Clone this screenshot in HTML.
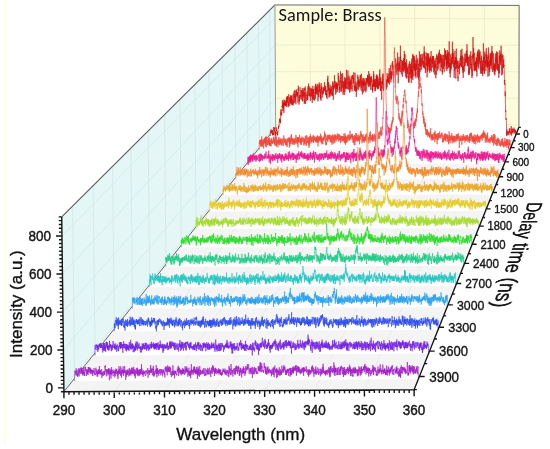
<!DOCTYPE html>
<html><head><meta charset="utf-8"><style>
html,body{margin:0;padding:0;background:#fff;}
body{width:550px;height:449px;overflow:hidden;position:relative;}
.edge{position:absolute;left:4px;top:0;width:1.5px;height:443px;background:#fffde2;}
svg{position:absolute;left:0;top:0;}
.dt{overflow:visible;transform-origin:0 0;}
</style></head><body>
<div class="edge"></div>
<svg width="550" height="449" viewBox="0 0 550 449">
<polygon points="63.93,391.69 61.72,216.83 274.96,4.94 275.67,127.48" fill="#e4f6f6"/>
<polygon points="275.67,127.48 274.96,4.94 519.15,5.40 518.91,127.34" fill="#fdfddb"/>
<polygon points="63.93,391.69 414.14,389.65 518.91,127.34 275.67,127.48" fill="#f4f4f4"/>
<path d="M270.35,134.12L269.61,10.26M259.35,147.84L258.55,21.25M247.84,162.20L246.98,32.75M235.79,177.23L234.86,44.79M223.17,192.99L222.16,57.41M209.92,209.52L208.82,70.66M196.00,226.89L194.81,84.58M181.36,245.16L180.07,99.22M165.94,264.40L164.55,114.65M149.67,284.70L148.16,130.93M132.50,306.13L130.85,148.13M114.32,328.81L112.54,166.33M95.07,352.84L93.12,185.62M74.63,378.34L72.51,206.10M63.88,387.91L275.65,124.82M63.40,350.06L275.50,98.26M62.92,312.11L275.35,71.65M62.44,274.06L275.19,45.00M61.96,235.93L275.04,18.31" stroke="#d2e9e9" stroke-width="0.8" fill="none"/>
<path d="M310.56,127.46L309.99,5.01M345.41,127.44L344.97,5.07M380.20,127.42L379.91,5.14M414.95,127.40L414.79,5.20M449.65,127.38L449.63,5.27M484.30,127.36L484.41,5.33M275.65,124.82L518.91,124.70M275.50,98.26L518.96,98.26M275.35,71.65L519.02,71.79M275.19,45.00L519.07,45.27M275.04,18.31L519.12,18.70" stroke="#ebeac4" stroke-width="0.8" fill="none"/>
<path d="M114.26,391.40L310.56,127.46M164.49,391.11L345.41,127.44M214.62,390.82L380.20,127.42M264.65,390.52L414.95,127.40M314.58,390.23L449.65,127.38M364.41,389.94L484.30,127.36" stroke="#e7e7e7" stroke-width="0.8" fill="none"/>
<rect x="276" y="5.6" width="114" height="18" fill="#fdfddb"/>
<path d="M61.72,216.83L274.96,4.94" stroke="#555" stroke-width="1.05" fill="none"/>
<path d="M274.96,4.94L519.15,5.40L518.91,127.34" stroke="#6a6a6a" stroke-width="1" fill="none"/>
<path d="M274.96,4.94L275.67,127.48" stroke="#9a9a9a" stroke-width="1" fill="none"/>
<path d="M63.93,391.69L275.67,127.48" stroke="#555" stroke-width="0.9" fill="none"/>
<defs>
<path id="t0" d="M2704 1360l-1-41 1-6 1 6 1 7 1-3 2 9 0-15 1-21 2 26 1 5 1-12 1 3 1 2 1 13 1-18 1-18 1 21 1-17 1 23 1 5 1 22 1-16 1 12 1-29 1-5 1 5 1 37 1-25 1-6 1 0 1 25 1-18 1-5 1-16 1-37 1 22 1-11 1-14 1 18 1-5 1 3 1 10 1 25 1-14 1-12 2 51 1-21 1 22 1 13 1-42 1 10 1 20 1-27 1-17 1-2 1-23 1 8 1-7 1-6 1 34 1-11 1 12 1-2 1 30 1 0 1 0 1-12 1-3 1 32 1-13 1-26 1 36 1-17 1-1 1-21 1 0 1 2 1-11 1-11 1-33 1 26 1-6 1-17 1-1 1-4 1 11 1-22 1 2 1-36 1 0 1 3 1-19 1 12 1-26 1 22 1-9 1 35 1-34 1 36 2 0 0-46 1-4 1-37 1-50 1 63 1-10 1-24 1-6 1 23 1 8 1-20 1-1 1 24 1-37 1-19 1 10 1-48 1 11 1-63 1 3 1-6 1 22 1-4 1 57 1-12 1-26 2 69 0-82 2 64 0-67 2 52 0-24 2 31 1 47 0-135 1 24 1 20 1-7 1-7 2 26 0-45 2 51 1-13 1 12 1-13 1 19 1-58 1 49 1-29 1 20 1 11 1-17 1 0 1-22 1 4 1-3 1 35 1-7 1-58 1 72 1 11 1-52 1-51 1 57 1-47 1 12 1 38 1-62 1 18 1-12 1 17 1-29 1 39 1 5 2 47 1 23 0-61 2 47 0-44 1-25 1-16 1-8 1-25 1 41 2 8 1 11 0-30 2 16 1 11 1 33 1 30 1-64 1 0 1 39 1-12 1-7 1-7 1-14 1 23 1-64 1 79 1-54 1 14 1-9 1-31 1 10 1 72 1 7 1-82 1 43 1-29 1-18 1 36 2 57 0-63 1 15 2 18 1-5 1 22 1 13 1-42 1 24 1 23 1-62 0-52 2 30 1 37 1 2 1 25 1-3 1-53 1 0 1-48 1 6 0-26 2 119 1-66 1 11 1-23 1 23 1-40 1-37 1 26 1 9 1 35 1-27 1 30 1 45 1-61 1 37 2 51 0-72 1-60 1 28 1 27 1-11 1-61 1 32 1 13 1 10 1-3 1-28 1 4 1 7 2 36 0-43 2 41 0-40 2 44 1 32 1-1 1 29 1-115 0-27 2 23 0-51 2 25 1 76 1 4 1 38 1 9 1 37 1-28 1-5 1-38 1 32 1 8 1-62 1 33 1-37 1 25 1-102 1 28 1 4 1-2 1 9 1 1 1 35 2 30 1 14 0-44 2 17 1 2 1 2 1-3 0-63 2 41 1 20 1 18 1 20 1-44 1-46 1 22 1-52 1 46 1 10 1 77 1-27 1 19 1-87 1 61 1-50 1-31 1 34 1 26 1-23 1 4 1 25 1-46 1-38 1 93 2 27 1 38 1-49 1 36 1-18 0-87 2 57 0-73 1-26 1 31 1-9 1-36 2 88 1 43 1 43 1-43 1-63 1-10 1 38 1-11 1-1 1 2 1 44 1 5 1-1 1 10 1-17 1-8 1 7 1-26 1-55 1 25 1 9 1 56 1-66 2 64 0-31 1-89 1-16 1 15 1 46 1-42 1 17 1-26 1-36 1 73 2 39 1 12 0-42 2 5 1 39 1-34 1 35 0-81 1-10 1-7 2 47 1-35 1 20 1 15 1 18 1 57 1 22 1-70 1 22 1-24 1-40 1 71 1-43 1-37 1-4 1 34 1-32 1 34 1 41 1-17 1-53 1 31 2 109 1-69 1 31 1-48 1 22 1-23 1 23 0-109 2 94 0-60 2 49 0-52 2 46 1-30 1-12 1 107 1-51 1 24 1 30 1-34 1-12 1-6 1 32 1 20 1-24 1 0 1-16 1-59 1-39 1 82 1-27 1 46 1 23 1-142 1 84 1-93 1 65 1-22 1 40 1 24 1-48 1 16 1-28 1 20 2 37 0-64 1 18 1-38 2 52 0-39 2 45 0-78 2 64 1 42 1-25 1-7 1 101 1-11 1-20 1 2 1-52 1 39 1-10 1-61 1 15 1-67 1 34 1 3 1 44 1-105 1 82 1-10 1 14 1-5 1 0 1-62 1 99 2 25 1-6 1 17 0-67 1 3 2 64 1 16 1-38 0-70 2 121 0-125 1-16 1-36 2 58 0-23 2 57 1 5 1-63 1 24 1 39 1 15 1 35 1-46 1-8 1-1 1-9 1 30 1-28 1 10 1-32 1-16 1 57 1 9 1-35 1 5 1-6 1-29 1 34 1-42 1 41 1-3 1 2 1-16 1-31 1-42 1 18 1-2 1 28 2 47 0-56 2 45 1-14 1-1 1 64 1-77 1-12 1 9 1 20 1 17 1 41 1-8 1 16 1-21 1 38 1-58 1-9 1 0 1 12 1-19 1 90 1-67 1-5 1-27 1-103 1 77 1-27 1-27 1-53 1 89 1 62 1-68 1-20 1 4 1 22 2 56 0-75 1 56 2 92 1-97 1 59 1-10 1-11 1-37 1 87 1 2 1-43 1-12 1 23 1-91 1 81 1-12 1-22 1 20 1 26 1-26 1 51 1-33 1-30 1-2 1-29 1 14 1 22 1-20 1 47 1 17 1-88 1 12 1-5 2 85 1-31 1 12 1 0 1 25 0-88 1-57 1 12 1 37 1-4 1-34 2 174 1-148 1 53 1-13 1-42 1 12 1 20 1-1 1-23 1 28 1-38 1-48 0-47 2 72 1 8 1 3 1-27 1 58 1-51 1 74 1-32 1 6 1-20 1 7 1 97 1-16 1-45 1 22 2 19 0-93 1 18 1 2 1 34 1-56 1 35 1-48 2 72 1-2 0-40 2 33 0-41 2 23 1 55 1-26 1 4 1-64 1 25 1-34 0-67 1-29 1 17 2 68 1-7 1-47 1 61 1 31 1-37 1-4 1 59 1 49 1 10 1-63 1-6 1 39 1-19 1-33 1 7 1-55 1 26 1-40 1 6 1-76 1 69 1 78 2 40 1 16 1-48 1 47 1-50 0-35 1-92 1 1 2 138 1-12 1-48 1 65 1-9 1-63 1 18 1-20 1 22 0-101 1 11 2 65 1 28 1 113 1-97 1 10 1-37 1-9 1 49 1 59 1-71 1 26 1-61 1 37 1 5 2 92 0-108 1 26 1-51 1-45 1 72 2 78 1-28 1-4 0-53 1-39 2 70 0-68 2 87 0-106 2 102 1-27 1 37 1-1 1-25 1 13 1-70 0-112 2 52 1 32 1 24 1 43 1-78 1 60 1 24 1 34 1-4 1 5 1-43 1 3 1-45 1-101 1 82 1 15 1-9 1 17 1 87 1-26 1-48 1 6 1-54 1-19 1 83 1-10 2 40 0-58 2 117 1-67 1-29 0-57 1 8 1-2 2 136 1-61 1 36 1-7 1-73 1 24 1 24 1-62 1 49 1-20 1-29 1 8 1-47 1 53 1 37 1-25 1 26 1 43 1-36 1 36 1 23 1-129 1-5 1-32 1 10 1-6 1 38 1-30 1 30 1-3 1-5 1 58 1-52 1 0 1-15 2 57 0-107 1 54 2 55 1 38 1-21 1 23 1 34 1-28 1 26 1-42 1 17 1-13 1-140 1 23 1 128 1-3 1 32 1-48 1 58 1-53 1-44 1 6 1 46 1 15 2 81 1-12 1-41 0-35 1-9 2 38 0-48 1-28 1 29 2 21 1 8 0-83 1 20 2 14 1-14 0-81 1 44 1-25 1 10 2 41 1 81 1-3 1-94 1 47 1 10 1-17 1-21 1-33 1 54 1 32 1-59 1-3 1 17 1-19 1 39 1-35 1 51 1-73 1-37 1 49 1 12 1-8 1-56 1 118 1 4 1 8 2 0 1 23 0-65 1-11 1-92 1 90 2 56 1-33 0-47 2 47 1-26 1-8 1 99 1-17 1 47 1-94 1-61 1-5 1 69 1-37 1 26 1 11 1-38 1 110 1-98 1 16 1-64 1 44 1 40 1-23 1-13 1 18 1-24 1 32 1 56 1-107 1 10 1 20 1-5 1-44 1 49 1 14 1-3 1-25 2 40 1-12 1 66 1 12 1-94 1 40 1 36 1-46 1-60 1-20 1 47 1-35 1-10 1 48 1-35 1 20 1 25 1 9 1-9 1-5 1-87 1 71 1-62 1 36 1-8 1 5 1 30 1-60 1 104 1-79 1 17 1-91 1 9 1 151 1-10 1-40 1 2 1 1 1 23 1-35 1-31 1 3 1-47 2 125 0-90 2 66 0-72 2 46 1 37 1-29 1 57 1 3 1 18 1-66 1-33 1-32 1 35 1-39 1 47 1 14 1-18 1-19 1 49 1 4 1 13 1 6 1 44 1-63 1 60 1-21 1 46 1-53 1-19 1 21 1-77 1 72 1-52 1 11 1 34 1-29 1-122 1 111 1-82 1 83 2 35 0-67 2 81 1-72 1 58 1 10 1-11 1-11 1 62 1 5 1-32 1 29 1-37 1-84 1 101 1-68 1 60 1-66 1 24 1-7 1-25 1-46 1 55 1 7 1 46 1-126 1 78 1-45 1 39 1-64 1 127 1-58 1-59 1 84 1 26 1-16 2 39 0-50 1-77 1 44 2 77 1-7 1-16 1-50 1 65 1-9 1-70 1-16 1 29 1 20 1 14 1-33 1 44 1-126 1 35 1-40 1-35 1 45 1 99 1-60 1 8 1 97 1 29 1-34 1 29 1-136 1 128 1-43 1-25 1-1 1-12 1 12 1 46 1-18 2 140 1-80 1 0 0-69 1-36 1 26 2-7 0-41 2 20 1 36 0-98 1-4 2 144 1-62 0-93 2 39 1 5 1 23 1 43 1 25 1 41 1-35 1 34 1-16 1 11 1-51 1 27 1-21 1-36 1 20 1-22 1-17 1-9 1 3 1 22 1-17 1 79 1-87 1 38 1 7 1-28 1 4 1-11 1 64 1-51 2 57 1 22 0-76 2 54 1-54 0-27 2 16 1 63 1-38 0-105 2 59 1 32 1-16 1-42 1 34 1 25 1-23 1-18 1 39 1 8 1-42 1 47 1-22 1 5 1-78 1 79 1-2 1-27 1-60 1-48 1 64 1 42 1 59 1-23 1-77 1-15 1 15 1-31 1-4 1-7 1 47 1-19 1 51 1-31 1-102 2 174 0-57 1-12 2 30 1 12 0-50 1-24 1-7 2 71 1-68 1 29 1-27 0-43 1-23 1-24 2 41 0-61 1 6 2 26 1 5 1 56 1-11 1-38 1 106 1-50 1 42 1 4 1 69 1-24 1-32 1-42 1-15 1 35 1 0 1 30 1-51 1 31 1-122 1 55 1 89 2 67 0-40 1-3 1-35 1-120 1 27 1 7 1-73 1-25 1 94 2 45 1 2 1-29 0-24 1-22 2 4 1-2 1-17 1 24 1 91 1-54 1-22 1 10 1-79 1 34 1 28 1-141 1 143 1 42 1-27 1-11 1 32 1 128 1-75 1-31 1 0 1-62 1-40 1 75 1 18 1-149 1 100 1 35 1-61 1-7 1 45 1-67 1 54 1 26 1-30 1-7 1 60 1-72 1-31 1-158 1 155 1-49 2 110 1 43 1-8 1 14 1-5 1 26 1-6 1-56 1-80 1 0 1 0 1 89 1 6 1-16 1 41 1 49 1-28 1 2 1-136 1 96 1-89 1 44 1-30 1 34 1 45 1 3 1-11 1-2 1 21 1-42 1-96 1 116 1-104 1 45 1-25 1-102 1 172 1-41 2 63 0-162 1 46 1-47 1 43 2 146 1-48 1-19 1-41 1 66 1 7 1 72 1-120 1-17 1 72 1 14 1 65 1-105 1-83 1 77 1-19 1 51 1 84 1-97 1-10 1 47 1-29 1-18 1 31 1-3 1 30 1 3 1-76 1 29 1 46 1 31 1-9 2 64 1-39 1-25 0-100 1 4 1-29 2 188 1-16 1-82 1 18 1-21 1-110 1 61 1 12 1 5 1-50 1 38 1 104 1-4 1-70 1-19 1 33 1-72 1-14 1 102 1-38 1 3 1 63 1 63 1-104 1-69 1-41 1 167 1-197 1 165 1-84 1-9 1 17 1 41 1 58 1-77 1 48 2 54 0-260 1 66 1-55 1 132 1-74 1 9 1-10 1-46 2 123 1-29 1 110 1-55 1-33 1 32 1-150 1 101 1-77 1 36 1 68 1-50 1 69 1-43 1-61 1 109 1-15 1 65 1-57 1-67 1 110 1-21 1 57 1-10 1-33 1-143 1-49 1 86 1 65 1-59 1 30 1-69 1 6 1 0 1 8 1 90 1 19 2 49 0-94 1-10 1-89 1 37 1-9 2 25 1 105 1-19 1 3 1-67 1-18 1 72 1 86 1-61 1 111 1-166 1 48 1 48 1-262 1 33 1 106 1-50 1 26 1 1 1 92 1-4 1-30 1 10 1-56 1 28 1-122 1 109 1-70 1 73 1-28 1-89 1 69 1 18 1 35 1 33 1-42 1 6 1-3 1-65 1-13 1 34 1 10 1-30 2 52 1-31 0-76 2 61 1 18 1 2 1 40 1 9 1-3 1-32 1 8 1-34 1 67 1-19 1 19 1-148 1 60 1-123 1 179 1-21 1 63 1-66 1-102 1 51 1 18 1-13 1 72 1 1 1-7 1 91 1-65 1 35 1-25 1-16 1-41 1-32 1-25 1 94 1-129 1 61 1 28 1 44 1-17 2-19 1 33 1 118 1-116 1-126 1 187 1-152 1 32 1 48 1-54 1 107 1-82 1-80 1 68 1 23 1-7 1-86 1 11 1 104 1-85 1 103 1-84 1 25 1 97 1-118 1 75 1 3 1-72 1 129 1 6 1-100 1 75 1-132 1 105 1 28 1-62 1-79 1 2 1 42 1-5 1-3 1 13 1-103 1 120 2 85 1-20 1-73 1-24 1 14 1 12 1-35 1 90 1-6 1-95 1 60 1-39 1-39 1 33 1 46 1-82 1 74 1 36 1-84 1-24 1 40 1-29 1 41 1 112 1-70 1-4 1-13 1 40 1-66 1-4 1 17 1 83 1-58 1 98 1-52 1-91 1 70 1-23 1-70 1 84 1 15 1-8 1-33 2 144 1-73 1 13 1 22 1 3 1-5 1-82 1 7 1-92 1-35 1 56 1-10 1-26 1 96 1 54 1-40 1 16 1-72 1-37 1 72 1-34 1-63 1 84 1-12 1 69 1-8 1-22 1-137 1 97 1-2 1 3 1-7 1-15 1 34 1-100 1 48 1-87 1 35 1-10 1 108 1-42 1 14 1 21 2 88 0-145 2 51 1 9 1-87 1 67 1-61 1 54 1-7 1-15 1 51 1 41 1 3 1-11 1-53 1-58 1 116 1-87 1 62 1 79 1-60 1 85 1-7 1-49 1-74 1-34 1-11 1-24 1 132 1-83 1 97 1-53 1-53 1-6 1-10 1-10 1-10 1 26 1 49 1 98 1-8 1-20 1-105 1 69 1-176 1 73 1 27 2-26 1-7 1 44 1-31 1 34 1-72 1-25 1 57 1-49 1 89 1 32 1 58 1-38 1-68 1 73 1-94 1 22 1 14 1 113 1-111 1-57 1 43 1-50 1 103 1-137 1 79 1-42 1 151 1-97 1 46 1-57 1 66 1-13 1-117 1 156 1 3 1-25 1 17 1-110 1-30 1 103 1 41 1-259 1 158 2 33 1-10 1 78 1-45 1 66 1 42 1-61 1 100 1-142 1 65 1-9 1-93 1-52 1 74 1 95 1-62 1-40 1 76 1-9 1-101 1 30 1 49 1-38 1 16 1-55 1 2 1-48 1 15 1 89 1-219 1 123 1 45 1-20 1 54 1-16 1-112 1 91 1 68 1-119 1 103 1-6 1 43 1-7 1 5 1-10 2-8 1 129 1-150 1 76 1-12 1-85 1 23 1 47 1-170 1 126 1-29 1 18 1-55 1 76 1-63 1 112 1-30 1 122 1-29 1-152 1 16 1-27 1-108 1 90 1 59 1-60 1 113 1-81 1 2 1 69 1-14 1-45 1 13 1 49 1-74 1 111 1-21 1 46 1 39 1-12 1 43 1-128 1-3 1-7 1 16 1-12 2-70 1 71 1-16 1-7 1 21 1-27 1 68 1 24 1-97 1 32 1-48 1 25 1-73 1 20 1 23 1 26 1 9 1-11 1-32 1-60 1 52 1-109 1 94 1-24 1 75 1 23 1-104 1 89 1 19 1-48 1-29 1-107 1 104 1-16 1 95 1-64 1-16 1-35 1 143 1-35 1 17 1 48 1-60 1 6 1 104 1-120 2 3 1 29 1 21 1-138 1 61 1-13 1 2 1 93 1-74 1 22 1-35 1-20 1-15 1-59 1 38 1 13 1 16 1-14 1 69 1-15 1-35 1 3 1-24 1 40 1-89 1 51 1 36 1 6 1-118 1 38 1 68 1-16 1-17 1-80 1 39 1-103 1 155 1-37 1 101 1-120 1 98 1-10 1-39 1-19 1 88 1-51 2-40 1 61 1 61 1 46 1 12 1-46 1-18 1-77 1-39 1 184 1-49 1 30 1-48 1 39 1-78 1 1 1-99 1 29 1 28 1-2 1 39 1 50 1-121 1-11 1 5 1-53 1 1 1 127 1 11 1-91 1 13 1 94 1 5 1-33 1-1 1 70 1-43 1 94 1 22 1-87 1 66 1-60 1-80 1-58 1 12 2-33 1 46 1-217 1 190 1 97 1-50 1-45 1-6 1-77 1 20 1 109 1 12 1 86 1-46 1 7 1-140 1 90 1 85 1-59 1-12 1 82 1-17 1-33 1-32 1 32 1 40 1-87 1 35 1-22 1 41 1-11 1-54 1 99 1-84 1-44 1 54 1-5 1 91 1-94 1 11 1-66 1 197 1-36 1-114 1-78 1 25 2-45 0 112 1 10 1-2 2-33 1 66 1-135 1-37 1 105 1 16 1-64 1 60 1 72 1-163 1 22 1 44 1-95 1 109 1 41 1-64 1 25 1-26 1-49 1 61 1 13 1-92 1 38 1 13 1 30 1 35 1-9 1 80 1-89 1 118 1-41 1 53 1-35 1-46 1-80 1 45 1-68 1 18 1 56 1 67 1-35 1 76 1-100 1-6 1 38 1 34 1 34 2-134 0 157 2-127 1 40 1 27 1 3 1-135 1-136 1 197 1-20 1-40 1 54 1-52 1 137 1-42 1 74 1-175 1 104 1 60 1-90 1-5 1-120 1 64 1-37 1-5 1 7 1 110 1-46 1 8 1 21 1-13 1 27 1 59 1-115 1 75 1-164 1-25 1 52 1 78 1-64 1 106 1-10 1-16 1-83 1 47 2-22 0 108 2-84 0 42 1 37 2-66 1 17 0 144 2-149 1 53 1-121 1-75 1 117 1-33 1 32 1 11 1 39 1 12 1 107 1-142 1 80 1-73 1-27 1 44 1 78 1-29 1-36 1-48 1-78 1 98 1-79 1 21 1 51 1 42 1-69 1 54 1-39 1-1 1-66 1 149 1-160 1 72 1 12 1 39 1-83 2-110 0 120 2-65 0 99 2-98 0 102 1 67 1 36 1-8 1-10 2-52 1-34 1 12 1 70 1-37 1 33 1-60 1-101 1 30 1 21 1 58 1 16 1 55 1-64 1 91 1-43 1 13 1-38 1-40 1 120 1-12 1 1 1-103 1 68 1-1 1 9 1-2 1-85 1-95 1 154 1-112 1 0 1 45 1-33 1 10 1 29 1-112 1 180 1-95 1 5 1 33 1-54 2-51 1 37 1 4 1-1 0 134 2-150 1-37 1 57 1 1 1 109 1-48 1 59 1 11 1-61 1 85 1-31 1 78 1-84 1-27 1 11 1-13 1-110 1 167 1 12 1-24 1-128 1-80 1 65 1 58 1 5 1-61 1 82 1-119 1-5 1 67 1-8 1 11 1-50 1 67 1-158 1 47 1 42 1 17 1 77 1 72 1 41 1-29 1-128 2-57 0 37 2-17 0 110 1 24 1 5 1 45 1-40 2-79 1-72 1 127 1-40 1 42 1-69 1 16 1-10 1-28 1 13 1 43 1 16 1-13 1 43 1 9 1 137 1-39 1 13 1-11 1 31 1 18 1-14 1 52 0 74 2-47 1 40 0 83 1 3 1 79 1-17 1 58 1 30 1-4 1 11 1-13 1 17 1 27 1 43 1 82 1-37 1 41 1-41 1-23 1 11 1 16 1 5 1 3 1 7 1 4 1 10 1-30 1 11 1-20 1 17 1-1 1 7 2-9 1-6 1 13 1 19 1 3 1-41 1 19 1-6 1-27 1 7 1 8 1 9 1-43 1 22 1-8 1 8 1 21 1 7 1-14 1 8 1 11 1 12 1-2 1-22 1 10 1-37 1-8 1-27 1 27 1 23 1 8 1 36 1-45 1-8 1-12 1 14 1 10 1 4 1-15 1-17 1 32 1-8 1 18 1-37 1 9 1 9 1 27 1-22 1 3 1-8 1-1 1-16 1 6 2-22 1 8 1 11 1 4 1 12 1-17 1 11 1-8 1 12 1 22 1-26 1 29 1-32 1-7 1 22 1-13 1-4 1 11 0 47"/>
<path id="t1" d="M2594 1498l-1-56 1-17 1 8 1-8 1-17 1 34 1-42 1 0 1-4 2 60 1-14 1-44 1 34 1 10 1 8 1 17 1-24 1 7 1-6 1-29 1 33 1-54 1 72 1-102 2 88 0-39 1-5 1 19 1-21 2 14 1 35 1-44 1-13 1 42 1 29 1-21 1-17 1 4 1-16 1 13 1 1 2 54 0-96 1 45 1-22 1 24 1-7 1-8 1-34 1 2 2 21 0-32 2 52 1-22 1 19 1-42 1 24 1-22 1-17 1 85 1-91 1 45 1 18 2 38 0-62 2 68 0-57 1 0 1-49 2 46 0-28 1 2 1-16 2 53 1-24 1 50 1-9 1-16 1-2 1 27 1-19 1-27 1 22 1-8 1 20 1-45 1-5 1 34 2 2 0-45 2 24 1 28 1 22 1-7 1-56 1 63 1-80 1 63 1 7 1-32 1 34 1-14 1 29 2 2 0-40 1 1 2 15 1 22 0-60 2 11 1 3 1 9 1 40 1-81 1 53 1-16 1-15 1 6 1 16 1-5 1-15 1-18 1 9 1 30 1-11 1 12 1 0 2 12 0-29 2 21 1-23 1 10 1 5 1 3 1-21 1-32 1-2 1 30 1 11 1 1 1-48 1 37 1 15 1-28 1 47 1-30 1 9 2 9 1 28 1-45 0-16 2 66 1-36 1-16 1-42 1 53 1 6 1-25 1-46 1 46 1 1 1-27 1 92 2 3 0-68 1 2 2 47 0-44 2 11 1-4 1 21 1-8 1 12 1-15 1 14 1-36 1 27 1 47 1-48 1-26 1 24 1-20 1 22 1-21 1 30 1-46 2 43 0-61 2 64 1 17 1-53 1 23 1 0 1-2 1 12 1 17 1-25 1-3 1-3 1-34 1 57 1-24 1-19 1 15 1 14 1-10 1-27 2 41 1-12 1 33 1-26 1 21 1-1 1-26 1-1 1-32 1 71 1-45 1-24 1 5 1 37 1 3 1-5 1-17 1-8 1 13 1-2 2 41 1 4 1 2 1-1 1-33 1-17 0-56 2 42 1 12 1-28 1 51 1-24 1-15 1 2 1 7 1 12 1 17 1-26 1 12 1-26 1 23 1-12 2 51 0-58 2 39 1 16 1-3 1-17 1-41 1 8 1 41 1-26 1 6 1 33 1-13 1 22 1-27 2 39 0-42 1 4 2-2 1 1 0-42 2 36 1-11 1-10 1-27 1 19 1 18 1 4 1-12 1-6 1-6 1 9 1-21 1 30 1-41 1 18 1 34 1-30 2 83 0-95 1 22 2 4 1 54 0-86 2 65 1-5 1-37 1 20 1 9 1-34 1 41 1-36 1 11 1-32 1 40 1-64 1 20 1-32 1 69 1-45 1 34 2 3 1 36 1-28 1-3 1 32 1 6 1-11 1-53 1 26 1-21 1 10 1 1 1 0 1 19 1-31 1 26 1-1 2 33 0-41 2 22 1-1 1-28 1 54 1-16 1-18 1-16 1 28 1-31 1-11 1 25 1 22 1-2 1-51 1 19 1 37 1-15 1-8 1-5 1-9 1-50 2 69 1-17 1 23 1-21 1 20 1-18 1 4 1-19 1 6 1 30 1-56 1 73 1-32 1-39 1 66 1-40 1 4 1 28 2 45 0-101 2 39 1 4 0-47 2 43 1-36 1 39 1-25 1 34 1-16 1 10 1-7 1-23 1 3 1-14 1-30 1 19 1 56 1-24 1 5 1-8 1 8 1-19 2 47 1-25 1 40 1-66 1 17 1-1 1 20 1-9 1 18 1-24 1 46 1-49 1 7 1-40 1 35 1-10 1-13 1 0 1 5 2 26 1 4 1-9 1-5 1 22 1 1 1-17 1-22 1 19 1-20 1-6 1 7 1 31 1 5 1 37 1-23 1-24 1 34 1-55 1-4 2 36 0-30 2 51 1-6 1-14 1-10 1 0 1 12 1-66 1 36 1 0 1-7 1 14 1 14 1 14 1 32 1-68 1 49 2 9 0-28 2 12 0-83 1 36 1-22 1 0 2 20 1 3 1 32 1-10 1 15 1-12 1 16 1-47 1 5 1 12 1 28 1-54 1 0 1 33 2 41 0-25 2-8 1 65 1-79 1 58 1-49 1-37 1 41 1-4 1 17 1-10 1-57 1 16 1 30 1-2 1-11 1-50 1 44 1-16 1 40 2 25 0-59 1 26 2 8 1-8 1-3 1-1 1 24 1-55 1 24 1-9 1 31 1-17 1-2 1-30 1 2 1 9 1 24 1 15 1-6 1-3 1-4 1 13 1-65 1 31 2 50 1-21 1 5 1-35 1-16 1 48 1-30 1 24 1-30 1-7 1 16 1-17 1 9 1 6 1 19 1-27 1 15 1 12 1-4 1 4 2 21 1-8 1-34 1 30 1-39 1 53 1 1 1-35 1-15 1 32 1-30 1-9 1-3 1 27 1-7 1 44 1-38 1-9 1-28 2 58 1-6 1 10 1-33 1 81 1-32 1-73 1 24 1 38 1-31 1-20 1 10 1 21 1 14 1-35 1 19 1-18 1 7 1-1 1-24 1 42 1-22 2 21 1-9 1 3 1 11 1-18 1-23 1-31 1 23 1 32 1-36 1 25 1-26 1 71 1-57 1 48 1-37 1 37 1-30 1 25 2 31 1-26 1-24 0-13 2 44 1-24 1-7 1-13 1 7 1 33 1 21 1-38 1 10 1-36 1 22 1-32 1 30 1-27 1 10 1-5 1 30 1-22 1 12 1-15 1-16 1-50 2 67 1-17 1 8 1-28 1 14 1-7 1 23 1-39 1 25 1 67 1-43 1 9 1 58 1-19 1 0 2 9 1-22 1 33 0-66 2-9 1 3 1 13 1-7 1 11 1-34 1 15 1-31 1 54 1-38 1 45 1-8 1 19 1-37 1 9 1-18 1-20 1 35 1-7 1-9 2 19 1 6 0-50 2 16 1-7 1 0 1 34 1-24 1-18 1 37 1-16 1 23 1-14 1-30 1 40 1 31 1-22 1 3 1-26 2 42 0-21 1-23 2 29 0-48 2 74 1-25 1 10 1-23 1-30 1 13 1 3 1 15 1 58 1-57 1 38 1-37 1-7 1 3 1-21 1 30 1-55 1 25 1-11 1 13 2 3 1 29 1-35 1 71 1-45 1 11 1-7 1-24 1 15 1-38 1 5 1 21 1-13 1 49 1 20 1-25 1-6 1-57 2 60 0-28 2 2 0-29 2 42 1-11 1 19 1 16 1 3 1-7 1-50 1 22 1 7 1-6 1 11 1-13 1-2 1-17 1-9 1 51 1-44 1-27 2 52 1-15 1-3 1-14 1 16 1 20 1-16 1-14 1 13 1-30 1 36 1 37 1-5 1-19 1-4 1-22 1 4 1-27 1 23 1-11 2 51 1-6 1-23 1 14 1-11 1 7 1 18 1-50 1 16 1 62 1-18 1-15 1-19 1 11 1 25 1-49 1 23 1-29 1 22 1-15 1 2 1-4 2 30 0-33 2 20 1 33 1-19 1-3 1-21 1-9 1 37 1-40 1 19 1 26 1-36 1 39 1-9 1-21 1-4 1 32 1-41 1-3 1 28 1-58 2 43 1-6 1 59 1-61 1 30 1-22 1 47 1-64 1-11 1-14 1 102 1-75 1 10 1 77 1-47 1-12 1-33 1 48 1-23 1 6 1-8 2 18 1-25 1 3 1 54 1-52 1 40 1-14 1-36 1 14 1-18 1-8 1 7 1 34 1 18 1-31 1-8 1 1 1 0 1-32 1 16 1 29 1-33 1-1 2 0 1 44 1 3 1-18 1 21 1-5 1-19 1 13 1-32 1 27 1-40 1 7 1-49 1 68 1-21 1-5 1 40 1-4 1-19 1-6 2 38 1-35 1 14 1-4 1-4 1 5 1-30 1 10 1 13 1-8 1-21 1 7 1-6 1 35 1 4 1-34 1 49 1-35 1 18 2 27 1 20 1-44 1 30 1 1 1 20 1-69 1 17 1-4 1-7 1 12 1 14 1-2 1 18 1 44 1-78 1 1 1 5 1-32 1 67 2 34 0-95 1 20 2 40 1-30 1-24 1 39 1-37 1-32 1 14 1 31 1-6 1 31 1-33 1 26 1 13 1 4 1-77 1 35 1 24 1-8 1-34 1 2 2 52 1-17 1-15 1 26 1 17 1-6 1-25 1 12 1 10 1-20 1-20 1 9 1 19 1-50 1 52 1-19 1 32 1-37 1 30 2 41 1-17 0-61 1 14 2 2 0-27 2 46 1-20 1 12 1-6 1-6 1-18 1-11 1-2 1-42 1 62 1-18 1-17 1 24 1-12 1-10 1 36 1-20 1-8 2 58 1 30 1-49 1 23 1-28 1 7 1-15 1-18 1 6 1 23 1 12 1 20 1-15 1-35 1-20 1 22 1 6 1 28 1 8 1 7 1-46 2 60 0-56 2 34 1-33 1 6 1-9 1-5 1 46 1-2 1-5 1 4 1-32 1 17 1-1 1-10 1 3 1-34 1 51 1-54 1-10 1 28 1-21 1 0 1 35 2 37 1-13 1-54 1 36 1-52 1-3 1 35 1-13 1 32 1-8 1 9 1-24 1 44 1-21 1-2 1-10 1 60 1-1 1-9 2-5 1-3 1-2 1-45 1 6 1 10 1 18 1-33 1-6 1-11 1 7 1-20 1-15 1 60 1 42 1-54 1 5 1 18 1-4 1-78 1 62 1 12 1-18 1-19 2 29 1 2 1-8 1 20 1-10 1 2 1 17 1-28 1 23 1-46 1 39 1-15 1 34 1-31 1 17 1-56 1 38 1-11 1 51 1-10 1-24 2 25 0-54 2 34 1-11 1-5 1 7 1-23 1 28 1-27 1-23 1 18 1 1 1 11 1-4 1-8 1 26 1 36 1-35 1 11 1-25 1 22 1-35 2 54 1-12 1-40 1 35 1-28 1 11 1 43 1-55 1-17 1 23 1 31 1-51 1 36 1-21 1-8 1 31 1 24 1-32 1-4 1 12 1-7 1-38 1 13 2 4 1 1 1-15 1-14 1 32 1 28 1-22 1 1 1-21 1-29 1 2 1 10 1 19 1 19 1-3 1 24 1-2 1-22 1 3 1-8 1-52 1 27 2 15 0-27 2 25 1-33 1 3 1-46 1 83 1-21 1 4 1-6 1-7 1 32 1-12 1-27 1-17 1 41 1 5 1-64 1-3 1-16 1 33 1-23 1-15 1-14 1-4 1-30 1-34 1 11 1-14 1-14 1-11 1-30 1-19 1-29 1-83 1-30 1-49 1-101 1-43 1-88 1-93 0-92 1-108 1-104 1-39 1-58 1-10 1 40 1 70 1 22 2 158 1 120 1 99 2 87 1 68 1 80 1 16 1 97 1 1 2 35 1 63 1-8 1 29 1 50 1-39 1 50 1 33 1 11 1 11 1-17 1 7 2 34 1-3 1 0 1 2 1 7 1 10 1-27 1-10 1 13 1 45 1-59 1 8 1 16 1-7 1 3 1 31 1 21 1-61 1 31 2-11 1 22 1-1 1-34 1 49 1-43 1 33 1-28 1-12 1-7 1 6 1 28 1-36 1-13 1 0 1-21 1 31 1 29 1-17 1-21 1-30 1 35 1-50 1-2 1 23 1-38 2 23 1-17 1 5 1-14 1 22 1-51 1 31 1-68 1-33 1-82 1-16 1-18 1-35 0-68 1-40 1-118 1 43 1-119 1-4 1-120 1 8 1-57 1 61 1 2 1 67 2 32 1 75 1 108 1-3 1 57 1-16 1 39 1 37 2 13 1 9 1 47 1-46 1 48 1 10 1 22 1-24 1-20 1-1 1 2 1-11 1 22 1-25 1 31 1-16 1-3 1-28 1 21 1 8 2 54 1-3 1-14 1-19 1 90 1-6 1 6 1 12 1 20 1-2 1 54 1-52 1 65 1-16 2-1 1-15 1 23 1 4 1-6 1 28 1-20 1-16 1 48 1 17 1-3 1-45 1 5 1 33 1-13 1-6 1-12 1 60 1-30 1-9 1-18 1-18 2 15 1-45 1 77 1-124 1 40 1-6 1 28 1-25 1-38 1 0 1 29 1 16 1-44 1-9 1-58 1 36 1-42 1-25 1 6 1-38 1 40 1-6 1-28 1-36 1 11 1-7 1-40 1 3 1 6 1-19 1 6 1-13 2 16 1 26 1 1 1 10 1-4 1 14 1 42 1 4 1 6 1-6 1 28 1-24 1 51 1-2 1 36 2 28 1-8 1 5 1 14 1 12 1 18 1 20 1 1 1-2 1 3 1 98 1-76 1-7 1 0 1 24 1 0 1 29 2-5 1-11 1 36 1-1 1-13 1 43 1-17 1 42 1-29 1 5 1 8 1 1 1-17 1 31 1-40 1-10 1-21 1 39 1-1 1-27 1-2 2 50 1-29 1 0 1 13 1 27 1-9 1-41 1-43 1 51 1-31 1 2 1 72 1-11 1-46 1 9 1 7 1 9 1-16 1 23 1-67 1 76 2 13 1-42 1-31 1 35 1-14 1 16 1-23 1 16 1-3 1 9 1-17 1-45 1 46 1-1 1-43 1 55 1 0 1-39 1 29 1-38 1-20 1 46 1-12 1-47 2 56 1-9 1-22 1 9 1 7 1-58 1 37 1-27 1 7 1-12 1 18 1-53 1 22 1-42 1 45 1-20 1-29 1-3 1 3 1-24 1 12 1-37 1 51 1-90 1-11 1-8 1-24 1 0 1-45 1-3 1-23 1-14 2 56 1-98 1 4 1-14 1 29 1-46 1-11 1 41 1-24 1-49 1 8 1-17 1 13 1-40 1 77 1-3 1-1 1 13 1-13 1-5 1 39 1-19 1 2 2 24 1-6 1 25 1 29 1-33 1 33 1-5 1 67 1 61 1-2 1-16 1 3 1 26 1-11 1 63 1 12 2-16 1 34 1 8 1-24 1 7 1 41 1-17 1 48 1-25 1 2 1 53 1-64 1-7 1 35 1-4 1-7 1 40 1-22 1 17 2 45 1-7 1 0 1-25 1 27 1-41 1 59 1 21 1-64 1-5 1 58 1 21 1-23 1 50 1-18 1 27 1-37 1 6 1 15 1 4 1 16 2-18 1-45 1 34 1-30 1 49 1-13 1 9 1-6 1-24 1 59 1-54 1 7 1 21 1-2 1 7 1-21 1 12 1 19 1-17 1-12 1 16 1 7 1-7 2 11 1-4 1 28 1-34 1-21 1 33 1 12 1-39 1 14 1-1 1-10 1-10 1 12 1 16 1-71 1 63 1 27 1-10 1-14 1 58 1-52 1 35 1-41 2 28 1 14 1-33 1-7 1 26 1-15 1 15 1-31 1 45 1-29 1 37 1-56 1 63 1-17 1-20 1 18 1 1 1 7 1-17 1 20 1-49 1-13 1-1 2 15 1-26 1 18 1-5 1 18 1 13 1 19 1 37 1-84 1 25 1-57 1 90 1-56 1 40 1-15 1 26 1-17 1 15 1-39 1 35 1-10 1-22 2 9 1 8 1-31 1 31 1-5 1 21 1 10 1 47 1-81 1 33 1-41 1-20 1 68 1-42 1 20 1-13 1 33 1-27 1-10 1-20 1-13 1 39 1 15 1-53 2 48 1-3 1-8 1-11 1-7 1 24 1-14 1-45 1 4 1 26 1 7 1 17 1-19 1 35 1-15 1 6 1-4 1-21 1-5 1 10 1-8 1 1 2 14 1 5 1-11 1-19 1-9 1 22 1 14 1-1 1-37 1 22 1 40 1-17 1 14 1 3 1 35 1-30 1 29 1-20 1-50 1 4 1 34 1 4 1 1 2 24 1-16 1-15 1 15 1-38 1 17 1 10 1-48 1 21 1 12 1-36 1 12 1 41 1-22 1 12 1 17 1-71 1 11 1 62 1-34 1 43 1-58 1 20 1 2 2-32 1 26 1 4 1-27 1 22 1-23 1 25 1-7 1 15 1 3 1 37 1-65 1 35 1-45 1 47 1-6 1 0 1-29 1 33 1-18 1 42 1-19 1-8 2 13 1 43 1-47 1 28 1-72 1 29 1-67 1 21 1 0 1 22 1-2 1-4 1 57 1-56 1 48 1-18 1 52 1-66 1-5 1 11 1 3 1 19 1-7 2-20 1 34 1-22 1-10 1 15 1-15 1-2 1 17 1-55 1 66 1-41 1 15 1 63 1-51 1-18 1 3 1 37 1-29 1 39 1-3 1-17 1-10 1-30 1 25 2-15 1 49 1 3 1-10 1-44 1 66 1-2 1-33 1-35 1 54 1-29 1 28 1-52 1 22 1 12 1 4 1-1 1-12 1 15 1 5 1 3 1-26 1 15 2-37 1 60 1-58 1-2 1-17 1 30 1 25 1-10 1-41 1 32 1 3 1 4 1-9 1 5 1 28 1-21 1-36 1-11 1 34 1 9 1-38 1 32 1 19 1-27 2-20 1-18 1 48 1-16 1 23 1-28 1 20 1 1 1 29 1-10 1 6 1 74 1-94 1 13 1-4 1-4 1-31 1 13 1 35 1-28 1 1 1 0 1 30 2-30 1 23 1-33 1-18 1 13 1 29 1 7 1 1 1-21 1 22 1-1 1 45 1-32 1-3 1-10 1-43 1 49 1-3 1-38 1 36 1-16 1-8 1 0 1 13 2-39 1-14 1 57 1-8 1-20 1 24 1 12 1-18 1-32 1 38 1-24 1 2 1 25 1-23 1 0 1-3 1 5 1 52 1-51 1 6 1-11 1 36 1-41 2 8 1 30 1-50 1 46 1 8 1-26 1 23 1-21 1 11 1-13 1-13 1 14 1-24 1-5 1 32 1-37 1 7 1 16 1-13 1-6 1 21 1 46 1-44 1 10 2 3 1-10 1 21 1-33 1 35 1 10 1-15 1-1 1-11 1 5 1 7 1-11 1 42 1-19 1-54 1 29 1-43 1 3 1 70 1-28 1-51 1 74 1-33 1 3 2-10 1-6 1-11 1-21 1 28 1-31 1 24 1-23 1 11 1 32 1-10 1 25 1 6 1-41 1 64 1-48 1-1 1 29 1-32 1 7 1 48 1-36 1 4 1 25 2-31 1-9 1 28 1 26 1-63 1 31 1 17 1-33 1 40 1-40 1-34 1 96 1-65 1 34 1-7 1 14 1-31 1 11 1 7 1 2 1-23 1-31 1 57 1-25 2 9 1 52 1-65 1 21 1-50 1 9 1 40 1-5 1 15 1 2 1-46 1 21 1 4 1-2 1-15 1-5 1 19 1 2 1-8 1-42 1 89 1-17 1-30 1 10 2-37 1 20 1-13 1 58 1-32 1 14 1-30 1 15 1-13 1 12 1 7 1 16 1-1 1 7 1 12 1-48 1 12 1-24 1 36 1 15 1-53 1 13 1-17 2-3 1-1 1-5 1 18 1 11 1 15 1-34 1 23 1 3 1-35 1 5 1-14 1 38 1-33 1 26 1 19 1 15 1-1 1-6 1-72 1 49 1-50 1 17 1 12 2 4 1-5 1-22 1 5 1 9 1 26 1 7 1-78 1 61 1 11 1-56 1 59 1-41 1 0 1 13 1-21 1 40 1-14 1-28 1-2 1 11 1 4 1 42 1 45 1-45 2 15 1-25 1-32 1 38 1-13 1 32 1-34 1 17 1 5 1-13 1 44 1-37 1 1 1-25 1 73 1-35 1-48 1 53 1-3 1-50 1-19 1 50 1 18 1 1 1 3 2 16 1 3 1-18 1 2 1-12 1 6 1 26 1-37 1 17 1 25 1-3 1-15 1 1 1-2 1-19 1-4 1 32 1-5 1 22 1-25 1-21 1-15 1 9 2 2 1 13 1-17 1 32 1-23 1 4 1 18 1-27 1-14 1 10 1 22 1-23 1-28 1 25 1-16 1 31 1-2 1 36 1-34 1 21 1-27 1 43 1-26 1-19 1-5 1 47 2-23 1-60 1 41 1 14 1 61 1-42 1-45 1 18 1-2 1-10 1 24 1-17 1 53 1-96 1 53 1 4 1-46 1 22 1-3 1 41 1-11 1-1 1 46 1-15 1 4 2-1 1 3 1 7 1-37 1 5 1-15 1 30 1 14 1 17 1-32 1 11 1-43 1-1 1 16 1 48 1 2 1-33 1 6 1-54 1 26 1 12 1-8 1-26 1 47 2-32 1 37 1-26 1 9 1-19 1 10 1-13 1 19 1 30 1 16 1-12 1-10 1-5 1 12 1-38 1 4 1 25 1 4 1-5 1-4 1-1 1 33 1-25 1 29 1-43 2-13 1 40 1-20 1 19 1 1 1-60 1 17 1 2 1 17 1-19 1 12 1-13 1 32 1-12 1 11 1 23 1-78 1 24 1 29 1 13 1-14 1 6 1-4 1 19 1-16 2-18 1-3 1 57 1-36 1 25 1 4 1-16 1 5 1-34 1-6 1 14 1 2 1-53 1 3 1 39 1 22 1-16 1-6 1 42 1-53 1 37 1-33 1 26 1-20 2 6 1-13 1-19 1 47 1-3 1-9 1 27 1-51 1 74 1-89 1 61 1-41 1-18 1 19 1 39 1-23 1-5 1-5 1-11 1 5 1-4 1 57 1-35 1 66 1-35 1 25 1 5 2-73 1 6 1-31 1 53 1-2 1-15 1 19 1-11 1 16 1-9 1 12 1-56 1 33 0 62"/>
<path id="t2" d="M2479 1642l-1-43 1-28 1 17 2 62 1-30 1-18 1-12 1-7 1-12 1 45 1 10 1-60 1 33 1 26 1-27 1-31 1 37 2-1 0-43 2 43 1-26 1 5 1 16 1-49 1 75 1-76 1 71 1-12 1-10 1-15 1 6 2 17 1-7 0-36 1-11 2 38 1-37 1 12 1 4 1 24 1 1 1-36 2 61 0-48 1-17 2 46 0-56 1 7 2 58 1-20 1-5 1-1 1-7 1-21 1-22 1 33 1 2 1 2 2 20 0-24 1-5 2 33 1-36 1 46 1-28 1-2 1-4 1 28 1-12 1-16 1-16 1 12 1 0 2 9 1-16 1 59 1-59 1 2 1 24 1 20 1-47 1 38 1-40 1 34 1-15 2 18 1 9 1-12 1-15 1 14 1 4 1-8 1-6 1 9 1-11 1-3 1 1 1-13 1 10 1-24 1 17 2-3 1 23 1 26 1-19 1-13 1-11 1 5 1-29 1 59 2 17 1-23 1 15 1-14 1-16 0-46 2 73 1-9 1-23 1 26 1-17 1-42 1 25 1 1 1-22 2 54 0-38 1-24 2 15 1 24 1-9 1-3 1-15 1 29 1-26 1 54 1-49 1-4 2 37 1-6 1-2 1-4 1-20 1 18 1 7 1 0 1-10 1-11 1 9 1-11 1 17 1 9 2 3 1-6 1 0 1-28 1 34 1-29 1 19 1-40 1 10 1-16 1 15 1 30 1-23 1 7 1-8 1 7 1-12 2-2 1 3 0-36 2 59 1 1 1 6 1 3 1 1 1-7 1 3 1-22 1 1 2 20 1-19 1-4 1 16 1 7 1 4 1-13 1 4 1 8 1-15 1-29 1 39 1-28 2 23 0-66 2 67 1 18 1 7 1 26 1-24 1-54 1 24 1 8 1-9 1-3 2 19 0-16 2-2 1 43 1-19 1 48 1-21 1-52 1-11 1-15 1 59 1-21 1 6 1-22 2 18 1 6 1-9 1 17 1-30 1 22 1-29 1 17 1 1 1 28 1 7 2-2 0-68 2 69 0-70 2 28 1 17 1-33 1 30 1-21 1 11 1-21 1 11 1 2 1 29 1-32 1 24 2-5 1-8 1 1 1 28 1-48 1 50 1-40 1 7 1-7 1 18 1-40 1 23 1-17 1 28 1-4 1-19 1-22 2 43 1-8 1 7 1 5 1 11 1-25 1 9 1 11 1-21 1-7 2 29 1 3 1-24 1-21 1 87 1-34 1-31 1 26 1-36 1-13 1 44 1-18 1-16 1 25 1-22 2 12 1 16 1-13 1 10 1-19 1 17 1-47 1 35 1-20 1-11 1 15 1 31 1-7 2-2 1-13 1 19 1 17 1-37 1 11 1-22 1-2 1 63 1-6 1-30 1-4 2 23 1 2 1 33 0-85 2 47 1-31 1 1 1 24 1-31 1-8 1 33 1 0 1-7 1-8 1-2 2 25 1-7 1-11 1 40 1-23 1-17 1 14 1 8 1-25 1 17 1-3 1 22 2 4 1 4 1-38 1 40 1-26 1-34 1-7 1-1 1 42 1-29 1 26 1-11 1 16 1-54 1 4 2 42 1 4 1-20 1-9 1-6 1 29 1 24 1-33 1-4 1 31 1-25 1 4 1 18 1-18 1-14 2 0 1 33 1-8 1-28 1 14 1-3 1-48 1 93 1-30 1 9 1-12 1-35 1 30 2-2 1-10 1 8 1-13 1-42 1 57 1-14 1-6 1 36 1-51 1 13 1 38 1-27 1-1 2 27 1-31 1 34 1 15 1-50 1 10 1-11 1 29 1-6 1-8 1-14 1 3 1-24 1 1 2 30 1 4 1-41 1 33 1-16 1 33 1 0 1 10 1 12 1-40 1 38 1-18 1-14 1-36 2 70 1-59 1 3 1 16 1-22 1 12 1 7 1 19 1-4 1-3 1 12 1-24 2 24 1-1 1 12 1-44 1 32 1 7 1-29 1 26 1-9 1 14 1-6 1 6 2 42 0-74 1 2 2 40 1-47 1 19 1-5 1-21 1 7 1 1 1-20 1 17 1 30 1 11 1-39 2 50 1-23 1 1 1 7 1-42 1 14 1 4 1-25 1 22 1-31 1-15 1 42 1 2 1-22 2 60 1-14 1-4 1 11 1-30 1-5 1 9 1 3 1-17 1-4 1-6 1 23 1-6 1-30 1 18 1-19 2 32 1-10 1 11 1-10 1-8 1 17 1-44 1 65 1-44 1 37 1-24 1 22 1-15 1-2 2 16 1 7 1-9 1-13 1-13 1-11 1 65 1-38 1 21 1-6 1-5 1-10 1 7 2 9 1-29 1 24 1 5 1-36 1 52 1-8 1-48 1 28 1 28 1-50 1-5 1 41 2 13 1-22 1-7 1 18 1 6 1-27 1-3 1 37 1-12 1-14 1 11 1-6 1 4 1-20 2 27 1-15 1 42 1-21 1-37 1 44 1-54 1 15 1 12 1 12 1 28 2 3 1-13 1-8 0-40 2 37 1-7 1 25 1-35 1 10 1-23 1-21 1 20 1 22 1-21 1 0 1 9 2 21 1-27 1 26 1-24 1 3 1 42 1-58 1-27 1 46 1 0 1-36 1 35 1-28 1-3 1 20 2 0 1 24 1 1 1-20 1 29 1-5 1 1 1-25 1 15 1 8 1-24 2 44 1-2 0-41 1-29 2 45 1-15 1 30 1-33 1-7 1-12 1 21 1-49 1 59 1-41 1 54 1-26 1 1 2-6 1 48 1 29 1-50 1 21 1-6 1-23 1-5 1-39 1 9 1-7 1 2 1 28 1-18 1-7 1-9 2 36 1 10 1 11 1-15 1-13 1-7 1 32 1-9 1 7 2 16 1 5 1-19 1 22 1-31 1 25 1-26 1 23 1-43 1 10 1-9 1 43 1 10 1-1 1-22 1-26 2 4 1 0 1 35 1-45 1 9 1 24 1 37 1-34 1-13 1-32 1 26 1 6 1-30 1 1 2 21 1-4 1-8 1 41 1-16 1 19 1 10 1-31 1-18 1-21 1 16 1-8 1 26 2 28 1-12 1-18 1 19 1-46 1 7 1 36 1-36 1 18 1-23 1 29 1-22 1 19 1 0 1-16 1-10 2 37 1-2 1 23 1-24 1-5 1 29 1-22 1 5 1-32 1-18 1 8 1 12 2 15 1 16 1-27 1-26 1 34 1-6 1 4 1 12 1-42 1 9 1 44 1-2 1-48 1 39 1-19 2 16 1-28 1 20 1-5 1 11 1-53 1-9 1 50 1-4 1 5 1 13 1 1 1 5 1-19 2 41 1-5 1-30 1 36 1-62 1 33 1-9 1-19 1 30 1-1 1 14 1-23 1-6 2 30 1-28 1-5 1 9 1 21 1-35 1-11 1 32 1 23 1-23 1-17 1-29 1 0 1 11 2 28 1-22 1 20 1 21 1 13 1-56 1 46 1-54 1-16 1 48 1 21 1-2 1-2 1-28 1-20 2 29 1-9 1 7 1-35 1 3 1 36 1-8 1-8 1 37 1-23 1-19 1 38 1-27 2 9 1 18 1-26 1 39 1-29 1 7 1-32 1 30 1-31 1-2 1-7 1-5 1 63 1-26 2 19 1-38 1-6 1 32 1-7 1-17 1 25 1 11 1 33 1-14 1-30 2 46 0-34 2 2 1 4 1-17 1 28 1-42 1 31 1-32 1 27 1-20 1 9 1-39 1 53 1-5 1-38 1 14 2 17 1 5 1 21 1-17 1-7 1-11 1 6 1-13 1-17 1 36 1-19 1-45 1 24 1-23 2 61 1-14 1 14 1-11 1 27 1 12 1-28 1 36 1-38 1-22 1 31 1-17 1 10 1-18 1 3 2-4 1 3 1 25 1-39 1 27 1 23 1-38 1 32 1-50 1 17 1 14 1 6 2 9 1 1 1-18 1-23 1 19 1 0 1-14 1 11 1 16 1 4 1-55 1 35 1-33 1-1 1 34 1-10 2 20 1-9 1-8 1-1 1-28 1 36 1-11 1 26 1 0 1-16 1 67 1-58 2 25 1-25 1 5 1 0 1-4 1 53 1-92 1 24 1 19 1 28 1-53 1-23 1 18 1 40 1-22 1-26 2 22 1-23 1 39 1-8 1 36 1-70 1 12 1 25 1 31 1-50 1 45 1-3 2 10 1-14 1-15 1-1 1-42 1 11 1 16 1 16 1-10 1 24 1-35 1 27 1-6 1-15 1 23 2 10 0-46 2 58 1-2 1 3 1-7 1-15 1 54 1-59 1-40 1 4 1 7 1 18 1-8 1 9 2 16 1-43 1-13 1 18 1 8 1-17 1 8 1-18 1 30 1 31 1-39 1-2 1 35 1-20 1-10 2 68 0-102 2 36 1 21 1 18 1 5 1-104 1 70 1-27 1 36 1-3 1-16 1 32 2-19 1-1 1-16 1-8 1 22 1-29 1 39 1-3 1-12 1 2 1-22 1 74 1-16 2 18 0-64 2 16 1 30 1-26 1 37 1-34 1-38 1 17 1-27 1 55 1-32 1 20 1-9 1-5 1-23 1-7 2 28 1-1 1 15 1-6 1 21 1-38 1 4 1 10 1 12 1 22 1 13 2 7 1-6 0-54 2 21 1 29 1-18 1-56 1-14 1 12 1-45 1 75 1-19 1 26 1-55 1 38 1 1 1 1 2 21 1-11 1 47 1-36 1 11 1-37 1-12 1 21 1 28 1 5 1-32 1 23 1 1 2 18 1-23 1 5 1-8 1 38 1-19 1 21 1-41 1-3 1 5 1-24 1 48 1-52 1 23 1-6 2 0 1 14 1-7 1-44 1 35 1-3 1 16 1-23 1 4 1 39 1-64 1 23 1 10 1 15 2 11 1-20 1-55 1 63 1 13 1-25 1-2 1-16 1 45 1-16 1-4 1-28 1-3 1 21 1-14 2 23 1 3 1 46 1-31 1 0 1-37 1 2 1 19 1-22 1 5 1-9 1 21 1 4 1-50 2 36 1-30 1 35 1-13 1 5 1 18 1-29 1 42 1-34 1 45 1-60 1 12 1-22 1-18 2 52 1-17 1 26 1-12 1-5 1 6 1-11 1 5 1-14 1 27 1-20 1 24 1-13 2 56 1-46 1-1 1 10 1-4 1 22 1-26 1-5 1-19 1-7 1 18 1-4 1-6 1 29 1-34 1-20 2 31 1 14 1-19 1-23 1-8 1 48 1-36 1 17 1-7 1-16 1-8 1 13 1 9 1-16 1 13 1-57 2 64 1-43 1 7 1-3 1 10 1-31 1-30 1-29 1-40 1-47 1-36 1-74 0-74 1-49 1-91 1-28 1 14 1 22 2 55 1 100 1 93 1 0 2 38 1 78 1 16 1 25 1 88 1-36 1 17 2 7 1-9 1 54 1-57 1-1 1 92 1-34 1-20 1 30 1 2 1-15 1 7 2 22 1-15 1-12 1-7 1 1 1 24 1-22 1 39 1-19 1-19 1-3 1 15 1 3 1 43 2-8 1-1 1-14 1-7 1-63 1 15 1 34 1-11 1-5 1 1 1-2 1 30 1-63 1 10 1 1 1 13 1-3 2 23 1 37 1-40 1 1 1 22 1 13 1-71 1 43 1-15 1 17 1-46 1 60 1-58 2 62 0-76 2 25 1 36 1-45 1 1 1 25 1-49 1-5 1-24 1 23 1-28 1-13 1-43 1-12 1-19 1-81 1-3 1-76 1-40 1-7 1-1 1-41 1 13 1 29 2 62 1 44 1 61 1 34 1-53 1 58 1 61 1-24 2 4 1 51 1-23 1-12 1-17 1 2 1 37 1-7 1-25 1-3 1-22 1 29 1-26 1 0 1-5 1-15 1-53 1-1 2 8 1 68 1-28 1-25 1 56 1 37 1-15 1 26 1 10 1-6 2 3 1 19 1 1 1 22 1-17 1-9 1 22 1 17 1 33 1-48 1 42 1-43 1 16 2-24 1-2 1 34 1 61 1-14 1-18 1 0 1-26 1-35 1 25 1 14 1-31 1 30 1-20 2 11 1 46 1-58 1-18 1 39 1-27 1-1 1 9 1-5 1-35 1 26 1-6 1-31 1-8 1-23 1 30 2 3 0-58 2 45 1-29 1-10 1-46 1 24 1 14 1-36 1-44 1 44 1-28 1-62 1 9 1 19 1-14 1 1 1 33 2-1 1-27 1 36 1-2 1 35 1 22 1-8 1 34 1-14 1 27 1 15 2 14 1 25 1-40 1 60 1-32 1 33 1-40 1 26 1-5 1-2 1 9 1 12 1 6 2 7 1 20 1 0 1 3 1 17 1 5 1-30 1 55 1-65 1 39 1-28 1 6 1-1 1-17 1-24 2 35 1-3 1 11 1-48 1 24 1 11 1 35 1 48 1-44 1 42 1-32 1-40 1 24 2-2 1 29 1-59 1 15 1 21 1-16 1 38 1-16 1-26 1-20 1 10 1 16 1-21 1-33 1 36 1-10 2 5 1 25 1-11 1 33 1-25 1-9 1-6 1-6 1 40 1-16 1 8 1 7 1-3 1-16 2-3 1 14 1-71 1 52 1-17 1 13 1-65 1 96 1-38 1-9 1-16 1 29 1 21 1-53 1 11 2 11 1-4 1 0 1-5 1 41 1-31 1 17 1-22 1-1 1 20 1-56 1 2 1 22 1-5 1-12 1-24 2-22 1 38 1-9 1-34 1 0 1-10 1-5 1 1 1-43 1 11 1 19 1-40 1-24 1 15 1-11 1 0 1-29 1-21 1-40 2 25 1-6 1-43 1-38 1 26 1-53 1-5 1-8 1-37 1-30 1 43 1-33 1 11 1-6 1 26 1 31 2-9 1 30 1 49 1 40 1-6 1 0 1 8 1 48 1 18 1 47 2-8 1 4 1 24 1-1 1 22 1 2 1-21 1 39 1-23 1-13 1 46 1 7 1 14 2 15 1-6 1 24 1-9 1 17 1 16 1-23 1-25 1-1 1 19 1-4 1 26 1-8 1-10 2 6 1-5 1 63 1-54 1 28 1-20 1 31 1-24 1 24 1 18 1-31 1 12 1-11 1-11 2-4 1 4 1-6 1 48 1-56 1 37 1-18 1 12 1 18 1-36 1 41 1-6 1-37 1 72 2-11 1-51 1 29 1-20 1 20 1 4 1-11 1 29 1-2 1-13 1 27 1 7 1 1 1-58 1-29 1 3 2 26 1-7 1 9 1-16 1-13 1 29 1 4 1 66 1-67 1 31 1-17 1-11 1 4 1-16 1-24 2 66 1-21 1-66 1 24 1 28 1-5 1-3 1-21 1 25 1-6 1 31 1-46 1 28 1 22 2 16 1-31 1-23 1-32 1 7 1 46 1 3 1 12 1-29 1 25 1-21 1 11 1 4 1 28 1-43 2 22 1 15 1-28 1-7 1 3 1-18 1-5 1-22 1 47 1-27 1 73 1-89 1 39 1-21 2 35 1-10 1 2 1 24 1-2 1 44 1-69 1 13 1 0 1-33 1 11 1-3 1 41 1-38 1 14 1-17 2 38 1 21 1-14 1-38 1 56 1-41 1 27 1 32 1-59 1-40 1 33 1 30 1-13 1 20 1-67 2 48 1 58 1-67 1 1 1 22 1-17 1-15 1-35 1 49 1 9 1-31 1 30 1 2 1-27 2-25 1 14 1 16 1-28 1 8 1 65 1-6 1-5 1-18 1-14 1-2 1-10 1-12 1 32 1 21 2-45 1-15 1 22 1 11 1-19 1 20 1 22 1-14 1-19 1 12 1-4 1 24 1-21 1-43 1 58 2 2 1-36 1 22 1 26 1-16 1-36 1 16 1-32 1 21 1 5 1-16 1 35 1-29 1 28 1 10 2-9 1 17 1 9 1-11 1-34 1 0 1 4 1-8 1 36 1-5 1-54 1 66 1-44 1 33 1-12 2 7 1 9 1-11 1-24 1 25 1-1 1-38 1 26 1 1 1 9 1 12 1 16 1-20 1 2 2 13 1-18 1-16 1-26 1 42 1-27 1 38 1-15 1 16 1-20 1 11 1 8 1 21 1-51 1 48 2-18 1-47 1 31 1 6 1 4 1 2 1 14 1-16 1 5 1-3 1-23 1-8 1 3 1-11 1-15 1 7 2 34 1 25 1-45 1 17 1-17 1 20 1-27 1 36 1-27 1 28 1-65 1 46 1 38 1-64 1 8 2-17 1 61 1-28 1-17 1 28 1-8 1 12 1 2 1-33 1 42 1-15 1-11 1 13 1-14 2 56 1-62 1 43 1-23 1-1 1-18 1 11 1-15 1 1 1-22 1 58 1-3 1 8 1 10 1-4 1-21 2-28 1 21 1 6 1-14 1 14 1-68 1 23 1 29 1 35 1-20 1 9 1 2 1 26 1-30 1 2 2 1 1 13 1-32 1 25 1 27 1-25 1-38 1-10 1 43 1-18 1-13 1-7 1 25 1-18 1 11 2 25 1-52 1 21 1-7 1 14 1 14 1-8 1-16 1 30 1-70 1 0 1 86 1-64 1 24 1-21 2 9 1 9 1-17 1 20 1-20 1 31 1 40 1-23 1-7 1 4 1 5 1-67 1 37 1 0 1 32 2-41 1 14 1-20 1-5 1 51 1 5 1-38 1-4 1 7 1-14 1 14 1-8 1 0 1 42 1-55 2-1 1 18 1 14 1-8 1-1 1 19 1 10 1-19 1 3 1 21 1-12 1 2 1-22 1 31 1-24 2-6 1-9 1-43 1 54 1-20 1 7 1-12 1-11 1 21 1 31 1-11 1-33 1-13 1 14 1-27 2 19 1 35 1-16 1 1 1-6 1 7 1 40 1-34 1 37 1-16 1-9 1-2 1 0 1 17 1-11 2-23 1 25 1 10 1 23 1-52 1 16 1-16 1 24 1-7 1 3 1-24 1 34 1 2 1-31 1-20 1 29 2-29 1 12 1-5 1 53 1-30 1 14 1-4 1 22 1-7 1 41 1-41 1-30 1 16 1-8 1-16 2-28 1 37 1 13 1-10 1-10 1-17 1-15 1 33 1 12 1-27 1 5 1 41 1-29 1 21 1 4 2-9 1 10 1 11 1-8 1-14 1-20 1 0 1-6 1 35 1-14 1 27 1-9 1-38 1 24 1-40 2 21 1 18 1-10 1 26 1-96 1 29 1-50 1 33 1 37 1 30 1 16 1-25 1-3 1 33 1-41 2-6 1 38 1-15 1 21 1-47 1 38 1 4 1 11 1-46 1 33 1-53 1 6 1 46 1-5 1-17 1-9 2 19 1-47 1 19 1-21 1 101 1-19 1-44 1 9 1 9 1 15 1-36 1 15 1-42 1 1 1-1 2 51 1-43 1-26 1 1 1 14 1 2 1 37 1-43 1-4 1 35 1 8 1 21 1-2 1-16 1 5 2 6 1 23 1-20 1-19 1 5 1-24 1 8 1-9 1 26 1-20 1 38 1 2 1-30 1 9 1 15 2-41 1-13 1 15 1-4 1 18 1 12 1 42 1 21 1-34 1 53 1-54 1 13 1-22 1 16 1-18 1 11 2-18 1-36 1 51 1 16 1-63 1 8 1 10 1 3 1-16 1 13 1-26 1 25 1 6 1-24 1 29 2-22 1 39 1-7 1-13 1 14 1-39 1 16 1-7 1 46 1-44 1 15 1 44 1-44 1-4 1 18 1 5 2 3 1-32 1-15 1 19 1-41 1 44 1-1 1 34 1-39 1-14 1 34 1-62 1 49 1-18 1 9 2 0 1 53 1-69 1 66 1-62 1 50 1-9 1-60 1 66 1-19 1 14 1-25 1-14 1-24 1 83 2-49 1-11 1-4 1 35 1-16 1-35 1 30 1-37 1 62 1-12 1-11 1 29 1-24 1 41 1-28 1 30 2-22 1-28 1-31 1 51 1-13 1-22 1 28 1-27 1-14 1 17 1 45 1-56 1-1 1 33 1-2 2-34 1 25 1-1 1-13 1 13 1-40 1 36 1 6 1 28 1 6 1-36 1 42 1-45 1 28 1 26 2-54 1 11 1 1 1 8 1-9 1 11 1-39 1-1 1 28 1-2 1-6 1-13 1 15 1 16 1-2 1-7 2 11 1 9 1-29 1 1 1 7 1 8 1-11 1 14 1 5 1 9 1 0 1-4 1-11 1 5 1-40 1 28 2 2 1-16 1 28 1-3 1-24 1 38 1-59 1 6 1 65 1-48 1 6 1 2 1 9 1-22 1 45 2-10 1-39 1 19 1 25 1-46 1-4 1 27 1-8 1-7 1 63 1-29 1 9 1-11 1 26 1 1 1-30 2-35 1 57 1-58 1 10 1-2 1-9 1 33 1-29 1 55 1-10 1-21 1-10 1 39 1 6 1-47 2 3 1-6 1 18 1 28 1-44 1 11 1 12 1-42 1 33 1-32 1 29 1 54 1-29 1 39 1-41 1-21 1 62 2-48 1 17 1-31 1 1 1 18 1-38 1 10 1-17 1-14 1 50 1-30 1 35 1-18 1 0 2 7 1-22 1 11 1-17 1 37 1 3 1-33 1 7 1 1 1 2 1-6 1 17 1-6 1 33 1-30 1 19 2 6 1-20 1-16 1 16 1-30 1 26 1 6 1 8 1 29 1-42 1 9 1-36 1 50 1-11 1 13 1-15 1 40 2-37 1 6 1-3 1-50 1 49 0 52"/>
<path id="t3" d="M2358 1792l0-56 1 12 1-9 1 8 1 18 1-32 1 16 1-3 1-36 2 15 1-11 0-44 2 37 1 32 1 6 1-23 1 12 2 20 0-35 2 35 0-58 1-2 2-3 1 56 1-48 1-18 1 25 1 10 1-40 2 67 1-23 1-8 1 18 1-10 1-14 1 5 1 20 2 24 1 7 1-12 1-9 1 1 0-70 2 53 1-2 1-13 1 37 1-10 1-19 2 28 1-31 1 29 1-20 1-28 1 2 1 13 1-3 1-12 1 22 2 12 0-37 2 2 1 20 1 15 1 22 1-6 1-4 1-11 1-10 2 14 1-10 1 25 1-32 1-25 1 30 1 21 1-45 1-12 1 16 2 22 0-20 2 50 1-39 1 16 1-32 1 43 1-52 1-5 1 11 1 21 2 33 1-9 1-27 1 5 1 12 1-14 1 6 1-24 1 10 1-21 2 17 1 26 1-27 1 71 1-14 1-14 1-19 1-24 1 21 2 6 1 1 1 26 1-28 1-35 1 12 1 18 1-6 1 17 2 26 1-31 1 5 1 5 1-24 1 0 1-5 1 12 1 8 1 16 2 15 1-12 1-6 1-27 1 6 1 6 1-31 1 16 1-11 1-19 1 30 2 41 1-5 1-26 1 40 1-24 1-18 1-1 1 8 1-19 1 5 2 3 0-17 2 24 1-4 1-23 1 11 1 16 1 0 1-15 1-6 2 23 1-8 1-29 1 46 1-39 1 25 1 18 1 11 1-10 1-13 2 5 1-18 1 13 1 17 1-28 1-9 1 12 1 15 1-1 1-24 2 27 0-51 2 16 1 21 1 6 1-19 1 28 1-17 1-16 1 9 2 35 1-32 1-4 1 32 1-24 1 24 1 14 1-44 1 2 2 36 1 29 1-69 1 29 1-20 1 29 1-36 1-15 1 12 1-14 1 9 1-10 2 29 1 0 1 26 1-28 1-3 1 17 1-37 1 25 1-59 1 44 2 24 1-16 1-13 1-5 1-5 1 39 1-26 1 18 1-21 2 18 1 0 1-2 1 24 1-7 1-5 1 38 1-30 1-10 1-35 1-9 2 24 1 15 1-19 1 18 1-20 1 24 1-4 1-31 1 22 2 37 1-33 1 3 1 29 1-15 1-43 1 11 1 18 1-22 2 51 0-56 2 35 0-40 2 35 1 5 1-11 1 11 1-27 1-3 1 11 1-12 1-6 1-28 2 40 1-11 1 26 1 18 1 16 1-34 1-6 1 4 1-20 2 8 0-36 2 36 1 27 1-40 1 35 1-21 1 19 1-41 1-5 2 56 1-2 1-1 1 20 1-38 1-3 1 17 2 18 1-10 0-26 2 37 1-27 1-4 1-9 1 16 1-3 1-20 1 39 1-11 1-24 2 43 1-35 1 59 1-20 1-3 1-29 1-7 2 39 0-77 1-2 1 19 2 29 1-10 1 24 1-1 1 4 1-20 1 14 1-2 1-41 2 38 1-18 1 4 1 17 1 3 1-24 1 36 1-19 2 18 1-7 0-40 2 55 1-22 1-3 1-31 1 33 1-15 1-11 1-22 1 22 2 46 1-55 1 32 1 16 1-24 1 18 1-13 1 9 1-7 2 36 0-69 2 20 1-17 1 6 1 7 1-27 1 2 1 32 1-20 1 22 2 3 1-16 1 8 1 5 1 37 1-22 1-20 1-17 1-7 1 15 1-23 2 31 1-29 1-21 1 47 1 24 1-30 1 27 1 0 1-12 2 12 1-24 1 25 1 2 1-18 1-2 1 2 1-11 1 10 1 11 1-18 2 44 1-23 1-13 1 10 1-11 1 22 1-3 1 1 1-2 2-14 0-42 2 47 1-28 1 23 1 49 1-46 1 22 1-11 2 14 1-4 0-50 2 15 1 21 1 3 1-11 1 1 1-25 1-10 1 54 1-32 2 15 1 9 1-15 1 29 1 2 1-15 1 12 1-4 1-25 2 38 1-47 1-3 1 27 1-24 1 24 1-19 1 4 1 10 1-29 1 14 1-7 2 35 1-13 1 5 1 19 1-49 1 15 1-7 1-19 1 40 1-35 2 63 1-60 1 9 1 33 1-3 1-74 1 56 1-32 1 15 1 7 2 8 1 24 1 2 1-3 1-28 1 55 1-14 1-29 1 5 2 0 1 2 1 7 1-22 1 8 1-6 1 16 1 17 1-51 2 61 0-59 2 16 1 0 1 12 1-1 1-6 1 33 1-57 1 12 1-1 1-4 1-25 2 18 1-5 1 34 1-36 1 48 1 7 1-10 1-35 1-10 2 24 0-28 2 60 1-5 1-7 1-36 1 39 1-18 1 22 1-25 2 15 0-73 2 37 1 22 1-22 1 23 1 17 1-16 2 38 0-57 1 1 2 39 1-22 1 29 1-49 1 1 1-2 1 14 1-7 1 17 2 0 1 16 1 5 1 3 1 34 1-36 1-35 1-17 1 33 1-13 1-22 2 55 1-35 1 39 1-38 1 11 1-1 1 3 1-38 2 86 0-45 2-9 1-2 1 14 1-23 1 4 1-3 1-19 1 36 1-22 1-15 2 28 0-31 2 41 1 16 1-13 1-26 1-24 1 22 1-7 1 2 1-10 2 31 1-16 1 15 1-26 1-8 1 58 1-44 1 10 1-14 1 30 2-12 1 25 1-36 1-27 1 39 1-23 1-1 1 33 1-7 1 0 1-15 2 32 1-27 1 28 1-27 1 14 1 33 1-26 1-21 1 7 1-11 1-38 2 67 1-9 1 0 1-19 1 5 1-6 1 13 1 3 1-42 1-5 2 55 1-3 1 31 1-27 1-27 1 2 1 11 1-35 1-16 2 64 1 18 1-28 1-7 1 26 1-23 1-27 1 10 1 23 1-30 2 36 0-39 2 32 1 38 1-15 1-29 1-20 1 22 1 4 1-58 2 59 0-49 2 48 1 7 1-11 1-35 1 12 1 10 1-8 1 29 1-36 2 31 1-8 1 33 1-25 1 19 1-37 1 43 1-44 1-4 1 11 1-13 2-6 1 32 1 2 1-1 1-8 1 6 1 2 1-37 1 27 2 6 0-36 2 53 1-15 1-6 1 2 1 38 1 2 1-5 1-11 1-41 2 18 1-11 1 22 1-2 1-18 1 8 1 12 1-25 1 28 2-1 1 0 1-19 1 0 1 44 1-36 1 42 1-3 1-34 1-11 1 3 2 30 0-59 2 6 1 42 1-34 1 38 1-14 1 10 1 0 2 10 1-20 1-15 1 20 1-47 1 21 1-15 1 7 1 18 1-3 1 9 2 15 1 11 1-51 1 47 1-28 1-20 1 19 1 9 1-22 1-24 1 46 2 0 1-4 1-18 1 5 1 30 1-8 1-15 1 36 1-25 1-15 1-30 2 23 1 39 1-25 1 7 1-17 1-5 1 11 1-3 1-30 1 13 2 21 1 19 1-36 1 47 1 16 1-35 1 10 1 25 1-22 1-13 2 1 1-15 1-15 1 11 1 36 1-29 1-13 1 34 1-3 1-16 1-5 2 10 1-7 1 25 1 15 1-24 1-5 1-5 1 11 1 9 1-19 2-4 1 14 1 0 1-12 1 6 1-24 1 13 1 23 1-71 1 24 1-10 2 22 1 4 1 3 1 4 1 9 1 15 1-28 1 6 1-39 2 47 1-9 1-6 1 35 1-18 1 23 1-23 1-16 1 0 1-17 1 16 1-14 2 10 1 53 1-39 1 35 1-59 1 18 1 0 1 15 1-1 2 18 1-44 1 8 1 9 1 21 1 2 1-16 1-24 1-2 1 34 1-29 2-4 1 17 1 10 1-7 1 11 1-9 1 36 1-38 1 25 1-40 2 80 1-23 1 9 1-32 1-9 1 18 1-11 1 4 1 22 2-13 1 18 1-18 1-4 1-2 1 6 1-26 1 8 1-34 1 70 1-38 2-5 1-11 1 3 1-40 1 55 1 12 1-43 1 23 1-21 1 5 1-45 2 55 0-46 2 27 1 12 1 10 1 28 1-16 1 0 1 7 2 11 1-20 1-14 1-10 1 17 1-30 1-14 1 32 1-21 1 26 1 15 2 8 1 1 1-12 1-10 1 19 1-11 1-33 1 68 1-41 1 0 1-8 1-3 2 1 1 0 1-7 1 9 1-4 1-13 1 3 1 1 1 20 2 13 0-79 2 59 1 1 1 17 1-7 1-8 1-13 1 19 1-16 1-7 2 49 1-22 1 0 1 28 1-3 1-33 1 8 1 2 1 2 1-18 1-61 2 59 1 23 1 16 1-46 1 14 1 23 1-35 1 2 1 34 2-8 1-29 1 1 1-16 1-13 1 33 1-11 1 35 1-30 1-5 2 70 1-30 1-28 1 37 1-26 1-7 1 9 1-14 1 8 1-27 1 23 1 5 2 13 1 20 1-25 1 1 1 5 1 14 1-13 1-30 1-10 1-4 1 10 2 14 1-49 1 59 1 16 1-17 1-16 1-10 1 9 1 16 1-33 2 24 1 9 1 16 1-40 1 6 1 37 1-40 1 15 1 10 1-24 2 17 1 8 1-18 1 21 1 29 1-16 1-23 1 9 1-36 1-5 1 22 2 17 1-24 1-32 1 44 1-11 1-2 1 8 1 37 1-22 1 4 2 25 1-26 1 17 1 1 1-6 1-36 1 4 1 14 1-26 1 45 1-28 2 24 1 27 1-58 1 4 1 24 1-25 1-18 1 20 1-11 2 56 0-55 2 52 1 15 1-6 1-2 1 12 1-15 1-31 1-18 1 32 1-29 2 15 1-48 1 28 1-6 1 1 1-3 1 13 1 14 1-45 1 8 1 8 2 39 1-19 1-12 1 13 1 39 1-27 1 28 1-2 1-32 2 63 1-84 1 37 1-11 1-6 1 2 1-6 1 4 1-21 1 19 1-18 2 1 1 8 1-55 1 51 1 4 1-54 1 10 1 15 1 16 1-30 1 20 2 18 1 4 1-15 1 14 1 16 1 27 1-56 1 10 1-15 1 11 1-12 2 13 1 15 1 9 1 38 1-3 1-65 1 54 1-4 1-50 2 32 1 41 1 8 1-18 1-28 1-29 1 2 1 14 1-27 1 42 1-15 1-22 2-26 1 65 1 6 1-25 1-3 1-11 1 2 1-20 1-9 1 17 2 27 1-14 1-5 1 13 1-23 1 9 1 2 1-3 1-22 1 33 2 14 1-7 1 16 1-9 1 34 1-47 1 11 1-23 1-1 1 9 2 39 1-37 1-8 1 19 1-37 1 17 1 6 1-41 1 13 1-51 1 33 1 10 1-17 2-4 1-6 1-20 1-8 1-80 1-10 0-112 1-38 1-122 1-75 1-84 1 29 1 67 2 104 1 76 1 66 2 51 1 61 1 28 1 27 1 55 1-28 2 37 1-13 1 20 1 9 1-23 1 52 1-18 1-27 1-1 2-3 1 14 1 17 1-24 1 36 1-18 1 1 1 1 1 15 1-22 1-26 2 31 1 16 1-8 1 12 1-3 1 18 1-22 1 26 1-1 2-2 1 25 1-58 1-25 1 59 1-61 1 42 1 7 1-14 1 0 2 21 1-13 1 35 1-35 1 26 1 14 1-28 1 18 1-45 1-14 1 49 2-8 1-11 1 26 1-10 1-31 1 30 1-43 1-26 1 63 1-17 1 11 2 33 1-15 1-73 1 28 1-38 1 18 1-27 1-19 1 15 1-46 1-8 1 18 1-25 1-10 1-97 1-14 1-87 1-55 1-46 1-30 1 50 2 46 1 91 1 44 1 94 2 29 1 69 1-78 1 4 1 46 1-1 1-7 1 28 1-34 2-4 1 29 1-3 1 6 1 15 1-3 1-23 1-20 1-34 1 23 1-30 1-37 1-4 2 16 1 4 1 67 1-29 1-7 1 12 1-7 1 5 2 20 1 43 1 2 1 20 1-30 1 17 1-14 1 23 1 24 2-16 1 15 1 7 1 2 1-61 1 39 1 17 1-17 1 3 1 1 1-2 2 2 1-24 1 27 1-31 1 60 1 43 1-31 1-26 1 4 1-8 2-5 1-23 1 36 1-36 1 14 1 8 1-28 1 3 1 66 1-47 1-1 2 35 1-15 1-18 1-10 1-33 1-16 1 35 1 17 1-39 1-27 1-6 1-28 1-8 2-8 1 31 1-58 1 29 1-64 1-3 1-5 1-10 1 5 1 19 1 30 1-34 2 13 1 10 1 29 1-8 1 46 1 29 1-31 1 36 2 15 1 3 1-34 1 24 1 17 1 15 1 6 1-2 1 34 2-14 1 1 1 16 1-16 1 10 1-17 1-26 1-3 1 52 1-16 1-10 2 15 1 31 1-13 1 0 1-2 1-30 1-1 1-13 1-14 1 39 1-30 2 41 1-9 1 12 1-1 1 17 1 11 1-1 1-28 1-1 1-2 2 37 1-54 1 14 1 21 1-17 1-4 1-4 1 46 1-6 1-40 1-2 2 23 1-17 1-18 1 19 1 11 1 29 1-9 1-28 1 6 1-8 2 24 1 21 1-34 1-2 1 0 1-29 1 2 1 18 1 3 1-7 1 5 2-28 1 46 1-47 1 5 1 9 1 22 1-33 1 29 1 7 1-12 2 10 1-1 1 10 1-21 1-42 1 22 1 12 1-3 1-2 1-37 1 15 1-21 2 16 1-49 1 89 1-1 1-30 1-6 1 28 1-18 1-3 1-23 1 26 2 3 1-12 1 0 1-21 1 1 1-18 1 22 1-10 1-2 1-69 1 38 1-41 1-14 2 11 1-53 1-42 1 30 1-5 1-40 1-20 1-15 1-29 1-54 1-5 1-23 1-38 1-36 1 41 2 10 1-26 1 91 1-1 1 3 1 56 1 38 2 17 1 17 1 54 1 13 1 17 1 0 1 9 1 22 1-3 2 4 1-9 1 32 1 23 1-10 1-31 1 16 1 2 1 57 1-53 2 34 1 10 1 8 1-8 1 43 1-56 1 45 1-52 1 30 2 24 1 12 1-7 1-28 1 32 1-1 1 18 1-42 1 37 1 12 1-17 2 15 1-11 1 21 1-5 1-41 1 25 1-25 1-2 1-9 1-3 1-7 2 28 1 13 1-16 1 48 1 0 1 2 1-9 1-42 1-5 1 33 2 21 1-9 1-14 1-24 1 32 1-22 1 2 1 41 1-49 1-5 1 10 2 9 1-25 1 13 1-17 1 23 1-19 1 42 1-18 1 2 1-15 1 3 2 13 1-8 1 9 1-24 1 2 1 20 1-3 1 12 1 17 1-16 1-5 2 55 1-18 1-41 1-8 1 42 1 4 1 6 1-46 1 12 1-1 2 5 1-35 1 19 1-32 1 31 1-17 1 7 1 8 1 8 1-37 1 8 2 27 1-30 1 57 1-32 1-3 1 11 1 16 1-3 1-30 1 35 1-10 2-3 1 14 1 5 1 3 1-15 1-24 1 23 1 2 1-40 1 3 1 10 2 9 1-1 1-6 1 12 1-15 1 8 1-18 1 43 1-1 1-42 1 8 2 41 1 4 1-42 1 20 1-7 1-22 1 17 1 11 1-21 1 55 2-19 1-66 1 43 1-14 1 46 1-50 1 60 1-33 1 6 1 23 1-30 2 62 1-76 1 9 1 7 1 14 1 0 1 0 1 1 1-21 1 24 1-18 2 18 1-69 1 32 1 60 1-59 1-37 1 44 1-1 1 4 1-23 1-4 2 32 1 40 1-35 1 32 1 1 1-40 1 22 1 1 1-21 1-9 1 28 2-45 1 41 1-33 1 14 1-4 1 4 1-20 1 7 1 18 1-23 2 42 1-38 1 29 1 26 1-17 1-40 1 20 1-4 1 14 1-6 1 8 1-17 2-2 1 4 1-2 1-1 1-10 1-12 1 30 1-19 1-7 1 48 2-10 1-6 1 13 1-10 1 2 1-43 1 20 1-28 1 27 1-3 1 4 2 3 1-53 1 26 1 19 1 40 1-31 1-26 1 8 1 17 1-22 1 7 2 17 1-20 1-12 1 0 1 16 1 6 1-14 1-15 1 6 1-10 1 36 2 4 1 10 1-7 1 29 1-42 1 30 1-29 1 0 1 50 1-33 1-10 2 6 1-17 1 21 1-40 1 6 1 5 1 41 1-57 1 49 1-43 1-12 2 79 1 4 1-38 1-23 1 12 1-6 1 1 1-25 1 27 1 37 1-46 2 7 1 19 1 4 1-28 1 19 1 16 1-28 1 26 1-5 1 27 1-42 2-41 1 81 1-5 1-41 1 34 1-29 1-15 1 33 1 1 1-32 1 8 2-15 1 34 1-13 1 16 1 4 1-7 1-3 1-46 1 17 1 21 2 7 1 1 1-26 1 25 1 33 1-24 1 38 1-18 1 10 1 17 1-5 2-38 1-15 1-5 1-4 1 27 1-18 1-15 1-15 1 32 1 19 1-30 2 9 1 19 1 15 1-3 1-25 1-1 1 28 1-15 1-33 1 48 1-20 2-5 1-7 1 40 1-34 1 38 1-44 1 12 1-1 1-36 1 5 1 10 2-34 1 5 1 22 1-11 1 55 1-40 1-9 1-30 1 73 1-46 1-23 2 38 1 9 1 11 1 26 1-56 1 45 1 7 1-54 1-9 1 0 1 0 2 33 1-16 1 7 1 11 1-21 1 25 1-19 1-33 1 25 1 1 1-17 2 41 1-25 1-13 1 13 1 27 1-27 1 25 1-23 1 28 1 9 1-46 2 35 1 2 1 22 1-14 1-36 1 20 1 12 1 35 1-51 1 3 1-18 2 25 1-22 1 17 1 12 1 6 1-49 1 24 1 3 1 39 1-49 1 50 2 26 1-9 1-17 1-36 1 3 1-7 1 18 1-33 1 12 1-21 1 34 2-1 1 7 1-3 1 3 1-28 1 12 1 17 1-22 1 7 1 25 1-28 2 6 1 4 1-32 1 51 1-42 1 7 1 26 1-38 1 47 1-27 1-12 2 15 1 5 1-31 1-6 1 30 1-34 1 16 1 27 1-36 1 19 1 10 2-9 1 5 1 24 1-5 1-23 1-3 1-19 1 35 1-3 1 17 1-53 2 31 1-4 1-13 1 13 1 29 1-9 1-30 1 12 1 14 1-7 1-26 2 40 1-20 1-23 1 3 1 41 1-13 1-6 1 2 1 7 1 4 1-8 2-8 1 3 1-29 1 25 1-6 1 3 1 19 1-18 1 29 1-30 1 5 2 16 1-30 1 18 1-29 1 29 1-26 1-21 1 40 1 34 1-13 1-18 2 10 1 21 1-27 1-27 1 43 1-30 1-2 1 12 1 6 1-29 1 49 2-19 1-36 1 14 1 27 1-29 1 57 1-33 1-19 1 35 1-39 1 8 2 0 1-50 1 29 1 8 1 32 1 1 1-15 1 0 1-3 1 33 1-9 2-21 1 33 1-27 1-19 1 24 1-10 1 1 1-7 1 0 1 13 1 9 2 2 1-13 1 28 1-42 1 68 1-59 1-22 1 29 1-8 1 8 1-41 2 33 1-12 1 35 1-15 1 7 1-3 1 5 1-13 1 19 1-31 1 13 2-9 1 27 1-18 1-36 1 26 1 1 1-9 1-7 1 1 1 39 1-1 2-16 1-29 1 4 1 21 1-20 1 4 1 21 1 8 1 26 1-3 1-7 2-48 1 27 1-40 1 38 1 7 1-31 1 35 1-10 1 18 1 7 1 17 1-20 2 13 1-60 1 46 1-24 1 6 1-2 1-32 1 35 1 7 1-1 1-18 2-3 1-24 1 9 1-13 1-3 1 20 1-20 1 33 1 26 1 24 1-48 2-19 1 36 1 79 1-104 1-1 1 37 1-26 1-20 1 36 1-1 1-21 2-10 1 18 1-4 1 8 1 5 1 2 1 22 1 16 1-28 1 6 1 24 2-62 1 35 1-35 1 24 1-23 1 0 1 4 1 15 1 5 1-3 1-54 2 21 1 34 1-15 1 17 1-51 1 18 1 21 1 19 1-1 1-10 1 2 2 0 1-1 1 18 1-27 1 4 1-16 1 33 1-41 1-8 1 10 1 20 1 1 2-34 1 17 1 0 1 12 1 38 1-20 1-2 1 8 1-23 1-18 1 39 2-28 1 27 1 3 1-15 1-46 1 17 1 12 1-23 1 24 1-2 1 32 2 3 1 11 1-43 1 43 1-50 1 51 1-24 1-4 1 25 1 15 1-28 2-40 1 2 1 50 1-25 1 5 1-24 1 15 1 23 1-58 1 25 1 27 2-37 1 8 1-4 1 49 1-21 1 15 1-10 1 0 1-11 1 29 1-34 1 28 2-17 1 5 1-10 1-9 1 23 1-22 1 24 1-17 1 7 1 5 1 32 2-26 1-4 1-5 1-35 1 38 1-33 1-40 1 63 1-25 1-3 1 16 2 1 1-8 1-33 1 57 1-22 1 7 1-34 1 11 1-9 1 26 1 6 2 10 1 15 1 15 1-14 1-6 1 3 1 23 1-50 1-51 1 48 1 21 2-36 1 49 1-15 1-2 1 1 1 4 1-10 1 22 1-32 1-4 1 31 2-29 1 44 1-20 1 23 1-8 1 1 1-17 1-16 1-3 1 23 1-15 1 46 2-61 1 19 1 9 1 10 1 36 1-38 1 0 1-3 1-29 1 13 1 2 2-32 1 26 1 14 1 26 1-31 1 0 0 58"/>
<path id="t4" d="M2232 1950l-1-63 2 5 1 29 1-30 1-7 1 30 1-49 1 9 1-18 1 3 1 10 2 30 1-23 1 21 1-1 1 4 2 3 1-13 1-1 1 8 1 19 1-9 1-18 1-22 2 42 1 0 1-3 1-13 1-19 1 19 1-7 1-2 1-35 2 31 1-16 1 3 1 21 1-6 1 9 1-1 2 15 1-14 1-8 1-25 1 17 1 8 1-23 1 20 1 1 2 16 1-24 1 23 1-17 1 16 1-17 2 42 0-64 1-21 2 62 1-37 1 15 1 12 1 23 2-1 0-37 2 24 1 9 1-14 1-17 1 5 1 0 1-5 1-33 2 31 1 3 1 29 1-7 1-26 1 9 1-3 2 12 1 20 1-22 1-1 1-40 1 48 1-7 1-42 2 40 1-13 1 0 1 27 1-13 1 3 1-19 1 13 1-12 2 21 1-11 1-9 1 13 1-23 1 12 2 37 0-80 2 52 1-21 1 4 1 10 1-4 1 5 2 28 1-26 1 33 1-42 1 26 1-23 1 4 1-16 1 17 2 2 1 2 1-5 1-10 1 44 2 35 0-42 2 6 1-10 1 2 1-4 1 0 1-9 1 8 1 0 2-1 1 2 1-18 1-17 1-7 1 33 1-16 1 29 2-12 1 6 1-34 1 34 1-2 1 2 1-2 1-33 1-11 2 41 1 14 1-7 1 16 1-22 1-30 2 39 1-17 1-8 1 31 1-25 1 17 1-32 1 5 1 6 2 41 1-27 1-12 1 16 1-18 1 9 1-3 1 6 1-17 2 16 1-3 1-17 1 35 1 10 1-42 1-12 1 0 1-30 2 37 1 36 1-16 1 32 1-29 1-5 1-23 1-6 2 27 1-22 1 7 1 22 1 4 2 24 1-18 1 5 1 14 1-13 1 8 1-45 2 58 0-42 2 29 1-4 1-15 1 39 1-32 1-26 1 31 2-2 1 18 1-35 1 19 1-16 1 11 1-13 1-15 2 49 1-19 1-5 1-48 1 30 1 12 1 17 1-30 2 34 1-4 1-26 1 8 1-4 1-7 1 20 2 6 1-13 1 8 1-35 1 2 1 5 1-7 1 13 1 1 1-17 2 42 1-36 1-21 1 30 1-15 1-1 1 12 1-10 2 16 1 11 1 9 1 15 1-34 1 11 1 3 2-10 0-41 2 41 1-28 1 38 1 5 1-40 2 51 1-19 1-29 1 54 1-33 1-10 1 11 1-22 1 9 2 13 1-9 1 13 1 23 1-41 1-25 1 17 1 12 2 31 1-11 1-29 1 3 1-21 1 28 1 27 2 4 1-24 1-1 1 16 1-12 1-4 1-17 1 22 1-3 2-3 1-15 1 2 1 32 1-20 1 0 1 27 1-15 2 22 1-25 1 18 1-29 1 23 1 1 1-41 1 18 2 15 1-31 1 23 1-27 1 4 1 13 1-8 1-11 2 16 1 14 1-7 1-15 1 32 1-28 1 35 1-49 2 18 1 21 1-23 1 14 1-13 1 25 1-26 1 11 2 5 1-6 1 14 1-13 1-5 1 21 1-5 1-45 2 35 1-16 1 18 1 9 1-40 1 4 1 39 2 18 1-25 0-54 2 31 1 10 1 8 1-4 1 2 1-22 2 12 1-16 1 29 1-30 1 27 1 12 1 8 2-10 1-26 1-13 1 23 1 0 1-52 1 47 1-6 1 18 2 20 1-35 1 46 1-17 1 3 1-6 1 4 2 11 1-35 1 8 1 7 1-20 1 1 1 20 1-12 1-2 1-13 2 21 1-46 1 26 1-22 1 38 1-5 2 18 1-19 1 7 1 3 1-24 1 23 1-11 1 25 2 6 0-64 2 24 1 2 1 25 1-22 1 9 1 1 1-19 1-6 2 16 1 29 1-2 1-19 1 18 1-16 2 4 0-23 2-7 1 17 1-13 1 20 1-6 1-2 2 19 1-13 1 26 1 12 1-26 1-9 1-14 2 52 0-42 1-19 2 12 1 15 1 23 1-49 1 38 1-47 2 36 1-16 1 29 1-26 1-22 1 21 1 2 1 0 1 6 1-30 2 33 1 4 1-8 1 27 1-18 1-2 2 27 0-57 2 14 1-12 1-3 1-4 1 36 1-28 1 0 2 5 1 12 1 26 1-58 1 13 1-14 1 46 2-2 1 12 1-16 1-6 1 18 1-24 1 9 1 9 1-11 2 12 1-4 1-24 1 34 1-28 1-13 1 15 1-27 2 37 1-2 1 8 1-40 1 15 1 6 1-19 2 44 0-31 2 9 1 53 1-40 1-7 1 36 1-55 1 18 2 15 1-10 1 6 1-23 1-11 1 16 1 14 1 1 2-6 1 3 1 12 1-40 1 56 1-51 1-22 1 39 1-41 2 44 1-17 1 5 1 24 1-22 1 8 1-11 2 15 1 13 1-23 1-30 1 19 1 11 1-8 1-1 2 8 1 18 1-11 1-36 1 13 1 17 1 3 1-23 1 5 2 26 1-5 1-12 1 21 1-18 1 2 1 5 2 2 1-3 1-1 1-3 1-20 1 22 1-6 1 17 2-1 1 7 1-3 1 5 1 18 1-36 1 43 1-27 2-17 1-6 1-26 1 4 1-15 1 60 1-26 1-1 2 12 1 35 1-45 1 6 1 37 1-31 1 39 1-44 2 5 1-2 1-3 1 10 1 3 1-17 1 46 1-39 2 8 1-22 1 11 1-31 1 3 1 35 1-19 1 25 1-20 2 8 1 20 1-18 1 31 1-17 1-16 1 13 2 2 1-11 1 13 1-37 1-4 1 9 1 18 1 10 1-26 2 21 1-14 1 20 1 5 1-31 1 19 1 5 1-22 2 57 1-56 1 16 1 19 1-5 1-16 1-18 2 33 1-35 1 20 1-1 1 18 1 1 1-11 1 3 2 28 1-1 1-9 1-43 1 32 1-34 1 23 1-31 1 16 2 9 1 6 1-19 1-12 1 27 1-19 1 29 2-4 1-11 1-34 1 19 1 13 1-37 1 51 1-2 1-1 2-1 1-7 1 5 1-17 1 14 1 4 1 15 2 3 1-22 1 10 1-9 1 4 1 17 1-22 2 38 0-48 1-16 2 32 1 5 1-7 1-19 1 8 1 3 2 31 1-31 1 11 1-2 1-4 1-26 1 32 1 15 1-65 1 29 2 4 1-18 1 37 1-26 1-22 1 18 1-15 1 7 2-2 1 28 1-41 1 58 1-26 1 11 1-31 1 12 2 25 1-23 1 25 1 1 1-1 1-12 1-2 2 42 1-35 1-28 1 1 1 10 1 31 1-37 1 34 1-12 2-3 1 11 1-19 1 9 1 5 1 5 1-3 2 12 1 11 1-33 1-7 1 20 1 18 1-16 1-11 2 18 1-14 1-6 1 29 1 5 1-44 1 5 1-10 1 19 2-4 1-39 1 23 1 2 1 10 1 33 1-15 2 34 0-70 2 48 1-51 1 12 1-24 1 9 1 12 1 7 1-1 2 1 1-7 1 1 1-8 1 37 1-36 2 48 1-31 1 29 1-77 1 51 1-12 1-23 1 15 1-7 2 34 1 9 1-11 1 12 1 2 1-1 1 7 1-47 1 5 2 19 1-18 1 44 1-69 1 66 1-27 1 32 2-18 1-11 1-3 1 36 1-6 1 1 1-38 1 29 1-15 2 37 1 11 1-13 1-41 1 27 1-14 1 6 2 12 1 3 1-16 1 21 1-19 1 8 1 23 1-25 1-29 1-18 2 47 1-36 1-16 1-23 1 46 1-17 1 38 1-35 2 7 1 36 1-20 1-8 1-8 1 8 1 1 2-1 1 26 1 1 1-30 1 1 1 19 1-5 1-33 1 19 1-30 2 6 1 29 1-44 1 41 1-24 1 18 2 16 1 21 1-38 1 14 1-40 1 53 1-7 1 12 2 5 1-34 1 2 1 40 1-14 1-7 1 6 1-28 2 22 1 15 1-5 1-2 1 7 1-7 1-18 1-4 2 21 1-25 1 40 1-30 1-24 1-20 1 18 1 10 1-36 1 17 2 25 1 8 1 39 1-49 1 27 1-20 2 29 1-9 1-28 1 8 1-38 1 36 1-18 1 19 1 5 2-3 1-7 1-11 1-27 1 40 1 21 1-16 2 36 1-32 1 57 1-4 1-49 1-8 1 18 1-12 1-6 1 2 2 32 1-16 1 28 1-19 1-14 1-16 1-14 1 18 2 5 1-5 1 7 1 3 1-30 1 13 1-12 2 38 1-12 1-8 1 5 1-11 1 5 1-11 1-15 1 42 2-11 1-6 1-17 1 39 1-28 1 1 1-18 1-11 2 42 1 1 1-5 1 3 1 44 1-83 1 54 1-1 2-10 1-10 1 7 1-23 1 17 1 0 1 7 1-14 1-21 2 25 1-18 1 18 1-26 1 32 1 36 1-24 2-5 1 0 1-9 1 17 1 14 1-28 1 13 1-33 1 18 2-8 1 10 1 9 1-22 1 26 1 23 1-23 1-8 2 28 1-20 1 29 1-43 1-4 1-35 1 28 1 17 2 7 1-9 1 8 1-13 1 31 1-28 1-16 2 53 0-52 2 13 1 8 1-3 1-18 1 44 1-48 1 9 1-11 2 53 1 8 1-53 1 33 1-34 1 7 1 14 2 4 0-46 2 20 1 31 1-21 1 40 1-25 1 31 2-24 1-20 1 23 1-30 1 21 1-37 1 27 1-12 1 21 1-30 1-37 2 64 1-6 1-4 1 7 1 6 1-36 2 47 1-50 1 44 1 2 1 1 1 9 1-15 1 3 2 14 1-31 1 4 1-32 1 1 1 48 1-25 1-2 2 19 1 2 1-13 1 0 1 19 1-23 1 3 1-9 1 19 2 21 1-24 1-13 1 26 1-23 1-32 1 41 1 9 1-37 1-29 2 5 1 27 1 30 1 16 1-19 1 11 2-20 1-2 1 20 1-35 1 38 1 1 1 8 1-43 1 15 2-23 1 28 1-13 1-9 1 46 1-32 1-2 2 30 1-31 1 21 1-9 1-4 1-28 1 26 1-7 1-9 2 20 1-22 1 27 1-8 1-9 1-8 1-5 1-27 2 44 1-26 1-18 1 43 1 12 1 7 1-10 1-16 1-5 2 20 1-27 1 20 1 30 1 11 1-41 1 14 1-13 2 30 1-49 1 22 1 17 1-13 1-35 1-10 1 26 2 14 1-32 1-18 1 93 1-43 1-12 1 7 1-39 2 46 1-20 1 24 1-7 1-11 1-15 1 22 1-38 1-9 1 0 2 49 1-38 1-14 1-1 1 20 1-24 1-7 1-56 1-39 1 24 1-126 1-54 1-30 1-34 1-22 2 108 1 18 1 50 1 59 2 19 1 11 1 49 1 0 1 20 1 11 2-7 1-13 1 50 1-26 1 49 1-27 1 1 2 39 1 24 1-37 1 14 1-39 1-14 1 10 1-1 2 24 1-10 1-14 1 30 1-27 1 44 1-21 1 10 2-10 1 43 1-42 1 17 1 10 1-15 1 11 1-33 2 50 1-50 1-17 1 30 1-5 1 1 1-11 1 9 2 27 1-17 1 11 1 11 1-30 1-15 1 5 1-36 1 40 2 10 1-54 1 78 1 10 1-43 1 18 1 0 2 30 1-6 1 0 1-21 1-6 1-32 1 9 1-20 1 11 2 30 1-37 1 43 1-45 1-12 1 22 1-50 1 3 1 6 1-11 1-12 1-55 2-19 0-69 1-45 2-5 1-15 1 41 1 14 1 83 2 29 1 21 1 41 1-7 1 4 1 46 1-37 2 47 1-41 1 18 1 10 1-8 1 29 1 0 1-53 2 17 1 15 1-9 1-36 1-3 1 12 1-6 1-40 1-2 2-13 1 8 1 17 1-17 1 35 1 37 1-10 2 13 1 50 1-22 1-4 1-4 1 18 1-13 2 34 1-39 1-9 1 41 1-11 1-45 1 48 1-1 1-20 2 61 1 9 1-19 1-68 1 44 1 6 1-16 2 37 1-13 1-13 1-31 1 35 1-34 1 31 1-10 1-1 2 36 1-25 1-8 1-18 1 6 1-7 1 7 1 26 2-17 1 12 1-35 1 40 1-55 1 19 1-18 1 2 1 43 2-13 1-2 1-44 1 37 1-33 1-20 1 3 1 24 1-54 1-11 2-14 1-7 1-38 1-16 1 7 1-13 1 47 1 3 2 45 1-1 1 4 1-19 1 59 1 5 1 27 2-1 1-5 1-2 1 8 1-21 1 24 1 15 1-43 2 61 1-40 1 8 1 10 1 6 1 5 1 11 1-41 1-19 2 52 1-11 1-16 1-5 1-13 1 29 1 22 1-27 2 15 1-4 1 24 1-17 1-17 1 22 1-18 2 39 1-45 1 25 1-14 1 31 1-41 1 19 1-21 1 8 2 14 1-36 1-4 1 22 1 12 1-14 1 6 1 19 2 5 1-38 1 26 1 4 1-17 1 1 1 16 1-6 1-12 2 55 1-38 1 15 1-34 1 18 1-16 1-2 1 25 1-37 2 19 1-4 1 35 1-20 1-9 1 23 1-23 2 35 1-7 1-2 1-6 1 17 1-29 1-49 1 21 1 17 2-32 1 35 1-3 1 9 1-27 1 14 1 22 1 6 2 5 1-18 1-6 1-6 1-6 1-3 1 16 1 7 2-3 1-1 1-47 1 5 1 8 1 24 1-28 1 11 1-21 2 41 1-53 1 16 1 17 1-20 1 23 1-32 1-5 1 23 2-4 1-15 1-2 1-26 1 27 1-12 1-14 1-41 1-22 1-24 2 25 1-90 1 54 1-83 1-28 1-23 1-52 1 20 1 13 1 54 1-26 2 77 1 6 1 14 1 40 1 29 2 13 1 45 1-18 1 23 1-8 1 31 1-11 2 41 1-29 1-1 1 43 1 0 1 14 1-15 1 34 2-35 1 4 1-23 1 5 1-37 1 31 1 13 1 2 1-4 2 13 1 12 1-32 1 3 1 48 1-22 1-18 1-23 2 3 1 8 1-7 1-11 1 17 1-10 1 42 1-22 2 33 1-8 1-12 1-22 1 62 1-58 1 38 1-15 1-30 2 40 1 29 1-70 1 31 1 1 1-15 1 28 1 0 2 9 1-23 1 13 1-11 1-10 1 22 1-5 1-11 2 34 1-61 1-7 1 30 1-17 1 0 1 34 1-13 1-11 2 16 1-31 1 27 1 3 1 27 1-4 1-19 1-35 2 45 1-17 1-8 1 22 1 3 1-7 1 9 1 21 2-21 1-53 1 41 1-46 1 53 1-28 1 20 1-3 1-27 2 23 1-11 1 51 1-15 1-45 1 10 1 19 1-36 2 21 1 3 1 1 1 0 1 1 1-17 1 37 1 33 1-53 2-27 1-9 1 26 1-6 1-36 1 75 1-33 1 5 2 25 1-20 1 10 1 17 1-16 1-46 1 34 1 1 1-34 2 14 1-10 1 1 1 16 1-13 1 32 1-18 1 24 2-38 1 17 1-8 1 14 1-13 1 29 1 16 1-71 2 29 1 0 1 46 1-86 1 45 1 2 1 16 1-19 1 14 2 61 1-38 1-25 1 3 1 36 1-31 1 15 2 47 1-61 1 28 1-2 1-24 1 38 1-50 1-8 1 29 1-29 2-1 1 51 1-15 1-15 1-5 1 25 1-7 1-16 2-13 1 8 1-15 1 10 1 5 1 12 1 13 1-61 2 50 1-10 1-15 1 25 1-21 1 19 1-11 1-30 1 29 2-1 1-22 1 10 1-7 1 32 1-13 1-30 1 29 2 4 1-35 1 45 1-20 1 19 1 5 1-5 1 8 2 16 1-36 1 18 1-26 1 20 1 8 1 30 1-41 1-17 2 19 1-7 1 42 1-66 1 39 1 22 1-49 1 14 2 10 1 5 1 3 1-6 1-15 1 11 1-9 1-19 1 24 2-5 1-10 1 14 1-16 1-1 1 10 1 1 1-62 1 54 2-14 1 22 1 10 1 24 1-30 1-31 1 30 1 20 2-31 1 4 1 5 1 26 1-22 1-24 1 21 1-34 2 22 1 10 1-7 1-24 1 54 1-18 1 11 1-22 1-6 2 11 1 17 1-21 1 37 1-50 1 27 1-35 1 40 2-37 1 6 1 12 1 43 1-38 1-13 1 6 1-8 1 35 2-3 1-54 1 43 1 13 1-11 1-27 1 31 1-26 2-14 1 7 1-9 1 34 1-39 1 15 1-11 1 7 1-1 2 24 1-20 1 24 1-21 1 31 1-30 1 2 1 37 2-7 1 0 1 19 1-29 1 28 1-11 1 0 1-24 1-11 2 1 1 22 1-20 1-9 1 58 1-56 1 17 1 9 2-9 1 2 1-19 1-45 1 82 1-28 1 8 1 27 1-26 2-1 1-42 1 24 1-24 1 24 1 10 1-15 1 32 2-12 1-3 1 11 1-9 1-36 1 53 1 6 1-42 2 44 1 6 1-13 1-26 1-10 1 21 1-15 1 31 1-38 2 10 1 13 1 1 1-22 1 24 1 10 1-30 1 36 1-10 2-37 1 27 1 13 1 4 1-20 1 11 1 21 1-20 2 30 1 10 1-34 1 37 1-35 1-21 1 20 1 26 1-43 2-3 1-27 1 38 1-7 1 15 1-37 1-4 1 34 2-7 1-15 1 26 1-27 1 4 1 23 1 3 1-1 1 3 2-55 1 37 1 5 1 6 1-10 1-20 1 11 1 53 2-44 1-5 1-5 1-17 1 8 1-38 1 32 1-12 1 39 2 3 1-32 1 21 1 33 1-20 1 35 1-24 1-7 2 12 1-40 1 34 1-18 1-23 1 16 1 26 1-4 1-14 2 29 1-37 1-2 1-14 1 27 1 4 1 37 1-35 2-16 1 11 1 0 1 0 1-2 1-17 1 26 1-36 1 20 2-8 1 20 1 0 1 22 1-57 1 17 1 17 1 23 2-52 1 25 1 10 1 6 1-10 1-23 1 41 1-10 1 1 2-12 1-10 1 17 1-6 1-3 1 14 1-19 1 14 2-30 1 0 1-2 1 19 1-47 1 27 1 26 1 11 1-16 2 3 1-6 1-6 1 28 1-4 1-11 1 37 1-73 2 26 1 10 1-14 1 9 1 0 1-12 1 3 1-19 1 18 2-19 1-8 1 19 1 9 1 22 1-14 1 7 1-17 1-17 2 25 1-10 1 38 1-23 1-20 1 23 1-31 1 21 2 5 1-7 1-1 1-7 1 29 1-17 1 12 1-15 1 13 2-20 1-33 1-1 1 43 1-7 1-12 1 20 1-12 2 10 1-23 1 32 1-49 1 57 1-14 1-23 1 19 1 48 2-57 1 9 1-11 1 39 1-71 1 71 1-49 1 46 2 2 1-38 1 24 1-51 1 11 1 20 1 10 1 12 1-15 2 0 1 13 1-10 1-4 1-15 1 29 1-11 1-14 2 7 1 57 1-62 1 19 1-30 1 26 1 12 1-72 1 70 2 8 1-25 1-12 1 8 1 5 1 19 1-59 1 66 1-33 2 33 1-29 1 6 1-7 1 29 1-2 1 24 1-23 2 2 1-18 1 6 1-27 1 2 1-15 1 0 1 29 1-19 2 12 1 44 1-48 1 41 1-22 1-29 1 27 1-32 2 26 1 0 1-28 1 28 1-22 1-5 1 18 1 6 1 24 2 2 1-15 1-9 1 31 1-18 1-10 1-45 1 47 1 16 2-20 1 17 1-3 1-17 1-32 1 7 1 64 1-66 2 69 1-23 1 0 1-35 1 34 1-23 1 28 1-4 1 8 2-9 1 6 1-51 1 11 1 10 1-25 1 44 1 3 2-9 1 7 1-24 1-9 1 26 1-19 1 4 1 15 1 10 2-47 1 31 1 14 1 14 1-57 1 5 1 30 1 4 2-27 1 24 1-12 1 49 1-40 1-8 1-3 1 10 1-10 2 4 1 0 1 5 1 28 1-15 1-25 1 37 1-59 1 5 2 39 1-31 1 28 1-28 1 42 1-34 1 41 1-9 1 13 2-45 1 25 1-43 1 58 1-35 1 4 1 23 1-14 2-43 1 48 1-24 1 7 1 11 1 37 1-31 1-22 2-17 1 32 1 24 1 2 1-25 1 19 1-24 1 5 1 15 2 20 1-29 1-9 1 5 1-13 1 26 1-22 1 0 1 13 2-2 1 8 1-5 1 5 1-38 1 15 1 21 1-21 2-27 1-3 1 10 1 52 1-27 1 46 1-49 1 3 1 59 2-30 1 26 1-31 1 12 1 2 1-43 1 9 1-18 1 8 2 31 1-6 1-34 1-6 1 24 1-44 1 35 1-9 1 29 2-11 1 32 1-16 1 6 1-19 1 27 1-29 1 12 2 3 1-19 1-4 1 10 1-45 1 55 1-30 1 3 1 10 2 22 1-1 1 3 1-5 1 0 1-9 1-8 1-7 1 44 2-33 1 35 1-61 1 18 1-17 1 24 1 18 1 9 2-30 1 33 1-38 1 2 1 29 1-35 1 18 1-5 1-8 2 25 1-14 1 19 1-25 1 29 1-35 1 7 1 31 1-10 2 1 1-24 1 16 1 4 1-39 1 35 1-36 1 30 2-11 1 24 1-50 1 36 1 9 1-44 1-4 1 24 1 17 2 30 1-53 1 33 1-22 1 17 1-24 1 28 0 56"/>
<path id="t5" d="M2099 2116l0-85 1 24 1 5 1-12 1-3 1-18 1-11 2 17 1 19 1-44 1 3 1 27 2 44 1-1 1-35 1 26 1-40 1 6 1-7 2 10 1 7 1 18 1 16 1-56 2 17 1 49 1-39 1 8 1-22 1 0 1-24 2 54 1-12 1-34 1 32 1-26 1-5 2 25 1-2 1-21 1 34 1 13 1-43 2 26 1-17 1-25 1-3 1-16 1 23 1 7 2 24 1 2 1 42 1-79 1 36 1 1 2 10 1-14 1-2 1 1 1-4 1 17 2 5 1 32 1-17 1-35 1 24 2 19 1-14 0-52 2 4 1 17 1-15 1 28 1-21 1 3 2 10 1 0 1-14 1 29 1-41 1 15 2 39 1-4 1 11 1-16 1-22 2 30 0-43 2 11 1 0 1 2 1 13 1-32 2 47 1-20 1 38 1-29 1-26 1 18 2 45 0-55 2 5 1 22 1-28 1-3 1 20 1-46 2 30 1-6 1 12 1 40 1-33 2 29 1 1 1-45 1 23 1 0 2 36 0-46 1-22 2 13 1 6 1-11 1 21 1 11 2 8 1-9 1-25 1-26 1 26 1 10 1-14 2 24 1-12 1-1 1-16 1 3 1 0 1 20 1-34 2 27 1 14 1-13 1 14 1-24 2 18 1-18 0-35 2 8 1 7 1 22 1 11 2-2 1-20 1-5 1 10 1-13 1 36 1-35 2 56 1-23 1-12 1-6 1-13 1-53 1 61 1-35 2 48 1-35 1 35 1-27 1 12 1-8 2 13 1 24 1-12 1-18 1-15 2 21 1-3 1-18 1 28 1-19 1 3 1-9 2 49 1-19 1-28 1 62 1-24 2-2 1-14 1 18 1 2 1-49 1 30 1-11 2 16 1 9 1-52 1-4 1 28 1 5 1-42 1 24 2 22 1-5 1-33 1 44 1-2 2 6 1 16 1 9 1-50 1 72 1-33 1-19 2 15 1-11 1-3 1-4 1-7 1-12 1-9 2 26 1 7 1-2 1 11 1-6 1-13 1-14 2-7 1 30 1-18 1 3 1-30 1 16 1 1 2 41 1-1 1-19 1-14 2 31 0-34 2 0 1 2 1-13 1 56 1-6 1-49 2 34 1-20 1-9 1 42 1-67 1 4 2 61 1-11 1-21 1 25 1-15 1 24 1-39 2 49 1-16 1-4 1 30 1-31 1-4 2-11 1 37 1-48 1 44 1 2 1-3 1-24 2 12 1-4 1-13 1-5 1 32 2 5 1-4 1-10 1-21 1 17 1-20 1 4 1-13 2 22 1 11 1 31 1-35 1-15 1-6 2 38 1-14 1 2 1-6 1-21 1 6 1-20 2 64 1 7 1-26 1 11 1-18 1-8 1-21 2-9 1 29 1-14 1 1 1-11 1 23 2 37 1-35 1 12 1 16 1-48 1 25 2-11 1 14 1-23 1 11 1-4 1-33 1-4 2 38 1-29 1-7 1 7 1 5 1 9 2 12 1 13 1 5 1-16 1 23 1-28 2 28 0-40 2 29 1 3 1-7 1-33 1 15 2 47 1-52 1 29 1 23 1-67 1 36 2 7 0-33 2-2 1 51 1-38 1 34 2 10 1-17 1-5 1 9 1 6 1-21 1-30 1 22 1-35 2 27 1-16 1 3 1 26 1-38 1 29 2 9 1 5 1-3 1-11 1-14 1 16 2-4 1 9 1 15 1-24 1 39 1-39 2 16 1 19 1-24 1 29 1-9 2 24 0-63 2 29 1 11 1-35 1 21 1-1 1-14 1-14 2 2 1 13 1 14 1-7 1 0 1-15 2 11 1 10 1-29 1-6 1 41 1-45 1 9 2 52 1-19 1 14 1-35 1 23 1-14 2 31 1-32 1-41 1 21 1 10 1 1 2 36 1-13 1 3 1 8 1-14 1-34 1 3 2 15 1-23 1-22 1 55 1-2 1 9 1-41 2 41 1-6 1 19 1-16 1-9 2 23 1 1 1-2 1-42 1-7 1-34 1 79 1-41 2 43 1-14 1 11 1 2 2 29 0-63 2 20 1 5 1 1 1 8 1-32 1 27 2 16 0-51 2 15 1-8 1 20 1-15 1 3 1-36 1 6 2-2 1 31 1 9 1-1 2 43 1-44 1 19 1-17 1 10 1-22 1-26 1 19 2 37 1-13 1-8 1-7 1 13 1 3 2-23 1 15 1 4 1-11 1 9 1 10 2 8 1-37 1 30 1-28 1 21 1-4 2 13 1 21 1 18 1-39 1 22 1-26 1-10 1-12 2 3 1 8 1 26 1-34 1-4 1-7 2 21 1-27 1 39 1-31 1 7 1-8 2 40 1-34 1 57 1-45 1 2 1 9 1-28 2 14 1 43 1-57 1 2 1 12 1 6 2 11 1-25 1 5 1 14 1-24 1 2 1 28 2-16 1 7 1-1 1-13 1 46 1-59 1 25 2 2 1 33 1-24 1 7 1-31 1 2 2 11 1 8 1-19 1 21 1 14 1-35 2 21 1-23 1 14 1-1 1 2 1 8 1 8 1-32 2 39 1-14 1-24 1-20 1-7 1 37 1-21 2 7 1 24 1-22 1 29 1-9 1-14 1-44 2 51 1-47 1 84 1-50 1 18 2-4 1 12 1 17 1-8 1-3 1-4 2-3 0-53 2 27 1-30 1 41 1 2 1 7 2 3 1 1 1-14 1 2 1 5 1 33 1-69 2 45 1 0 1-9 1 6 2 56 1-38 1-15 1 10 1-39 1 7 1 33 1-29 1-18 2 26 1 29 1-39 1 16 1 21 1-21 1-10 2-1 1-12 1 10 1 32 1-21 1-15 2 22 1-4 1-4 1 5 1 13 1-28 1 3 2-2 1 16 1 9 1-23 1-2 1 5 1-28 2 6 1 46 1-20 1 5 1-29 2 43 1-15 1-11 1-39 1 62 1-2 1 1 2 13 1-3 1-12 1 1 1-12 1-19 2 46 1-40 1-4 1 29 1-43 1 45 1-18 2 28 1-11 1-25 1-1 1-19 1 16 1 20 1-34 2 42 1 2 1-23 1 16 1 12 2-6 1 26 1-39 1 18 1-3 1-20 2 37 0-44 2 9 1-4 1-12 1 23 1-12 1-27 2 17 1 17 1 16 1-16 1-21 1 12 1-32 2 21 1 21 1 31 1-14 1-49 1 35 1-35 2 0 1 21 1 14 1-45 1 29 1-20 2 30 1 17 1-17 1-5 1 0 1-24 1 12 2 12 1 4 1 5 1-35 1 28 1-16 2 16 1-3 1 1 1 29 1 4 1-10 2-1 1-14 1 8 1-7 1-40 1 38 1-23 2 29 1-1 1-61 1 25 1 19 1 17 2 9 1-11 1-51 1 48 1 2 1-8 1 0 2 7 1 13 1 14 1-5 1-57 1 26 2 35 0-61 2-2 1 8 1 5 1-29 1 65 1-22 2 14 1-41 1 38 1-36 1 13 1-25 2 36 1 17 1 6 1-4 1-4 1-7 2 24 0-66 2 38 1 20 1-48 1 7 1 12 2 31 1-28 1 5 1 20 1-26 1 21 1-1 2-17 1 43 1-48 1 28 1-44 1 33 2 16 0-69 2-4 1 82 1-57 1 54 1-53 2 16 1-5 1 8 1 13 1 19 1-22 1-9 2 16 1-36 1 36 1-30 1-7 1 46 1-31 2 22 1-2 1-54 1 38 1 12 2 22 1-31 1-11 1 7 1-7 1-52 1 27 1 10 1 0 2 33 1-29 1 12 1 19 1-30 2 64 1-30 1 15 1 17 1-9 1-9 1-22 2-11 1 0 1-18 1 63 1-10 1-29 2 27 1-38 1 5 1-21 1 14 1 0 1 0 2 18 1-9 1 14 1-22 1-2 1 25 1-29 2 27 1-51 1 36 1 16 1-24 1-9 2 25 1 5 1 19 1 2 1 9 1-19 1-34 2 38 1 21 1-67 1 7 1-3 1 5 2 41 1-32 1 5 1 23 1-36 1 23 1 7 2-14 1-25 1-16 1 11 1 12 1-1 2 35 1-11 1 4 1-5 1-50 1 22 1 16 2 41 1-43 1 21 1 16 1-1 1-19 2 35 1-21 1-35 1 17 1 0 1 3 1-45 1 40 2-13 1-6 1 28 1 11 1-48 1 29 1-8 2 19 1-66 1 33 1 27 1 10 1-47 2 43 1-42 1 54 1-25 1-40 1 32 1-19 2 17 1-16 1 22 1 3 1-17 1 24 1-12 1-38 2 47 1-24 1 30 1 1 1-17 1-25 2-2 1 15 1 27 1-6 1 21 1-28 2 19 1 3 1-4 1 0 1-13 1-35 2 60 1-30 1 3 1 38 1-33 1 6 2 43 1-45 1 21 1 0 1 1 1-22 1-25 2 29 0-39 2-15 1 18 1 40 1-20 1 19 2 15 1-38 1 33 1-44 1 19 1 12 1-15 2 13 1-27 1 4 1-16 1 34 1 8 1-9 2-20 1 24 1-21 1 30 1 3 1-35 1 7 2 0 1 11 1 5 1-8 1 19 1-15 2 11 1-23 1 27 1 16 1-17 1 9 2-7 1 10 1-77 1 45 1-36 1 20 1 7 2 18 1-37 1 11 1 10 1 9 1 25 2 7 1-20 1-8 1-21 1 65 1-44 1 9 2 12 1-12 1-21 1 17 1-4 1 6 1 0 1-46 2 10 1 22 1 51 1-65 1 43 1-7 2 17 1-21 1 23 1-47 1 2 1 14 1-9 2 15 1-12 1 9 1 10 1 8 1-17 2 2 1-7 1 9 1-40 1 36 1-32 1 21 2-10 1 58 1-67 1 66 1-27 1-1 1-35 2 1 1 33 1-30 1-4 1 23 1-7 2 0 1 0 1-8 1-2 1 22 1-13 1-5 2 4 1 27 1-9 1-12 1-9 1-20 1 33 1-52 2 70 1-19 1 1 1 16 1-43 1 4 2 12 1-5 1 16 1-39 1-2 1 31 1-25 2 51 1-39 1 1 1 14 1-8 1-10 2 0 1 31 1-30 1 22 1-2 1-19 1 14 2-24 1 2 1-1 1 30 1-39 1 12 1 0 2-14 1 12 1 41 1-23 1-5 1 29 2-9 1 17 1-12 1-34 1 26 1 19 2 10 1-16 1-49 1 49 1-3 1-59 1 37 2 11 1-14 1 12 1-42 1 15 1 23 1 3 2-5 1 10 1-25 1 41 1-65 1 2 2 56 1-17 1-22 1-10 1-25 1 35 1 0 2 26 1-23 1 28 1-8 1 5 1-20 1-32 1 10 2 22 1-47 1-6 1 33 1-22 1-41 1 11 1-29 1-82 1-9 1-45 2 16 1-43 1 103 1-8 1 37 2 47 1 34 1-8 1-1 2 35 1-20 1 0 1 15 1 11 1-27 2 55 1-23 1 41 1-7 1-5 1-25 1 15 2-8 1 26 1-33 1 45 1-33 1 0 2 40 1-45 1 32 1-6 1 4 1-3 1-9 2-17 1-22 1 32 1 23 1-40 1 43 1-33 2 27 1-1 1 9 1-46 1 8 1 5 2 33 1-16 1 3 1-37 1-11 1 6 1-17 1 12 2 33 1-4 1 38 1-41 1-4 1 28 1-47 2 12 1 24 1-36 1-17 1 24 1-9 1-2 2 22 1 6 1 21 1-32 1 4 1-29 2 21 1 12 1 21 1 8 1-34 1-9 1-28 2-3 1-11 1-30 1 7 1-11 1-11 1-26 1-15 1-52 1 21 2 4 1 12 1 57 1 33 2 0 1 3 1 0 1 35 1-28 1 38 2 2 1-10 1 15 1 12 1-13 1-63 1 40 2 0 1 34 1-12 1-6 1-11 1-17 1 26 2-39 1-24 1-9 1 67 1-69 1 35 1 17 2-26 1 8 1 45 1-3 1 13 1-1 2 5 1 35 1-19 1-22 1 44 1-9 2-12 1-6 1-7 1-14 1-3 1 7 1-2 2-3 1-10 1 27 1 15 1-42 1 40 2 1 1-20 1 24 1 0 1-20 1 7 1-19 1 12 2 29 1-48 1 7 1 44 1-21 1-11 1-38 2 32 1-14 1 2 1 17 1 14 1-11 2 0 1-7 1 19 1-9 1-10 1 29 2-2 1-60 1 71 1-66 1 30 1-33 1-6 1 20 1-50 2 16 1-16 1-22 1-15 1-7 1 4 1-7 1-9 2 44 1-39 1 29 1 23 1 2 2 19 1 60 1-15 1 18 1-29 1 1 2-21 1 8 1 6 1 0 1 24 1-4 1-14 2-11 1 30 1 14 1-10 1 1 1 31 2 16 1-24 1-24 1-4 1 6 1-25 2 64 1-19 1-26 1-17 1 56 1-67 1 46 2 9 1 1 1-32 1-35 1 50 1-44 1 46 1-21 2-3 1 15 1 20 1-14 1 27 1-20 1-36 2 27 1 18 1 7 1-5 1 27 1-37 2 10 1-10 1-6 1 19 1-48 1 27 2 29 1-53 1 23 1 25 1-37 1 12 1-11 2 31 1-17 1-7 1 8 1-46 1 19 1-1 1-4 2 19 1 12 1 4 1 4 1-6 1-25 2 34 1-40 1 37 1 3 1-25 1 30 2 9 1-4 1-38 1-2 1 56 1-55 1 15 1-4 2-17 1-1 1-1 1 12 1 25 1-41 2 49 1-42 1 21 1 20 1-36 1 8 1 11 2-31 1 15 1-21 1 26 1-29 1-3 1 29 1-66 2 69 1-33 1 27 1-1 1 10 1-19 2-1 1 6 1-27 1-7 1 8 1-20 1 21 1-42 2-13 1-62 1 44 1-45 1-7 1-49 1-6 1-13 1 9 2 50 1-1 1 13 1 28 1 18 2-37 1 76 1-14 1 27 1 11 1-24 2 28 1 24 1-23 1 19 1-36 1 26 2 19 1-2 1-5 1 34 1-44 1 33 1-14 2 7 1-28 1 38 1-33 1 28 1 15 2-10 1-1 1 17 1 8 1-18 1-41 1 7 2 62 1-34 1-8 1 11 1-13 1 11 1 17 2-7 1 13 1-36 1 21 1 16 1 5 2-13 1-12 1-2 1 8 1-31 1 32 1-37 1-14 2 26 1 30 1-29 1 33 1-17 1 7 2-13 1-27 1 27 1-42 1 23 1 32 1-21 2 26 1-27 1-22 1-1 1 59 1-4 2 3 1-17 1 5 1-10 1 31 1-23 1 14 2 8 1-32 1 32 1-41 1 53 1-33 1-4 1-42 2-2 1 1 1 24 1 3 1-1 1 2 2 34 1 17 1-15 1 3 1-33 1-5 1 19 2 10 1-22 1-2 1 15 1-10 1 29 1-8 2-41 1 33 1-39 1-20 1 28 1 0 1 12 2 1 1 8 1-23 1 11 1-1 1 37 2-26 1 1 1 5 1 15 1-13 1-32 1 25 2 24 1-3 1-30 1-6 1 10 1 1 1 20 2-20 1 1 1 31 1-61 1 12 1 38 1-19 2 1 1 17 1-14 1-33 1 24 1-22 1 20 2 9 1-5 1-14 1 4 1 15 1-33 1 18 2 16 1-31 1-9 1 29 1-14 1 9 2 21 1-16 1 22 1-18 1 23 1-25 1-7 2-15 1 24 1 5 1-42 1 32 1 13 1 8 2 37 1-21 1-19 1-10 1 24 1-17 2 37 1-17 1-17 1 12 1-8 1 4 1-40 1 24 2 1 1-9 1 32 1-28 1 42 1-20 1-29 2 47 1-10 1-24 1-16 1 8 1 2 2 26 1-10 1-3 1-14 1 8 1 7 1-2 2-32 1-2 1 12 1-17 1 14 1-31 1 51 2-5 1-9 1 24 1-6 1 4 1-8 1-2 2-37 1 20 1 54 1-9 1-42 1 22 1-20 2 4 1-25 1-3 1 9 1 17 1 1 1 5 2-14 1 57 1-21 1 9 1-35 1-14 1-4 2 27 1-35 1 39 1-31 1 8 1 5 2-10 1 5 1 38 1-5 1 2 1-12 1 38 2-9 1-68 1 26 1-17 1 30 1-1 1 18 2-13 1-3 1 12 1 7 1 4 1-57 1 41 2 35 1-15 1-18 1 9 1-27 1-30 2 75 1-58 1 19 1 24 1-13 1 29 1-24 1-55 2 47 1 17 1-43 1-17 1-2 1 54 2-12 1-9 1-14 1 28 1-27 1-6 1 23 2-13 1-22 1 26 1-30 1 25 1-8 1 6 2 9 1-8 1 5 1 6 1-4 1-8 1 31 2 0 1-14 1-35 1 53 1-27 1 18 1-4 2-12 1 13 1 8 1-19 1 3 1 12 2 26 1-72 1 30 1-14 1-5 1 33 1-38 1 2 2 32 1-8 1-37 1 58 1 1 1-14 2 7 1 20 1-14 1 8 1-40 1-9 1-13 1-9 2 49 1 8 1-32 1 8 1-1 1 32 2-43 1 7 1 26 1-25 1 15 1-5 1 1 2 18 1-11 1 12 1-18 1 10 1-42 1 48 2-8 1 17 1-7 1-18 1-16 1 40 1-13 2-42 1-8 1 29 1-20 1 33 1-52 1 36 2-11 1 29 1 14 1 30 1-23 1-62 1 34 2-10 1 7 1-7 1-18 1 34 1 4 1-18 2 3 1 13 1-13 1-4 1 11 1-6 2-5 1 5 1-4 1-31 1 60 1-16 1-1 2 2 1-3 1 19 1-27 1-2 1 16 1 17 2-11 1-4 1-25 1 22 1-16 1 21 1-39 2 35 1-4 1-20 1 8 1 35 1-28 1-23 2 66 1-43 1 36 1-14 1 19 1-49 1 0 2 3 1-44 1 58 1-8 1-18 1 43 1-23 2 27 1-41 1-2 1 11 1 22 1 24 1-14 2-23 1 38 1-37 1 22 1-38 1 38 1-43 2 38 1-10 1-17 1 21 1 22 1-19 2-15 1-5 1-12 1 7 1 10 1-10 1 26 2-21 1 35 1-14 1-3 1 20 1-34 1-47 2 5 1 27 1-12 1 32 1-25 1 18 1-14 2 21 1-27 1 2 1-2 1 34 1 8 1-32 2 11 1-11 1-38 1 70 1-21 1 11 1-3 2-16 1-10 1-19 1 4 1-18 1 25 1 40 2-36 1 28 1-18 1-1 1 5 1-36 1 43 2-2 1-21 1 5 1-1 1 22 1 1 1-6 2 8 1-2 1 18 1 32 1-33 1-17 1 23 2-16 1-45 1 5 1 7 1 19 1 1 1 9 2 36 1-23 1-43 1 18 1 35 1-24 2-4 1 22 1-21 1 28 1-20 1-2 1-38 2 24 1-28 1 27 1-14 1-33 1 14 1 17 2 0 1-20 1 58 1 22 1-44 1 12 1-9 2-10 1 36 1-46 1 19 1 25 1-25 1 13 2-18 1 45 1-7 1-64 1 53 1-22 1-21 2-14 1 8 1 34 1-18 1 2 1-12 1 5 2 26 1 1 1-48 1 46 1-35 1-6 1 32 2-15 1 20 1-33 1 55 1-21 1 14 1-32 2 3 1-12 1 5 1-26 1 39 1-24 1 12 2 3 1-2 1 21 1-36 1 12 1-15 1 26 2 18 1-35 1 29 1-7 1-20 1 30 1-48 2 14 1 10 1 10 1-42 1 27 1-34 1 58 2-5 1 10 1 10 1-19 1 2 1-42 1 47 2-13 1 11 1 12 1 5 1-40 1 20 1-1 2 36 1-41 1 31 1 19 1-5 1-14 1-11 2-9 1-28 1 0 1 28 1-42 1 56 2-50 1 11 1 21 1-30 1 26 1 3 1 21 2-25 1 21 1 8 1-16 1-22 1 22 1-44 2 34 1-17 1 9 1-12 1 28 1-29 1-13 2 39 1-2 1 26 1-18 1 15 1-36 1 49 2-20 1 24 1-5 1-39 1 24 1-15 1-38 2 7 1 9 1 3 1 10 1-38 1 23 1 6 2-7 1-3 1 16 1-9 1 29 1-24 1 20 2-43 1 31 1-7 1 1 1 30 1 2 1-38 2 13 1-2 1 39 1-33 1-4 1-7 1 19 2 3 1-2 1-14 1-3 1 45 1-19 1 7 2 0 1-29 1 16 1 43 1-60 1 8 1-40 2 45 1-10 1-57 1 33 1 19 1-20 1 23 2 6 1 16 1-57 1 24 1 15 1 19 1-10 2 51 1-86 1 53 1-20 1-6 1-6 1 15 2 8 1-35 1-12 1 43 1-32 1-6 1 16 2-19 1 3 1 23 1-14 1 4 1 0 1-11 2-21 1 11 1 74 1-13 1-6 1-9 1-14 2 50 1-41 1 34 1-64 1 20 1 11 1 9 2-5 1-9 1 0 1 16 1-8 1-24 1 5 2 31 1 9 1-6 1-46 1-1 1 41 1-17 2-19 1 18 1 0 1 27 1-33 1-16 1 23 2 13 1-32 1-8 1 23 1 17 1-30 1 28 2-31 1 8 1 16 1-6 1 25 1-14 1 21 2-52 1 37 1-4 1 11 1-18 1-18 1 21 2 11 1-7 1-30 1 42 1-8 1-4 1-17 2 16 1-7 1-6 1-11 1-6 1 35 1-4 2-4 1-20 1 8 1-11 1-5 1 38 1-33 2 16 1-17 1 6 1 3 1-16 1-10 1 27 2-15 1-12 1 31 1-23 1 4 1 38 1-1 2-10 1-2 1-37 1 41 1-44 1 42 1 12 0 47"/>
<path id="t6" d="M1960 2290l0-75 1-10 1-3 1-8 2 76 1-24 1-19 1 6 1-62 1 36 1-9 2 21 1 50 1-32 1 10 2 3 0-72 2 75 1-26 1-6 1 5 1-4 2-2 1 12 1 6 1 9 2-6 1-17 1 33 1-27 1 1 1 3 2-14 1-2 1-2 1 2 1-3 1 6 1-31 2 41 1-19 1 12 1-16 1-54 2 90 1-54 1 16 1-8 2 44 0-47 2 6 1 22 1-20 2 53 1-38 1-9 1 51 1-44 1 2 2 22 1 8 1 20 1-11 1-8 1-33 2 26 1-29 1 16 1-2 1-14 1-12 2 19 1-9 1 15 1 9 1-23 2-3 1 38 1-32 1-22 1 21 2 15 1-20 1 50 1-59 1-27 1 17 2 10 1-2 1-7 1 20 1-3 2 27 1-42 1 37 1-18 1 26 1-29 2 4 1-22 1 3 1 29 2 35 1-37 1 27 1-56 1 46 1-34 2 16 1 15 1 17 1-23 2 35 0-61 2 24 1 47 1-10 1-57 1 22 2 11 1-23 1-7 1 38 1-47 1 3 2 5 1 7 1 13 2 34 0-53 2 11 1-11 1-20 1 47 1-50 2 40 1 0 1 1 1 20 1 0 1-25 2-13 1 46 1-31 1-32 1-7 2 66 1-53 1 15 1 7 1-20 2 27 0-42 2 4 1 60 1-42 1-18 2 28 1 45 1-16 1 1 1-25 1-25 2 14 1-16 1 7 1 0 1-35 2 43 1 18 1-35 1 14 1 34 2-15 1 2 1-22 1 10 1 20 2 3 1-2 1-47 1 49 1-10 1-24 2 23 1-13 1 8 1-27 1 17 2 14 1 35 1-53 1 23 1-24 1 13 2 6 1-15 1 3 1 39 1-23 2-3 1 13 1 7 1-13 1-7 1-4 2-3 1 5 1-12 1 6 2 26 1-16 1-26 1 36 1-26 1 7 1-2 2 21 1-12 1 9 1-46 1 42 2-15 1 4 1 41 1 12 1-59 2 28 1-29 1 30 1-35 1 15 1-25 2 29 0-44 2 26 1-10 1 31 1-19 2-1 1-28 1 27 1-1 1 18 2 3 1-1 1 0 1 4 1-10 1-10 1-39 2 19 1 23 1-24 1 16 1-25 2 41 1-14 1 21 1-47 2 44 1-17 1-15 1-9 1 4 1 23 2 34 1-36 1-5 2 59 0-59 1 2 2 48 1 6 1-21 1 9 2-14 1-28 1 29 1-41 1 0 2 43 1-5 1-33 1 23 1 2 1-31 1 20 2 0 1 0 1 12 1 8 1-28 2 28 1-7 1-25 1 41 1-57 2 37 1-23 1 36 1-25 1 17 1-11 2 51 1-48 1-12 1 2 1 25 2-13 1-10 1-12 1 29 1-10 1-9 1-22 2-2 1 21 1 20 1-2 2 35 1-26 1-1 1-5 1 1 2-1 1 7 1 4 1-14 1 28 1-30 2 12 1-16 1 3 1 18 1-19 1-23 2 13 1-2 1 7 1-1 2 30 1-6 1-15 1 3 1-26 1 35 1-19 2-7 1-1 1 21 1-23 1 20 2-9 1 6 1-21 1 15 1 5 1-12 2 24 1-16 1-7 1-9 1 27 2-20 1-8 1 10 1 0 1-25 1 16 1-12 2 25 1-43 1 51 1 4 1-50 2 29 1 8 1 22 1-1 2 7 1-40 1 11 1-6 1 2 1 3 2 12 1 17 1-14 1-16 1-21 1 12 2 37 1-21 1 16 1-27 1-33 2 57 1-35 1 28 1-18 1 19 2-6 1 27 1-35 1 4 1-35 1 23 2 5 1-16 1 17 1-18 1 17 1-20 2 10 1 18 1-3 1 11 2 1 1-19 1 2 1 31 1-13 1 11 1-38 2-5 1 4 1-24 1-3 1 2 2 45 1 1 1 0 1 18 1-4 2-16 1 12 1-15 1 2 1-25 1 11 1-9 2 25 1 5 1-48 1 21 2 15 1 25 1-66 1 43 1-16 1 2 2 1 1-8 1 30 1-17 1 29 1-30 2 12 1-7 1 12 1-36 1 20 2 6 1-18 1 71 1-53 1-16 1-8 2 1 1 17 1-2 1-17 1 14 1-31 2 44 1 21 1-23 2 29 1-14 1-27 1-9 1 49 1-42 2 23 1 11 1-12 1-2 1-25 1 4 2 19 1 13 1-14 1-30 1 40 2 1 1-12 1-8 1 14 1 24 1-30 2-2 1-34 1 23 1 23 1-40 1 13 2-2 1-1 1 14 1-8 1 7 1-13 2-5 1 8 1 32 1-2 1-30 2 16 1-15 1 10 1-21 1-11 1 19 2-18 1 36 1-6 1 18 1-9 2 0 1 25 1-38 1 1 1-17 2 65 1-29 1-12 1-13 1 30 1-25 1-26 2 31 1-3 1 0 1-3 2 17 1 26 1-29 1-22 1 16 1-5 1-25 2 21 1 29 1-31 1 28 2-15 1 15 1 0 1-16 1 4 1-7 2 8 1 16 1-71 1 83 1-40 2 31 1 21 1-37 1-4 1-1 2 39 1-45 1 43 1-9 1-23 1-22 2 22 1 3 1-36 1 28 1 20 1-55 2 31 1-17 1 3 1-4 1 4 1-4 2-4 1 50 1-11 1-32 1 2 2 20 1-1 1-27 1 33 1-24 1-1 2-4 1 24 1-3 1 1 2 4 1-6 1-11 1-21 1 51 1-39 2 21 1 5 1-10 1-14 1 30 1-18 1-26 2 43 1 5 1-8 1-16 1-20 2 11 1 2 1 8 1-25 1-5 2 59 1-8 1 13 1-27 1 9 2-11 1-11 1 20 1-22 1 10 1-2 2-3 1-31 1 29 1-11 1 42 2-13 1-27 1 14 1-5 1 3 1-3 2-6 1-19 1 45 1 9 1-13 2 1 1 34 1-59 1 36 1-16 1-15 2-4 1 7 1 6 1 1 1 25 1-65 2 31 1-16 1 31 1 3 2 11 1-34 1 47 1-58 1 16 1-7 2 54 1 7 1-25 1 2 1-21 2 19 1-25 1 10 1 32 1-28 1-9 1-24 1-30 2 92 1-53 1-25 1 52 2-24 1 31 1-17 1 16 1 3 2 19 1-36 1-17 1 57 1-16 1-24 2 34 1 0 1-36 1-49 1 52 1-7 2-2 1 2 1 21 1-23 1-28 2 25 1 17 1-13 1 21 1-23 2 39 1-49 1 49 1-29 1 29 1-60 2 15 1 14 1-11 1 20 1-25 1 18 2 1 1 5 1-62 1 37 1 6 2 6 1 11 1-37 1 23 1-23 1 8 2 5 1 9 1-15 1-19 1 3 1 26 2-10 1 52 1-7 1-28 2 33 0-54 2 47 1-7 1-9 2 23 1-22 1-32 1 44 1-38 1 30 1-24 2 13 1 1 1-42 1 23 1 20 2 23 1-38 1 13 1 26 1-4 1-32 2 36 1-26 1 6 1 7 1-1 2 9 1-23 1 42 1-28 1-10 2 22 1 23 1-58 1 0 1 44 2 12 0-65 2 45 1-18 1-1 1 11 2 29 1-24 1-19 1-5 1 24 1-40 2 22 1 5 1 3 1-13 1 23 1-19 2 14 1-40 1 30 1 4 1-3 1-32 2 16 1-12 1 30 1-22 2 48 0-78 2 71 1-13 1-7 1-22 2 28 1 28 1-39 1-9 1 41 1-13 2-25 1 30 1 15 1-38 1 33 2 20 1-41 1 21 1 7 1-52 1 22 1-27 2 32 1 17 1-14 1-17 1 5 1-53 2 23 1 21 1-2 1-35 1 29 2-4 1 33 1-22 1-25 1 0 2 48 1-18 1 0 1 14 2 37 1-37 1-18 1-11 1-7 1 10 1 21 2-7 1 5 1-3 1 4 1-19 1 12 2 17 1-57 1 18 1-5 1 13 1-24 2 1 1-3 1 9 1 2 1-27 2 53 1-8 1-17 1 23 2 45 1-39 1-17 1-2 1 1 1-46 1 42 2 15 1 4 1-6 1-35 1-24 1 41 2 7 1-7 1-3 1 11 1 12 2 0 1-9 1 14 1-11 1-22 1-1 2 21 1-11 1-9 1 40 1-9 2-4 1 22 1-55 1 33 1-6 2 14 0-48 2 59 1-28 1 10 1-28 2 47 1-17 1 30 1-8 1-8 2-2 1-19 1 31 1-43 1 45 1-56 1 22 2-11 1-6 1 6 1-5 2 41 1-25 1-8 1 40 1-13 1-19 1-12 2-18 1 52 1-58 1 61 1-38 2 16 1-13 1-23 1 54 1-32 1 17 2 13 1-21 1 6 1-31 1 26 2 7 1-33 1 1 1 40 1-7 2 29 1-28 1 10 1-31 1 26 1 1 1-41 2 10 1 24 1-15 1-44 1 31 2 4 1 10 1 29 1-12 1 7 2-9 1 4 1 3 1-10 1 20 2 8 0-48 2 30 1-65 1 37 1 55 1-42 2 12 1-8 1-2 1-8 2 44 1-43 1 28 1 2 1-9 1-22 1 7 2-13 1-2 1 43 1-57 1 60 2 18 1 11 1-27 1-11 1 14 1-30 2 11 1 0 1-29 1 8 1 20 1-22 2 13 1-3 1-17 1 49 2 1 1 5 1-22 1-22 1 9 1-39 2 65 1-11 1 1 1 4 1-13 1-37 2 42 1-19 1-3 1-15 1 9 1-6 1-23 2 67 1 3 1-20 1-4 1-9 2-13 1 27 1-17 1-13 1-3 2 55 1-37 1 22 1 13 1 2 1-53 2 33 1 20 1-17 1-23 1-7 2 14 1-29 1-2 1 67 1-49 1-27 2 29 1 0 1 0 1 18 1-4 2 14 1-39 1-2 1-23 1 75 2-3 1-27 1-13 1 21 1 27 1-26 2 3 1-1 1-48 1 31 1 31 1-16 2-12 1 20 1 0 1-12 1 5 1-12 2 12 1-9 1-12 1-28 1 29 1-19 2 25 1 3 1-1 1 6 1 5 2 0 1-20 1 19 1 20 1-28 2 19 1-39 1 28 1-21 1 14 1-21 2 33 1-18 1-6 1 12 1 2 1-7 2-8 1 17 1 24 1-39 1 25 1-26 2 18 1 21 1-68 1 36 1 7 2 2 1 27 1 5 1-8 1 0 1-40 2 47 1-43 1 4 1 13 1-34 2 31 1 0 1 26 1-27 2 60 0-84 2 39 1-20 1 2 1-19 1 20 2 27 1 14 1-53 1 23 1 3 1-32 2-5 1-2 1-4 1 49 1-31 1-5 2 4 1-21 1-3 1 31 1-25 1 1 2-11 1 5 1 34 1-40 1-6 1-48 1-32 2-2 1-38 1-18 1-10 1 5 2 94 1-26 1 58 1-1 1 11 2-13 1 46 1-19 1 8 1 1 2 40 1 5 1-8 1-19 1 4 2-8 1-34 1 39 1 2 1 10 2 25 1-23 1-28 1 54 1-15 1-13 2 19 1 13 1-35 1-11 1 0 1-13 2 33 1-56 1 47 1-22 1 5 2 30 1-33 1 46 1 18 1-54 1-7 1-28 2 53 1-21 1 0 1 5 1-5 2 35 1-20 1 13 1-27 1 8 2 10 1 31 1-45 1 13 1-43 1 24 2-3 0-53 2 40 1 44 1-57 2 87 1-61 1 16 1 9 1-11 1-5 1 0 2 33 1-12 1-4 1-28 1-20 1 5 1-52 2 34 1 37 1 3 1-33 1-2 2-7 1-68 1 6 1 10 1-32 1 10 2 21 1 17 1-38 1 52 1 16 2 0 1 28 1-31 1 5 1-4 2 71 1-65 1 49 1-20 1-18 1 9 2-2 1 3 1 6 1-15 1-21 1 24 2 16 1-50 1-15 1 35 1-28 1 10 2-25 1 42 1 41 1-13 2 28 1-16 1 23 1-15 1 12 1-34 2 29 1 6 1 9 1-25 1-4 1-9 2 23 1 24 1-35 1 28 1-20 2 32 1-56 1 0 1 31 1-19 1-37 2 38 1 3 1-3 1-30 1 36 2 13 1 19 1 7 1-41 1 15 1 5 2-23 1 29 1-14 1-12 1-23 2 46 1-13 1-9 1 23 1-34 1 30 2-14 1 11 1-55 1 77 1-45 1 12 2-28 1-2 1 63 1-32 1-25 1 1 2 4 1-45 1 6 1 4 1-12 1-11 1-11 2-34 1 17 1-5 1 29 1-2 2 37 1 6 1-6 1 27 1-33 2 1 1 45 1-19 1 1 1-14 1 3 2 27 1-12 1-63 1 54 1 20 2 30 1-60 1 57 1-11 1-6 2 12 1-11 1 44 1-49 1 33 1-46 2 48 1-25 1-25 1 56 1-30 2 22 1-7 1 0 1-12 1-24 1-8 2 38 1-19 1 4 1 10 1-2 1-15 2-2 1 1 1-6 1 10 1-11 1-8 2-23 1 32 1 8 1 12 1-5 2-16 1 43 1-20 1 23 1-39 1 14 2-9 1 0 1-9 1 12 1-30 2 55 1-17 1 13 1-34 1-30 1 41 2 18 1-32 1-22 1 3 1 15 1 3 2 2 1 27 1-13 1-12 1-5 1-5 2 45 1-5 1-4 1-13 2 53 1-30 1-17 1-2 1 11 1-23 1 1 2-29 1 29 1-7 1 17 1 5 2-10 1 23 1-23 1 0 1-23 1 13 2 5 1-16 1 19 1-21 1 33 1-24 2 6 1-5 1 3 1 21 1-24 1-25 2 22 1 14 1-10 1 19 1-25 2 5 1-22 1 32 1-54 1 30 1 1 2-28 1 24 1-37 1 70 1-58 1-28 1-13 2-23 1 7 1-50 1 31 1-14 1-29 2 60 1 12 1-13 1 38 1-6 2 10 1 10 1 31 1-17 1-23 2 20 1-3 1-1 1 33 1-8 1-20 2 10 1 2 1 12 1 54 1-51 2 7 1 44 1-12 1-42 1 20 2 3 1 7 1 15 1-11 1-11 1 9 2 29 1-13 1-24 1-36 1 27 1 19 2-37 1 29 1 11 1 8 1-39 1 4 2 40 1 4 1-6 1-37 1-10 2 28 1 25 1-31 1-23 1 33 1-8 2-18 1 16 1 10 1 21 1-27 2-1 1-4 1 1 1 39 1-82 1 65 2-10 1-23 1 23 1 5 1-10 1-15 2 14 1-17 1 33 1-60 1 38 2 15 1-10 1-33 1 62 1-45 1 19 2-10 1-30 1 19 1 30 1-23 1 2 2 8 1-52 1 52 1 11 1-23 2 26 1-34 1 37 1 1 1-23 1-56 2 37 1 20 1-37 1 18 1-17 1 35 2-4 1 1 1 28 1 2 1 5 2-15 1 22 1-45 1-1 1 33 1 14 2-14 1 24 1-19 1-4 1 9 1-3 2-25 1 28 1-32 1 27 1 22 2-26 1-47 1 39 1-14 1-20 1 33 2-20 1 15 1-4 1-3 1 20 1-7 2-15 1 6 1 27 1-26 1-31 1 12 2 13 1 6 1 12 1 25 1-19 2 19 1-12 1 0 1-27 1 27 1-31 2 16 1 13 1 12 1-46 1 29 2 5 1-18 1 3 1 2 1 35 1-35 2-3 1-16 1 31 1-43 1-2 1 12 2-2 1 34 1-13 1 13 1-23 1-5 2 13 1-5 1-16 1 2 1-20 1 0 2 15 1 39 1 5 1-33 1 8 2 9 1-27 1 20 1-2 1-63 1 75 2-21 1 31 1-31 1 4 1 3 1-31 2 50 1-7 1-43 1 39 1-20 2 12 1-26 1 23 1 1 1-39 1 73 2-35 1-16 1 0 1-24 1 58 1-25 2 6 1 5 1-26 1-3 1 9 2 20 1-29 1 9 1-11 1 3 1-7 2 33 1 20 1-25 1-7 1-3 1 22 2 19 1 4 1-36 1-10 1 11 1 2 2-27 1 37 1-41 1-15 1 29 2 34 1-37 1 30 1-3 1-11 1 11 2 1 1 52 1-66 1-10 1 26 1 6 2 17 1-28 1 10 1 2 1 3 2 4 1 14 1-5 1-5 1 29 1-50 2 42 1-26 1-2 1 7 1-20 1-24 2-3 1 27 1 2 1 32 1-35 2 33 1-54 1 24 1 0 1-27 1 9 2 23 1-30 1-21 1 10 1 2 1-14 2 62 1-43 1 18 1 25 1-7 2 28 1-39 1 5 1 29 1-47 1 23 1-23 2 10 1-35 1 10 1 10 1 7 2 53 1-36 1-20 1 31 1-32 1 9 2 36 1 7 1 6 1-6 1 6 2-8 1 8 1-28 1-15 1-12 1 11 2-11 1 10 1-8 1-6 1-15 1-26 2 57 1-22 1 29 1-12 1 10 1-23 2 3 1-19 1 30 1 24 1-27 1 3 2 5 1 15 1-23 1 45 1-48 2-18 1 75 1-47 1-38 1 32 1 33 2 20 1-30 1-13 1 36 1-59 2 53 1-68 1 19 1-40 1 42 1-15 2 47 1-2 1 2 1 5 1-57 1 79 2-9 1-51 1-15 1 20 1 21 1-29 2-32 1 33 1 16 1-21 1 5 1 33 2-2 1 0 1-40 1 29 1-22 1-23 2 50 1-1 1 41 1-75 1 50 2-4 1-6 1 2 1 23 1-53 1 26 2 6 1-23 1 2 1 16 1-23 1 24 2-45 1 37 1 27 1-28 1 5 2-16 1-51 1 84 1-31 1 7 1-32 2 67 1-55 1 27 1 39 1-35 1 17 2-19 1-17 1-30 1 37 1 34 1-27 2 29 1 4 1-18 1-24 1-10 2 38 1-46 1 12 1-26 1 51 1-23 2-8 1 19 1-9 1 42 1-42 1-6 2 21 1-5 1-4 1 19 1-6 2 15 1-15 1-29 1 15 1 9 1-18 2 20 1-11 1 21 1-13 1-28 1-12 2 38 1-6 1-4 1 2 1 23 1-33 2 1 1 20 1-8 1 17 1-35 1 25 2-22 1 32 1-36 1 23 1-36 2 37 1-16 1-16 1 19 1 32 1-11 2-42 1 55 1-86 1 78 1-40 1 73 2-78 1 12 1 29 1-41 1 47 1-21 2-16 1 54 1-43 1 13 1-8 2-1 1 14 1 21 1-45 1 0 1-18 2 69 1-52 1 12 1-10 1 8 1 13 2 9 1-3 1 2 1 12 1-42 1 4 2-32 1 4 1 45 1-16 1 20 2-22 1 15 1-4 1-24 1 54 1-65 2 18 1 17 1 2 1 24 1-41 1-26 2 24 1 15 1 3 1 3 1-6 1-29 2 37 1-37 1 65 1-46 1 45 2-39 1 4 1 7 1 5 1 1 1 11 2-65 1 52 1-31 1 35 1-27 1 34 2-48 1 37 1-29 1 27 1-5 1-9 2-25 1 26 1-23 1-21 1-18 1 34 2 31 1-27 1 0 1 26 1-1 2-3 1 15 1-16 1 29 1-24 1-6 2 20 1-10 1-34 1 51 1-16 1-11 2 2 1-14 1 2 1-9 1-3 1 60 2-67 1 14 1-7 1 18 1-40 2 22 1-15 1 36 1-30 1 27 1 16 2-5 1-20 1 34 1-24 1 39 1-16 2-29 1-2 1 28 1-3 1 4 1-44 2 5 1 9 1 4 1 17 1 1 2 30 1-68 1 31 1 11 1 7 1 17 2 16 1-44 1 22 1-36 1 7 1 45 2 1 1-24 1-4 1-20 1 0 1 26 2 3 1-4 1-21 1 36 1-25 1 22 2-21 1 26 1-50 1 25 1-30 2 12 1-13 1 61 1-39 1 4 1 20 2-39 1 21 1 9 1-26 1-20 1 19 2-4 1-12 1-21 1 23 1 1 1-19 2 28 1 22 1 15 1 19 1-72 1 22 2 39 1-13 1-11 1-17 1 19 2-19 1 4 1-16 1 21 1 30 1-34 2-10 1 21 1-19 1-6 1 51 1-45 2-10 1-15 1 0 1 72 1-7 1-25 2 2 1 25 1-23 1 22 1-50 1 35 2-5 1-6 1 3 1 14 1-39 2 18 1 6 1-7 1-2 1 29 1-11 2-51 1 44 1-13 1-19 1 10 1-9 2-27 1 26 1 27 1-15 1-29 1-1 2 17 1 4 1 9 1 8 1 29 1-34 2 2 1-9 1 6 1-4 1-1 2-29 1 56 1-12 1-29 1 54 1-32 2 8 1-4 1 3 1-4 1-6 1 43 2-36 1-1 1-29 1 14 1 3 1 38 2 34 1-88 1 23 1 11 1 59 1-69 2 13 1 27 1-57 1 20 1-9 2-1 1-4 1-10 1 46 1-27 1 6 2-11 1 3 1-6 1 11 1-34 1 38 2 20 1-20 1-11 1 12 1 29 1-3 2-29 1-28 1 27 1 1 1-8 1 27 2 22 1-60 1 41 1-27 1-6 2 20 1 7 1-10 1 14 1-22 1-4 2 23 1-28 1 4 1 29 1-41 1 8 2-10 1 34 1 25 1-38 1 39 1-50 2 17 1 1 1-11 1 11 1 14 1-19 2-19 1-3 1 20 1 19 1-17 1 1 2-8 1-4 1 45 1-35 1 1 2 1 1 26 1-11 1-23 1 21 1-26 2 28 1-11 1 6 1-37 1-4 1 42 2-9 1 10 1-33 1 43 1-33 1-3 2 22 1 17 1-4 1-12 1-4 1 13 2-22 1 22 1-4 1-3 1 1 0 61"/>
<path id="t7" d="M1814 2474l-1-75 2 26 1-25 1 37 1-15 1 1 1-34 2 35 1 13 1-7 1-54 1 17 2 4 1-13 1 21 2 21 1 2 1-18 1 20 1-36 1 3 2 47 1-44 1 3 2 25 1 1 1-7 1-24 1-23 1 16 1-7 2-7 1 11 1-1 2 18 1-6 1-3 2 48 1-7 1-28 1-29 1-25 1 38 1-14 2 8 1 4 1 1 1 24 1-18 2-4 1 7 1-14 2 31 1-20 0-36 2-3 1 39 1-17 1-12 2 23 1 40 1-48 2 33 1-3 1 25 1-3 1-27 2 43 1-5 1-16 1-13 1-22 2-7 1-2 1 25 1-3 2-3 1-10 1-9 1 21 1-17 2 24 1-36 1-2 1 41 2 7 1-34 1-1 1 10 1-14 2 13 1-9 1 21 1-28 1 17 2-16 0-29 2 43 1-22 1 22 2-18 1-1 1 22 1-36 2 26 1-18 1 29 1-19 1 23 2 0 1-9 1-21 1 29 1-47 2 35 1-23 1 43 1-4 2-14 1 9 1 24 2 14 1 12 1-4 1 3 1-77 1-4 2 36 1 35 1-64 1 4 1 11 1-27 2 18 1-20 1 43 1-17 2 1 1 15 1-16 1 8 2 20 1-16 1 3 1-14 1-3 2 33 1-3 1 6 1-6 2 0 1-13 1-9 1 24 2 1 1 2 1-11 1 41 1-74 2 60 1-33 1-2 1-25 1 27 2 12 1-19 1 22 1-44 1 33 1-21 2 26 1 4 1-40 1 9 2-7 1 10 1-41 1 8 1 10 2 11 1 36 1-12 1 11 2 10 1-40 1 28 1-4 2 13 1 9 1-30 1 18 1-40 1 8 2 18 1 13 1-29 1 24 2 12 1-28 1 14 1-4 1-9 2 13 1-10 1 23 1-34 1-7 2 42 1-23 1-17 1-9 1 5 2 13 1 19 1-17 2 27 1-27 1-2 1-24 1 41 2-3 1 11 1 1 1-8 1-35 2 15 1-17 1 9 1 16 1-10 1-25 2 22 1-22 1 20 1-14 1-14 2 19 1-15 1 5 2 22 1 34 1 3 1-18 1-33 2 31 1-33 1 49 1-6 2 19 1-32 1-18 1-12 1-23 2 77 1-35 1 13 1 9 1-13 2-13 1 15 1-23 1-27 1 31 1-19 2 6 1-37 1 48 2 30 0-62 2 18 1 16 2 32 1-13 1-12 1 17 1 2 2 9 1-10 1 2 1 11 2 13 1-48 1-10 1 4 1 20 1-1 2-22 1 6 1 38 1-18 1-23 2 12 1 2 1 19 1-10 2 34 1-25 1 27 1-27 1-21 1-42 2 23 1 19 1 2 2 21 1-33 1 20 1 24 1-30 2 7 1-11 1-14 1 27 1-21 2 26 1 28 1-30 1-13 1-29 2 20 1-14 1 28 1 2 2-10 1-4 1 29 1 1 1-38 2 2 1-33 1 45 1-5 2 7 1 1 1-6 1 10 1-19 1-18 2-7 1 50 1 5 1-12 2 20 1 21 1-29 1-26 2 28 1-1 1 22 1-2 2-10 1-5 1 23 1-33 1 3 1-27 2 54 1-60 1 15 1 2 2 6 1 9 1 5 1 14 2-4 1-14 1-18 1-1 1-14 1 0 2 15 1 25 1-18 2 43 1-32 1 4 1-20 1 3 1-9 2 21 1 21 1-58 1 5 2 29 1-31 1 45 1-8 1-4 2 30 1-32 1-26 1 48 2 13 1-1 1-20 1-28 1 9 1-20 2 6 1-38 1 81 1-52 1 4 2 3 1 11 1 3 1-4 2 24 1-46 1 16 1 3 2 24 1-23 1-44 1 27 1 18 2 23 1-31 1 16 1-28 1 24 1-18 2 42 1-28 1 4 1-5 2-10 1 40 1-55 1-8 1 10 2-1 1-5 1 38 1-3 2 1 1-37 1 59 1-16 2 8 1 14 1-33 1 11 2 29 0-62 2 25 1 8 1 2 2 32 1-38 1-15 1-13 1 37 2 17 1-8 1-40 1 2 1 12 1-22 2 53 1-9 1 0 1-2 2-23 1 9 1 11 1 3 1-12 2 29 1-4 1-39 1-4 2 47 1-42 1 38 1 13 1-57 2 13 1-26 1 30 1 12 1-54 2 58 1-6 1 7 1-29 1-8 2 11 1 13 1-29 1 24 2 1 1-2 1 14 1-25 2 53 1-35 1 14 1-17 1 32 2-9 1-18 1-6 1 14 2 19 1 5 1-55 1 10 1 3 1-30 1 7 2 1 1 6 1 18 1-9 2 16 1-19 1 24 1-30 1 6 2-2 1 5 1-13 1-1 1-1 2 0 1 3 1 3 1-8 2 13 1 13 1-7 1 23 1-29 1-20 2 3 1 11 1-10 2 46 1-31 1 61 1-49 2 21 0-45 2 9 1 32 1-15 1-32 2 21 1 13 1-7 1-10 1-3 2 34 1-8 1-18 1-9 2 18 1-13 1 32 1-39 1-16 2 57 1-24 1 14 1 8 1-23 2 19 1 4 1-4 1-31 2 31 1-8 1-11 1-13 2 33 1 38 1-99 1-13 1 41 1 2 2 17 1 45 1-39 1 6 2-18 1-26 1 15 1-9 1 37 2 49 1-84 1 34 1-1 1-14 2-8 1 19 1 9 1-31 1 1 2 24 1-36 1 19 1-9 2 13 1-10 1 41 1-40 1-30 2 28 1 29 1-4 1-38 1 18 2 1 1-11 1 23 1 7 2 11 1-24 1 12 1 0 2 7 1-29 1 8 1 24 1-80 1 46 2 46 1-43 1 9 1-15 2 25 1 32 1-34 1 13 1-15 2-4 1 28 1-21 1 4 1-22 2 39 1-78 1 62 1-27 1-9 1-17 2 23 1-36 1 23 1 15 2-7 1 56 1-29 1 7 2 7 1-7 1-28 1 16 1-5 2-19 1 2 1-17 1 37 1-14 2 16 1-6 1 17 1-9 2 13 1 7 1-19 1 16 2 6 1 20 1-62 1-3 1 5 1 0 2 23 1-24 1 11 1 4 2 23 1-26 1-64 1 60 1 12 2-24 1 27 1-28 1 27 2 34 1-54 1 2 1 33 1-24 1-12 2 21 1-19 1 22 1-7 2-3 1 20 1 7 1-15 1-55 1-3 2 34 1 52 1-47 2 14 1 3 1-55 1 14 2 75 1 4 1-40 1-2 1-33 1 37 2 9 1-2 1-27 1 17 2 11 1-8 1 17 1-14 1-37 1 14 2 11 1 25 1-19 2 37 1-7 1 6 1-28 1-4 2 4 1 6 1-76 1 29 1 11 2 19 1 2 1 5 1-36 1 5 2 20 1-7 1-21 1 44 1-8 2 18 1-28 1 12 1 12 2 5 1-40 1-19 1 35 1-1 2 11 1-15 1 15 1-36 1-1 1 6 2 8 1-12 1 13 1-16 2 20 1-5 1 9 1-67 2 76 1-8 1 3 1-11 1-3 2 30 1 7 1-16 2 54 0-52 2-16 1-12 1 9 1 4 2 44 1-13 1-8 1 9 1-35 1-1 2 33 1-16 1-12 1-35 2 63 1-4 1-33 1 19 1-17 1-21 2 33 1 30 1-40 2 20 1-22 1-19 1 37 1-31 1 9 2 15 1-26 1 19 1-3 2 4 1-2 1 39 1-42 2 27 0-64 2 42 1-20 1 40 2-5 1-30 1 31 1-31 1-24 2 71 1-18 1-6 1 38 1-23 1-33 2 48 1-20 1 12 1-46 2 35 1 12 1-11 1 7 1-46 2 86 1-90 1 40 1-3 1-20 2-8 1 23 1 11 1-4 2 10 1-3 1 9 1 0 2-11 1 17 1-10 1-8 1 6 2 12 1 0 1-41 1 7 1-8 1-28 2 63 1-48 1-2 1 2 2 35 1 16 1-39 1 9 1 4 2 13 1-22 1 9 1-31 2 46 1-37 1 35 1-22 1 5 1-23 2 14 1-15 1 41 1-80 2 66 1-12 1-2 1 5 1 14 2 16 1 8 1 25 1-60 2 15 1-13 1 0 1 4 1 7 1-21 2-22 1 27 1 13 1 8 2-9 1-15 1 22 1-5 1-10 2-24 1 15 1 23 1-17 2 8 1 6 1 7 1 17 1-25 2-10 1-17 1 27 1 5 1-26 2 34 1-6 1-18 1 54 2-9 1-38 1-16 1 36 1-38 2 18 1-26 1 2 1 7 1-7 1-18 2 27 1 9 1 53 1-71 2 70 1-1 1-7 1-33 1-10 2-17 1 13 1 38 1-45 1-5 2 25 1-39 1 39 1-23 2 32 1-17 1-22 1 11 1 16 2-24 1 31 1-62 1 20 1 26 2 20 1-16 1 9 1 26 2-22 1-24 1 15 1-15 1 25 1-26 2-32 1-3 1 31 1 15 2-1 1 23 1 3 1-7 2 28 1-46 1 19 1-16 1-1 1-7 2 7 1-6 1 4 1 23 1-39 2 8 1 3 1 6 1-29 2 36 1-5 1-7 1-21 1-5 1-33 2 59 1 5 1 9 2 12 0-85 2 29 1 35 1 2 1-32 2 12 1 44 1-51 1-14 2 46 1-31 1-9 1 13 1 13 2 10 1-3 1-18 1 19 1 1 2 21 1-33 1 14 1 14 2 0 1 19 1-18 1-11 1-20 2 3 0-55 2 47 1 32 2 3 1-13 1 18 1-38 1 14 2 14 1-2 1-37 1 48 1-6 2-11 1-12 1-11 1 39 1-28 2 19 1 5 1 9 1-18 1-6 2 14 1 6 1-14 1 1 1-17 2-20 1 9 1-22 1 16 1-15 2 22 1-4 1 21 1-8 1-7 2 29 1-11 1-24 1 29 2-23 1-15 1-22 1 43 1-59 1-9 2 103 1-29 1-1 2 17 1-24 1 43 1-44 1 4 1-2 2 5 1-5 1-4 1-8 2 24 1-17 1-29 1 36 1-14 2 16 1-27 1 26 1-15 1 6 2 16 1 1 1-46 1 43 2 13 1-18 1 28 1 2 1-14 2-16 1 35 1-39 1-22 1 26 1-46 2 57 1-29 1 24 1 9 2-2 1-12 1-15 1 54 2-12 0-67 2 51 1-23 1 39 2-15 1 1 1-1 1 22 1-11 2 13 1-20 1-24 1 39 1-32 1-45 2 52 1-5 1-2 1 2 2 34 1-8 1-36 1 10 2 22 1-8 1-36 1 8 1 27 2-9 1 32 1-10 1-44 1 25 2-15 1 18 1-37 1 12 1-3 2 22 1-2 1 5 1-28 1 28 2-31 1 17 1-12 1-8 2 33 1-14 1 8 1-30 1-37 1-17 1-12 1-59 2 33 1-1 1 33 1 14 2 33 1 39 1-29 2 14 1-42 1 45 1 10 1-24 2 36 1-34 1 17 1 21 1-36 2 41 1 8 1-53 1 13 1-6 2 18 1 10 1 7 2 49 1-42 1-29 1 13 1-17 1-9 2 11 1 22 1 8 1 28 1-86 2 51 1-15 1-18 1 38 2-3 1 14 1-12 1-43 1 6 2 16 1-5 1 11 1 14 1-38 2 17 1 17 1 4 1-25 1-20 2 52 1-28 1 8 1 24 1-44 2-2 1 44 1-60 1 31 1-9 2 6 1 14 1 8 1-10 2-23 1 10 1 17 1 8 1-14 2-22 1 31 1 1 1-38 1 14 2 28 1-68 1 15 1 50 1-23 2-22 1-13 1 26 1-38 1 8 2 5 1-62 1 23 1-4 1 7 2 26 1 23 1 16 1-47 1 22 2 4 1 41 1-43 1 36 2 4 1 17 1-30 1 13 1-22 2-7 1 14 1-35 1 23 1 6 2-8 1 15 1-44 1 38 1-47 2 11 1-18 1 41 1-50 1 30 2 22 1-11 1 28 2 20 1-21 1-15 1-6 1-10 1 4 2 10 1 20 1 2 1 0 1-16 2-10 1 1 1 12 1-34 2 45 1 7 1 22 1-24 1-13 2-6 1 16 1 7 1-2 1-2 2 19 1-1 1 4 1-11 2 2 1-5 1-42 1 32 1 34 2-32 1-2 1-15 1-12 1 51 2-14 1 7 1-2 1-9 1-1 2 15 1 0 1-2 1-51 1 31 2-11 1-26 1 17 1 11 1-4 2-16 1 3 1 11 1-56 1 56 2-27 1-1 1-2 1-25 1 13 1-39 2 15 1 34 1-6 1-4 2 27 1-19 1-2 1 42 2-16 1 15 1 4 1 26 1-30 2 28 1-18 1-54 1 32 2 24 1-6 1-8 1 47 1-5 2-12 1-7 1-14 1 14 1 1 2-18 1 0 1-33 1 48 2 26 1-40 1 25 1 34 1-18 2 23 1-31 1-41 1 15 1-36 1 8 2 25 1 9 1 19 1-13 2 6 1-6 1-4 1-13 1-3 2 65 1-21 1 16 1-1 2-9 1-41 1 24 1 6 1 2 1-21 2-10 1-9 1 48 1-49 1-37 2 40 1 3 1 22 1-5 2 1 1-30 1-9 1 22 1 26 2 12 1-5 1 29 1-9 1-31 2-12 1-15 1 8 1 17 1-23 2 46 1-37 1 22 1-17 2 12 1-1 1-9 1 5 1-37 2 19 1-48 1 66 1-30 1 1 2 52 1-58 1 45 1 2 1 2 2 4 1-5 1 31 1-45 1-18 2 16 1 40 1-23 1-13 1-45 2 29 1 11 1-1 1 23 1-47 2 14 1-25 1 28 1-21 2 37 1-61 1 18 1-17 1-13 1 17 2-32 1 60 1-3 1 3 1-31 2-11 1 32 1-19 1-28 1-2 2-8 1-11 1 7 1-29 1 23 2-6 1 12 1-39 1 39 1-8 2 33 1 31 1-10 1 5 2 27 1-27 1-9 1 44 1-84 2 51 1 27 1-38 1 37 1-38 2 48 1-13 1-36 1 22 2 13 1-41 1 24 1 18 1 13 2-14 1 47 1-61 1 24 1-18 2 19 1 3 1-3 1-47 2 66 1-35 1-7 1-22 1 58 2-19 1 10 1-22 1 48 1-57 2-2 1 48 1-8 1-7 1-5 2 17 1-12 1-15 1 43 1-36 2 27 1-25 1-3 1 16 2-12 1-7 1-1 1-32 1 47 2 8 1-11 1-9 1 25 1-9 2-13 1 30 1-5 1-12 1 0 2 0 1 18 1-20 1-6 2 25 1-51 1 25 1-6 1 0 2 28 1 6 1-1 1-8 1-1 1-38 2 17 1 10 1-21 1 20 2-18 1 9 1 0 1 41 1-46 2 12 1-8 1 4 1 24 1-27 2 35 1-21 1-6 1 26 1-34 2-16 1 11 1-14 1 18 1 4 2-43 1 15 1 19 1 49 1-48 2-3 1-28 1 34 1-60 1 50 2 5 1 22 1-5 1-17 2-3 1 21 1-37 1 9 1 28 2 1 1 17 1-15 1 27 1-26 2-36 1-5 1 28 1-5 1-17 2 12 1 8 1-27 1 35 1-36 2 4 1-8 1-8 1 36 2 1 1-2 1 10 1-12 1 15 2 23 1 28 1-33 1-12 1 22 2-28 1-4 1-5 1-19 1 36 2 12 1-2 1-29 1 6 1-12 2 43 1-20 1-18 1 32 1-30 2 24 1-9 1-12 1-21 1 4 2-18 1 80 1-1 1-8 2-32 1 14 1 33 1-7 1-62 2 22 1 22 1-5 1-40 1 33 2-6 1 5 1 15 1-25 1 6 2-2 1-8 1 4 1-11 2 48 1-67 1 16 1 21 1 10 1-14 2-10 1 39 1-6 1-45 2 36 1-12 1 8 1-9 1 15 2 11 1-25 1 20 1-3 1-25 2-4 1-15 1 11 1 3 1-1 2-10 1 20 1 18 1-51 1 30 2 9 1-37 1 58 1-35 1 35 2-20 1 8 1-1 1 35 2-18 1-27 1-5 1 5 1-22 1-8 2 44 1-18 1-26 1 14 2 11 1 4 1 46 1-42 1 14 2-46 1 72 1-38 1 19 1-3 2 8 1-10 1-20 1-6 1 9 2-59 1 12 1 5 1 26 1-40 1-28 2 98 1-64 1 58 1-41 2 8 1-5 1-5 1 35 1-17 2 16 1-27 1 34 1-64 1-1 2 26 1-16 1-14 1 14 1 11 2 31 1-14 1-37 1 35 2-3 1 18 1-19 1-12 1 53 2-27 1 0 1-4 1 13 1-14 2-40 1 71 1-21 1-41 1 14 2 54 1-43 1 21 1 39 1-23 2-15 1 13 1-16 1-9 1-25 2 4 1 13 1 28 1 12 1-50 2 36 1 16 1-36 1 0 2 18 1-11 1-26 1 62 1-24 2-7 1-5 1 36 1-30 1-19 2 10 1 4 1-2 1-12 1 14 2-40 1 22 1 20 1-7 1 37 2-30 1-24 1 38 1-36 1 38 2 25 1-6 1-27 1 9 2 13 1-27 1 5 1 39 1-85 2 34 1-8 1 46 1-16 1-40 1-7 2 8 1-5 1 30 1 2 2-18 1-1 1 14 1-15 1 4 2-11 1 41 1-23 1 29 1-53 2 35 1-21 1 14 1-25 1 38 2-1 1-26 1 27 1-11 1 14 2-24 1-21 1 28 1-37 1 40 2 34 1-27 1-15 1-24 1 3 2 24 1-17 1-16 1-2 2 44 1-31 1 5 1 32 1-11 2 31 1-3 1-19 1 7 1-3 2-8 1-14 1 12 1 10 1-13 2 46 1-32 1 3 1-9 1-5 2-20 1 25 1 19 1-33 1 11 2-46 1-14 1 16 1 31 1-27 2 46 1-26 1 15 1 49 1-49 2-30 1 48 1-70 1 89 2-27 1 0 1 13 1-28 1-11 2 40 1 11 1-34 1 8 1-28 2 12 1-10 1 7 1-30 1 38 2 16 1-9 1 0 1-59 1 34 2 20 1-9 1 3 1-5 1-25 2 10 1 7 1 30 1-31 1 29 2-15 1 9 1-41 1 71 1-27 2-11 1-29 1 11 1 30 2 23 1-41 1 26 1-11 1-26 1 10 2-18 1 27 1-50 1 52 2 38 1-21 1-2 1-1 1 12 2-12 1-12 1 0 1-12 1 12 2-7 1-28 1 21 1 3 1-26 2 28 1-60 1 37 1 39 1-6 2-13 1 0 1 30 1-12 1 0 2-25 1 41 1-41 1-32 1 12 2-6 1-14 1 35 1 5 1-24 2 12 1-11 1 60 1-55 1 47 2-52 1 16 1 5 1 23 1-14 2-8 1 3 1 32 1-20 2-5 1 27 1 9 1-75 1 14 2 20 1 7 1-34 1 26 1 66 2-47 1 29 1-43 1 41 1-35 2-5 1 50 1-68 1 32 1-2 2 12 1 1 1-26 1-12 1 14 2 13 1-28 1 23 1-11 1 23 2-3 1 55 1-100 1 24 1-19 2 17 1 38 1-40 1 13 1 15 2 10 1-15 1 18 1-28 1 23 2 8 1-22 1-9 1 24 2 13 1-38 1 9 1-16 1-10 2 25 1-16 1 7 1-17 1 34 2 21 1 3 1-47 1 30 1-10 2 15 1-10 1-50 1 44 1-3 2-8 1-17 1 25 1 21 1-10 2 9 1-11 1 7 1-7 1-20 2-2 1-7 1-8 1 28 1 17 2-52 1 36 1-55 1 17 1 5 2 46 1-37 1 34 1-4 1-30 2-3 1 28 1-7 1-4 1 9 2-14 1 8 1 10 1-1 1 15 2-16 1 10 1-55 1 34 1 7 2-7 1 2 1 9 1-17 2-5 1-7 1 37 1-15 1 21 2-33 1 30 1-19 1 12 1-19 2 6 1-14 1 11 1 18 1 11 2-73 1 23 1 12 1-42 1 59 2-22 1-23 1 51 1-13 1-43 2 22 1 20 1 9 1-31 1 20 2-7 1 30 1-15 1 0 1 11 2 19 1-36 1 1 1-4 1 1 2 15 1-17 1-13 1 35 1 8 2 6 1-8 1-11 1 14 1-15 2 14 1-42 1 19 1 39 1-25 2-8 1 7 1-6 1-8 1-14 2-23 1 43 1-3 1 9 2-39 1 17 1 36 1-34 1-12 2 48 1 6 1-56 1 10 1 23 2-8 1 32 1-15 1 5 1-25 2-10 1-5 1 22 1 28 1-32 2 6 1-15 1-23 1 10 1 8 2 2 1 19 1-53 1 35 1-42 2 61 1-48 1 28 1-3 1-7 2-10 1 21 1 19 1 25 1-22 2-8 1 5 1 28 1 15 1-46 2 4 1-25 1-2 1-15 1 6 2-6 1-5 1 11 1 15 1 5 2 11 1 19 1 7 1 18 1-34 2-8 1 25 1-14 1 15 1-2 2-9 1-38 1 44 1 0 1-41 2-15 1 11 1 6 1-12 2-2 1 33 1-7 1 3 1 29 2-22 1 4 1 7 1 8 1-33 2 9 1-7 1-2 1-4 1 16 2 23 1-35 1 39 1-8 1-34 2-9 1 4 1 4 1 24 1-62 2 36 1-11 1 45 1-38 1-21 2 7 1 69 1-59 1 54 1-77 2 21 1 10 1-14 1 11 1-19 2 43 1-20 1-4 1 1 1-11 2-16 1 23 1 39 1-20 1 30 2-23 1-1 1-8 1-3 1-4 2-44 1 9 1 26 1-19 1 13 2 33 1-18 1-48 1 24 1 9 2-15 0 105"/>
<path id="t8" d="M1660 2667l-1-98 1 36 1-26 2 18 1 15 1-15 1-23 2 57 1-23 1-19 2 29 1-13 1 2 1-32 1-5 1-6 2-9 1 38 1-44 2 60 1-49 1 32 2 17 0-37 2 8 1 30 1-16 1-23 1-19 2-21 1 58 2 1 1 8 1-37 1 31 2-1 1 12 1 25 1-34 2 10 1-14 2 57 1-31 1 1 1-12 1-9 2 13 1-10 1 47 1-81 1 15 2 9 1 13 1-30 1 16 1-15 2 5 1 35 1-53 1 11 2 31 1-7 2 20 1-1 1 31 1-64 2 39 1 13 1-43 1-2 1 4 1-29 2 63 1-36 1 11 2-1 1-24 1 20 1-15 1-11 1-13 2 11 1 24 1-31 2 31 1-59 1 50 1-18 2 11 1 24 1 8 1-26 2 31 1-16 1-36 1 19 2 0 1 19 1-38 1-21 2 43 1 26 1-41 2 26 1 22 1-21 1-23 2 58 1 27 1-15 1-42 2 0 1 59 1-30 1-20 2 33 1-60 1 13 1 17 2 16 1-19 1 0 1-18 2 19 1-31 1 9 2 37 1-25 1-18 1-3 1 7 2 39 1-17 1-34 1 44 1-44 2 10 1 22 1-20 1 6 2-15 1 5 1-7 2 30 1-3 1-25 1 18 2 13 1-26 1 18 1-39 1 37 2-16 1 15 1-23 1 19 1-24 2-1 1 7 1-21 2 56 1-7 1 7 1-8 2-22 0-36 2 5 1 48 2-20 1-4 1 31 1 3 2 11 1-26 1 12 1 0 2 10 1 2 1-17 1-6 2-11 1-29 1 50 1 4 2-6 1-39 1 56 1-20 2 4 1 1 1 8 2 11 1 13 1-32 1-49 2 61 1 11 1-47 1 43 1-19 2 26 1 6 1-28 1-4 1-37 2 8 1 22 1 8 1-38 2 23 1 15 1-50 2 68 0-77 2 27 1 10 1-6 2 17 1-24 1-15 1 29 2-17 1-2 1 13 2 26 1-4 1 43 1-45 1-4 2 20 1-17 1 12 1-39 1-21 2 11 1 56 1-27 2 3 1 27 1-40 2 34 1 11 1-39 1 36 2 6 0-68 2 16 1 20 1-11 2 0 1-15 1 39 2 23 1-4 1-25 1-7 1 5 1-42 2 78 1-47 1-1 2 8 1-17 1 15 1-14 2 41 1-27 2 49 1-25 1-22 1-1 1-43 1 2 2 34 1-6 1 35 1-9 2-20 1-23 1 40 1-10 2-9 1-33 1 21 1-1 2 27 1-20 1-6 1-6 1 6 2 51 1-33 1 6 1-14 2 29 1 23 2 6 0-56 2 23 1 0 1-11 2 16 1-3 1-18 1-13 1 6 2 5 1-15 1 8 2 28 1-20 1-12 1 28 1-52 2 41 1-3 1-19 2 28 1-23 1 22 1-14 2 27 1 1 1-20 1 7 2 1 1 11 1 2 1-19 2 25 1-18 1-39 1 28 1-35 2 19 1 15 1 9 1-4 1-30 2 12 1 14 2 19 1-36 1-28 1 34 1-11 2 18 1 17 1 14 1-58 1 1 2 19 1 7 1-9 1-22 1-35 2 59 1 11 1-25 2-6 1 55 1-39 1-9 2 56 1-31 2 22 1 11 1-52 1 15 1-3 1-26 2 36 1-33 1 36 2 13 1-26 1-28 1 13 2 20 1 4 1 7 1-17 1-9 2 43 1-30 1-8 1-14 2 10 1 3 1-4 2 24 1 1 1-4 2 59 0-63 2 6 1-46 1 45 1-12 2 1 1-27 1-18 1 37 2 9 1-14 1-28 1 35 2 18 1-11 1-44 1 5 2 50 1 21 1-1 2-4 1 3 1-22 1 22 2 2 1-12 1 33 1-18 2-10 1-9 1-25 1 24 1-2 2 27 1-36 1-26 1 13 1-26 2 45 1-41 1 23 1-14 2 19 1-23 1 11 1 2 2 25 1 2 1-18 2 50 1-50 1-4 1-11 2 28 1 11 1-5 1-33 1 8 2-9 1 20 1 0 2 26 1-19 1 17 1-13 2 14 1-15 1-42 1 36 2 20 1-14 1-10 1-12 2 60 1-35 1-23 1 6 2 22 1-1 1-5 1-12 1-16 2 11 1-32 1 32 1 18 2-21 1-15 1 51 1-65 2 52 1 35 1-55 1-9 2 65 1-74 1 28 1-14 2 8 1-16 1 13 2 34 1-26 1-2 1-18 1-17 1 8 2 22 1 15 1-32 1-7 2 16 1-17 1 18 1-15 2-5 1 31 1-65 1 44 2-12 1 43 1-23 2 18 1-16 1 17 1-21 1-1 2-5 1 56 1-37 1 7 2 21 1 1 1-6 2-10 1 21 1-20 1-30 2 40 1-13 1-35 1 25 1-43 2 29 1 9 1 18 1-34 2 37 1 9 1-7 1-14 2-6 1-4 1 3 2 40 0-70 2 36 1-9 1 27 2 11 1-7 1 7 1-18 2-13 1 10 1-66 1 42 2 26 1-30 1-3 1 14 2 9 1-8 1 0 1 4 2 8 1-3 1 13 1-3 2 0 1-25 1-5 1 2 1-4 2-1 1 11 1 5 1 7 1-52 2 18 1 22 1 4 2 17 1-28 1 17 1-12 2 15 1 22 1 22 2-16 1-2 1 7 1 2 1-50 2 46 1-29 1 15 2 6 1 15 1-34 1-19 1 27 2-6 1 15 1-21 1-34 1-23 2 39 1 5 1 22 2-17 1-6 1 37 2 17 1-36 1 16 1-1 1-19 2 15 1-30 1 4 1 44 2-34 1 27 1-42 1 8 2 15 1 2 1-24 1 2 2 52 0-95 2 45 1-15 1-16 2 22 1 36 1 7 2 4 1-36 1 26 1 20 1-47 2-9 1 40 1-27 1-14 2 16 1 10 1-29 1 18 2 7 1-23 1 37 1-36 1-2 2-16 1 35 1-66 1 41 2-16 1 32 1 21 1-24 2 20 1 5 1-1 2-11 1 7 1 7 1-28 2 52 1-39 1-25 1 53 1-30 2 3 1-12 1-6 1 21 2 38 1-45 1-13 1-13 1-16 2 53 1-8 1 2 2 15 1-12 1 14 1-17 2 15 1-26 1 4 1 13 2 15 1-22 1 19 1-8 2 8 1-11 1-21 1-17 2 46 1-13 1 34 1-51 2 9 1 4 1-23 1 18 1-30 2 10 1-12 1 11 1-11 2 28 1-24 1 16 1 18 2 17 1-26 1-5 2 31 0-59 2 71 1-2 1-39 2 18 1-4 1 6 1-6 2 27 1-38 1-17 1 7 2 17 1 8 1 5 2 30 1-35 1-22 1 16 1 2 2-8 1 10 1-46 1 16 1 14 2 0 1 47 1-28 2 13 1-46 1 24 1-7 2 22 1-9 1-7 1 22 1-55 2 26 1 19 1-27 1-28 2 51 1 0 1 4 1-24 2 33 1-19 1 50 1-57 2 18 1 18 1-22 1-8 2 16 1-24 1 19 2 28 1-18 1-32 1-38 1 27 1 8 2-15 1 10 2 62 1-13 1-64 1 7 1 8 1-49 2 51 1 9 1 1 2 30 1-4 1 1 1 14 1-35 2 33 1-3 1-36 2 48 1-24 1-11 1-6 2 24 1-5 1-62 1 49 1-29 2 6 1-11 1 20 1-19 2 19 1-6 1 10 2 31 1-31 1-16 1-37 1 39 2 12 1-11 1-12 1 35 2 41 0-98 2 46 1 9 1-20 2-5 1 4 1 5 1-6 2 22 1 19 1-16 1-43 2 26 1 12 1 24 2-10 1-22 1 34 1-15 1-40 2 22 1-4 1-18 1 28 2-4 1 0 1-35 1 31 2-8 1 8 1 23 1-6 1-74 2 54 1 8 1 25 1-37 2 12 1 0 1-30 2 34 1 0 1-17 1 3 2 16 1-12 1 68 1-55 2 4 1 2 1-6 1 15 1-13 2 10 1-11 1 0 2 30 1 13 1-19 1-16 2 34 1-44 1 19 1-43 1 24 2-17 1 38 1 0 1-21 2 26 1-30 1 13 2 46 1-40 1 0 1-21 1-2 2 9 1 3 1-18 1-20 1 11 2 7 1-3 1 6 1 1 2 32 1-21 1-21 1 16 2-7 1 13 1-28 1 19 1-38 2 35 1 3 1-7 2 17 1 10 1-23 1-3 2 11 1-11 1-4 1 27 2-6 1-36 1 10 1 10 1-7 2-3 1-36 1 35 1-48 2 69 1 9 1-22 1-13 2 30 1-3 1-3 2 19 1-45 1 19 1 8 1-9 2 19 1-17 1 32 1-32 2 50 1-38 1 15 2 6 0-56 2 9 1 44 1-51 2 41 1-26 1-2 1-12 2 57 1-21 1-20 1 34 2 15 1-19 1-18 1-1 2 38 1 13 1-30 1-32 2 20 0-51 2 32 1 4 1 6 2-5 1 28 1-56 1 47 2-7 1-8 1 4 2 24 0-57 2 39 1 12 1-29 1-30 2 16 1-11 1 8 2 53 1-11 1-33 1 40 1-39 2 41 1-16 1 6 1-26 2 25 1-25 1-4 1-21 2 40 1-26 1 19 2 13 1 1 1-6 1 19 1-29 2-10 1 29 1-13 1-18 2 25 1 0 1 9 1-42 2 22 1-38 1 13 1 14 2 28 1-22 1 3 1 30 2 15 1-9 1-18 1-54 1 28 2 16 1 39 1-67 2 46 1-7 1 6 1-36 1 12 2 23 1-68 1 42 1 12 2-30 1 15 1 34 1-36 2-8 1 27 1-11 1-32 1-34 2 58 1-22 1 5 2 19 1 40 1 22 1-55 1-61 2 63 1 3 1-28 1 9 2 18 1 19 1-17 2 8 1-38 1 33 1-31 1-4 2 20 1-7 1-9 1 22 2-18 1 27 1-12 1 18 2-24 1 10 1 16 1-10 2 4 1-13 1 24 1-7 2 10 1-38 1 35 1-27 1-12 2 1 1-3 1 20 2 3 1-25 1 24 1-2 1-9 2 0 1-6 1-1 1-9 2-1 1-2 1 58 1-26 2-4 1-48 1 26 1 27 2 1 1-11 1-3 1-41 1 9 2 47 1-32 1 11 2 19 1-5 1 28 1-15 1-36 2 40 1-33 1 11 2 29 1-23 1-40 1 20 1 24 2-40 1 39 1 3 1-17 2-4 1 26 1 3 1-49 2 49 1-10 1 10 1-13 2 4 1-30 1 31 1-43 2 32 1-20 1 11 1 50 1-46 2-15 1 0 1 8 1-1 2-14 1 38 1-4 1-26 2-2 1-12 1 19 1 10 2-10 1-4 1 8 1 20 2-32 1-2 1-44 1 12 1-64 1 34 2-28 1 26 1-27 1 20 2 1 1 9 1-13 2 72 1-14 1 29 1 4 2-4 1 5 1 43 1-34 1-42 2 27 1-9 1 35 2 3 1-19 1-15 1 40 2-28 1-20 1-3 1 33 2-4 1 34 1-1 1-27 2 16 1 2 1 15 1-36 1-6 2 6 1 51 1-83 2 54 1-29 1 2 1-55 1 47 2 32 1-59 1 3 1 37 2 19 1-25 1-11 1-38 2 34 1 15 1 18 1-29 2 16 1 16 1-49 1-13 1 34 2-33 1 43 1-48 1 17 2-10 1 10 1 6 1-20 2 18 1 25 1-21 1 33 2-27 1 22 1-29 1 29 2-21 1 26 1-45 1 24 2-9 1 32 1-36 1-5 1-9 2-11 1-2 1-1 1-27 1 2 2-17 1-2 1-18 2 80 1-4 1 4 1-7 2 9 1 35 1-18 1-35 2 44 1-10 1-1 1-5 2 18 1-21 1 39 1-18 2 16 1-43 1 2 1 16 1 0 2-15 1 47 1-21 1-14 2-8 1-9 1 20 1-36 2 25 1 28 1 4 1-14 2-3 1-24 1 14 1-3 2 58 1-14 1 3 1-38 2 38 1 2 1-39 1 1 1-5 2 35 1-33 1 32 1-30 2 17 1 7 1-31 1 13 2-1 1 28 1-19 2 21 1-15 1-26 1 5 1 0 2 15 1-37 1 30 1-12 2 47 1 0 1-31 1 12 1-46 2 18 1-7 1 61 2-24 1-43 1 19 1 22 1-13 2 10 1-34 1-20 2 79 1-67 1 23 1 16 1-80 2 40 1 28 1-27 1-24 1-14 2 21 1-55 1 8 1 0 2 40 1-7 1-15 1 8 1-5 2 46 1 2 1-42 2 41 1 22 1-32 1 5 2 63 1-88 1 47 1-23 2 5 1 32 1-51 1 34 2-11 1 24 1 10 1 24 2-42 1 30 1-14 1-10 2 38 1-46 1 37 1-45 1 10 2-34 1 8 1 27 1 13 2-5 1-1 1-7 2 47 1-17 1-22 1 8 1 12 2-38 1 53 1-20 1-19 2 50 1-45 1-14 1 45 2-24 1-19 1 29 1-16 1-24 2 11 1 3 1 18 1-42 2 41 1-8 1 3 1 16 2-11 1-8 1 0 1-6 2-2 1 17 1-9 1 13 2-30 1 20 1-25 1 5 1-10 2 29 1-18 1 9 2 43 1-60 1 16 1 38 2-1 1-34 1 15 1-10 1 16 2-12 1 10 1-8 1 5 2 2 1-26 1 39 1-24 1-40 2 35 1-1 1-19 2 15 1-15 1 34 1-42 1 26 2 3 1-6 1 2 1 8 2-10 1 21 1-5 1-15 2 22 1-50 1 31 1-20 2 6 1 0 1-26 1 56 2-8 1 52 1-91 1 15 1 5 2 20 1 12 1-41 1 30 2-27 1 13 1-46 1-27 2 28 1-34 1 14 1-34 1 14 2 6 1 11 1-20 1-38 1 30 2 29 1-47 1 72 2-10 1-12 1 18 1-9 2 23 1 13 1 51 1-49 2 25 1-13 1 15 1-18 2-6 1 6 1 0 1 19 2-24 1 39 1-33 1 1 2 9 1-4 1-50 1 58 2 9 1-17 1 21 1-9 2 8 1-18 1 36 1 7 1-31 2-22 1-6 1 34 1-10 2 1 1 23 1-38 1 32 2-33 1 30 1-24 1 5 2 11 1-8 1-10 1-8 1-12 2 2 1-21 1 47 1-18 2-3 1-13 1 58 1-38 2-25 1 53 1-43 1 32 2-5 1-11 1 12 1-5 1-28 2-2 1 39 1-52 2 66 1-12 1 5 1 47 1-61 2 18 1-4 1-46 1 15 2 20 1 8 1 2 1-12 1-49 2 34 1-9 1 18 2-16 1 20 1 10 1 22 1-49 2-8 1 45 1-26 2 19 1 3 1-34 1 13 1 1 2 30 1-50 1 42 1-36 2-2 1 7 1 22 1-22 2 26 1 11 1-18 1 29 2-45 1 43 1-30 1-4 1 2 2 16 1-40 1 35 1-56 2 41 1-19 1 5 1 48 2-71 1 44 1-18 1 39 2-43 1 9 1 17 1-51 2 49 1-43 1 67 1-54 2 42 1-15 1-18 1 16 2 44 1-57 1 35 1 6 1-40 2 13 1-38 1 28 1-3 2 21 1-53 1 66 1-3 2-15 1 1 1 26 1-27 2 23 1-32 1 3 1 0 1-2 2-27 1 25 1-23 1 47 2-17 1 26 1-39 1 22 2-2 1-8 1 12 1-5 2-14 1-6 1 47 1-22 2 9 1 19 1-66 1 13 2 38 1-42 1-18 1 38 1-21 2-5 1 38 1 21 1-42 2 21 1-9 1 7 1-18 2 21 1-11 1-16 1 15 1-21 2 3 1 10 1 14 1-12 2-10 1 28 1 7 1-28 2 39 1-30 1 49 1-48 2 23 1-1 1-2 1-23 2 2 1 11 1 55 1-23 2-24 1-15 1-34 1 9 1 5 2 31 1 15 1-2 1-22 2 2 1 0 1 28 1-62 2 21 1-3 1 70 1-57 2 6 1-1 1 64 1-59 2-19 1 17 1-22 1 17 1-6 2 1 1-17 1 2 2 63 1-55 1 12 1-22 1 8 2 14 1 19 1-58 1 5 2-1 1 16 1 47 1-58 2 45 1-18 1 31 1-14 2 10 1-56 1 43 1-28 1 22 2-19 1 21 1-17 1 3 2 36 1-30 1-8 1 11 2 10 1-18 1-32 1 34 2-5 1-22 1 52 1-45 2 40 1-61 1 85 1-31 1 1 2-5 1 21 1-2 1 5 2-20 1-34 1 33 1-39 2 31 1 32 1-31 1 32 1-56 2 15 1 37 1-15 1-14 2 19 1-21 1 4 1 10 2-9 1 22 1-33 1 28 2-1 1-28 1 34 1-32 2 23 1-22 1-5 1-15 1 10 2 35 1-44 1-3 1 38 2-1 1 20 1-41 1-3 2 5 1-29 1-10 1 48 2 13 1-28 1 24 1-12 1-30 2 21 1-4 1-20 1 37 2-11 1 11 1-21 1 3 2 23 1-38 1-1 1-7 2 33 1 20 1-37 1-27 2 45 1-13 1-24 1 80 2-37 1-23 1-6 1 14 1 20 2 40 1-30 1 19 1-21 2-26 1-18 1 53 1-24 2 23 1-8 1 21 1-52 2 3 1 4 1 21 1 10 2 2 1-46 1 31 1-9 1-27 2 20 1-3 1 26 1-44 2-16 1 32 1 9 1-22 2 66 1-92 1 20 1 12 2 39 1-17 1-14 1 9 1-3 2-2 1-4 1-4 1-19 2 47 1-6 1-3 1-20 2 19 1 4 1 9 1-56 2 28 1 2 1 0 1 9 1-7 2 23 1-3 1-22 1 25 2 28 1-36 1-9 1 1 2-46 1 3 1 45 1-5 2 33 1-78 1 34 1 1 2 27 1-29 1-8 1 27 1 15 2-31 1-13 1 68 1-26 2-34 1 26 1-3 1-66 2 70 1-12 1-15 1 25 2 11 1-21 1 2 1-19 1 0 2 25 1-6 1 17 1-35 2 16 1-7 1-25 1 81 2-48 1 25 1-50 1 67 2-32 1-3 1 16 1-9 1-26 2 47 1-36 1-11 1 25 2-43 1-23 1 55 1 52 2-41 1 2 1-3 1-3 2-8 1 4 1 35 1-31 2-6 1 1 1 38 1-63 1 9 2-14 1-10 1 35 1-14 2 5 1 16 1 27 1-28 2-1 1 17 1-17 1-1 2 38 1-38 1 16 1 0 1-17 2 12 1-2 1-5 1-8 2 26 1-35 1-2 1 18 2-27 1 54 1-43 1 10 2 8 1-8 1-30 1-18 1-8 2 10 1 45 1-5 1 11 2-1 1 12 1-50 1 36 2-41 1 51 1-66 1 40 2 0 1-12 1 19 1 30 1-54 2 21 1-29 1 9 1-9 2 17 1-1 1 16 1 0 2-17 1-14 1 50 1-11 2 1 1 16 1-8 1 45 2-25 1-21 1 8 1-31 1-26 2 62 1-38 1 12 1 66 2-35 1-8 1-37 1 11 2-50 1 36 1 7 1-8 2 38 1-12 1-3 1-27 1 7 2 22 1 7 1-19 1 26 2 5 1-23 1 20 1-8 2-2 1 45 1-15 1-31 2-23 1-7 1 6 1 11 1-22 2-27 1 29 1-8 1 30 2 16 1 7 1-2 1-14 2 18 1-17 1-2 1 33 2-9 1-46 1 58 1-10 1 13 2-59 1-11 1 51 1-14 2-16 1 2 1 27 1 10 2-15 1-5 1-6 1 4 2-22 1 21 1 5 1-12 1 19 2 36 1-9 1-5 1-82 2 95 1-43 1-15 1 19 2-13 1-71 1 64 1 18 2-3 1 28 1-27 1-47 1 34 2 5 1-22 1 6 1 50 2-44 1 5 1-9 1 31 2-11 1-21 1 42 1-37 2 3 1-30 1 49 1-3 1-38 2 19 1 23 1-13 1 6 2-13 1-13 1 40 1-41 2 21 1-17 1 32 1-1 2-13 1 24 1-23 1 18 1-10 2-9 1 3 1 16 1-26 2 25 1-19 1-12 1 9 2-28 1 5 1-2 1 67 2-73 1 24 1-39 1 6 1 34 2-7 1 16 1-29 1 22 2-29 1-14 1 27 1 5 2 1 1-13 1 7 1 22 2-18 1 30 1 1 1 2 1-26 2 17 1-16 1 21 1-16 2-2 1-23 1 33 1-2 2-10 1-23 1 6 1-5 2 31 1-25 1 35 1 5 1-7 2 10 1-50 1 41 1-7 2 9 1 4 1-48 1 11 2 29 1-19 1 8 1 5 1-21 2-11 1 0 1 46 1-7 2-12 1-3 1-33 1 9 2 15 1 17 1 8 1-41 2 9 1 3 1-43 1 9 1 12 2 8 1 44 1-10 1 28 2-16 1-5 1 27 1-42 2-12 1 27 1-18 1 3 2 10 1 8 1-33 1 0 1-9 2 9 1-10 1 19 1-6 2-27 1 51 1-19 1-23 2 9 1 46 1-59 1 31 2 7 1-23 1 40 1-37 1 35 2-26 1 16 1-7 1-27 2 13 1-3 1 10 1-54 2 47 1 15 1-21 1 4 2 11 1 2 1-49 1 4 1 16 2 21 1 17 1-21 1 12 2 1 1-3 1-9 1 19 2-22 1-5 1-25 1 54 1 23 2-39 1 7 1-17 1 18 2 41 1-49 1 2 1-15 2 40 1-59 1 8 1 39 2-19 1-13 1-1 1 30 1 2 2-34 1 30 1 35 1-33 2 4 1-16 1-5 0 87"/>
<path id="t9" d="M1497 2870l-1-68 2-7 1 42 1-69 1-25 2 74 1-29 1 6 1-36 2 33 1 12 2 50 0-85 2 6 1 4 1-18 2 16 1-1 1 7 2 10 1 11 1-22 1 13 2-18 0-40 2 47 2 12 1-29 1 26 1-2 2 1 1 14 2 11 1 18 1-37 2 44 1-34 1-11 1-4 1 3 2-1 0-36 2-21 1 63 1-27 2 24 1-44 1 30 2 26 1-16 1 12 1-40 2-1 1 7 2 21 1-1 1-26 1-6 2 25 1 2 1-18 1 4 2 39 1-43 1 30 1-36 2 27 1-9 1-15 2 50 1-59 2 63 1-34 1-22 1 27 1-30 2 22 1 47 1-38 2 6 1-10 1 14 2 24 1-42 1-22 1 46 1-75 2 61 1-37 1 0 2 28 1 15 2 20 1 8 1-26 1 18 1-24 2 60 2-4 0-55 2 13 1-49 1 56 1-15 2 16 1-14 1 8 2 11 1-11 1-25 1-24 2 22 1 36 1-55 1 29 2-17 1 2 1 29 2 6 1-23 1 32 1-56 2 21 1 6 1-2 2 30 1 13 1-30 1-40 2 56 1-32 2 36 1-32 1-8 1 24 1-32 2 5 1 19 1 13 2 1 1-23 1 10 1-21 2-1 1-2 1 27 1-27 2 11 1 13 1-9 2-13 1 23 1-12 2 4 1-22 1 58 2-22 1-17 1 25 1-7 2 7 1-21 1 12 2 9 1-19 1 8 1 0 2 9 1-30 2 60 0-46 2 22 1-69 1 62 1-20 2 4 1-21 1-17 2 32 1 15 1 7 2-7 1-10 1-6 1-7 1 3 2 9 1 11 2 8 1-1 1-14 1-24 1 13 2-9 1-19 1 10 1 0 2-19 1 58 1-63 2 19 1 21 1-26 2 68 1-43 1 9 2 13 1-33 1 3 1-31 1 33 2-15 1-25 1 50 2-4 1-11 2 53 1-38 1 5 1 18 2 23 1-54 1-28 1 42 2-3 1-14 1-12 1-3 2 30 1-9 1-8 2 47 1-48 1 6 1 10 2 16 1-5 1 9 2 52 1-84 1 16 1-36 1-9 2 38 1 10 1-24 2 21 1 18 1-60 2 56 1-7 1 13 1-74 2 48 1 0 1 22 2 14 0-79 2 29 1 15 2-14 1 14 1-4 2 6 1-21 1 27 1-67 2 50 1-2 1 9 1-21 2 17 1-4 1-27 1 15 2 40 1-33 2 24 1-3 1 5 1-23 2 32 1-56 1 33 1-17 2 24 1 24 2 10 0-50 2 9 1 35 1-25 2 31 1 6 1-29 2 21 1 0 1-16 2 30 1-68 1 16 1-8 1-8 2 21 1-3 1-3 1-27 2 24 1 11 1-20 2 10 1 24 1-28 1-4 2 0 1 12 2 51 1-33 1 18 2 8 0-57 2 15 1-39 1 33 1-41 2 40 1 21 1-22 2 24 1-63 1 48 1-32 2 3 1 35 2 17 1-26 1 25 2 12 1-43 1 31 1-35 1-15 2 3 1 12 1 17 2-3 1-15 1 1 1 13 2-20 1 47 1-50 1 8 2 36 1-14 1-15 2 13 1-37 2 62 0-39 2 19 1-12 1 5 2 1 1-42 2 76 1-37 1 24 1 14 1-55 2-1 1 15 1 11 2 15 0-58 2 37 1-68 1 21 2 21 1 28 2 53 1-22 1-9 1-25 1-33 2 16 1-15 2 49 1 37 1-34 2 14 1-9 1-24 1-40 1 41 1-31 2 43 1-14 2 23 1 2 1-23 1 11 2 18 1-3 1-1 1-49 2 48 1 3 1-32 2-1 1-13 1 5 2 48 1-54 1 4 1-19 1-9 2 74 1-40 1 7 1-39 2 14 1 35 1-19 2 1 1 7 1-3 2 17 1 32 1-47 2 18 1-10 1 19 1-39 2 11 1-2 1-13 2 45 1-50 1 2 1 44 2 4 1-34 1-6 1 2 2-5 1 26 1-20 1-52 1-3 2 36 1-2 2 20 1-18 1 20 1 3 2-5 1 30 1-4 2-2 1 24 1-24 1-26 2 52 1-43 1 17 2 1 1 25 1-21 2-4 1-34 1 16 1 18 1-41 2-10 1 3 1-2 2 41 1-20 1 5 1-27 2 40 1-1 1-42 1 15 2 8 1 9 1-38 2 37 1-11 1 31 1-29 2 25 1 5 2 28 1-8 1 18 2-21 1 12 1-23 1 2 2 6 0-70 2 57 1-64 2 69 1 40 1-34 1-47 1-15 2 45 1-14 1-6 2 59 1-82 1 37 2-6 1 17 1-12 2 5 1-16 1-25 1 33 2 0 1-9 1 40 1-44 2 39 1 0 1-79 2 92 1-54 1 43 1-25 2 38 1 4 1-63 1 13 2 0 1-9 1-18 1 15 2 22 2 43 1-10 1-15 1-38 1 44 2-8 1-30 1 5 1-1 2 26 1-56 1 35 2 29 1 7 1 1 2 17 1-43 1 2 1 1 1-12 2 14 1-31 1 9 2 5 1 33 1-2 1-56 2 12 1 3 1 23 1-44 2 40 1-21 1 15 2-6 1 15 1 7 1-47 2 22 1 38 1-27 2-6 1-15 1 48 1-35 2-15 1-2 1 27 2-1 1-11 1-13 1 9 2 35 1-21 1 2 1-17 2 26 1-80 1 74 2-17 1-3 1 23 1-17 2 24 1 12 1-22 2 31 1-53 1 31 2-7 1-8 1-10 1 17 2-17 1 16 1-1 2 42 1-68 1 18 1-4 1-11 2 12 1 12 2 11 1-29 1 39 1-51 1 12 2 21 1-5 1 7 2 22 1-29 1 19 2-1 1-26 1 9 1 3 2-11 1-18 1-41 1 65 2-17 1 36 1-10 2-13 1 39 1-6 1-31 2 3 1-1 1-8 2 22 1-46 1 18 1 11 2 2 1-8 1-25 1 25 2 9 1 38 1-29 2 21 1-38 1 24 1-9 2-28 1 43 1-9 1-20 2 35 1-39 1 10 2-14 1-2 1-55 1 22 2 21 1 4 1 49 1-49 2 26 1-10 1 5 2 9 1-4 1-11 2 12 1-12 1 55 1-70 1-15 2 17 1 27 1-37 2 23 1 4 1-43 1 29 2-14 1 50 1-22 2 15 1-1 1-22 2 33 1 14 1-17 1-14 1-42 2 34 1 23 2-4 1-11 1-3 1-4 2 29 1-28 1 22 2 18 1-41 1-50 1 36 1-7 2 17 1-8 1 2 2 6 1-4 1-14 2 38 1 10 1-14 1-83 2 72 1-43 1 49 1-27 2 38 1-43 1-14 2 70 1-13 1 9 2-8 1 3 1-8 1-29 2 44 1-3 1-1 2-4 1-11 1 49 1-67 2 41 1-41 1-7 1 40 2 13 1-42 1-15 2 65 1-38 1-15 1 27 1-30 2 37 1 7 2-4 1 2 1 11 1-3 2-32 1 18 1-10 1-9 1-43 2 24 1 17 1-37 1-20 2 60 1 3 2-10 1 4 1 22 1-46 2 67 1-13 1-18 1-19 2-2 1-14 1-24 2 51 1-9 1 22 1-19 2 10 1-30 1 5 2 35 1-39 1 24 1-44 1-5 2 20 1-3 1 3 2 21 1-16 1-6 2 12 1 34 1-25 1-28 2 43 1 44 1-47 2-7 1 0 1-19 1-25 2 41 1 32 1-41 1-4 2-6 1 3 1-2 1-22 2 37 1-53 1 30 2 5 1 1 1-2 2 62 1-13 1-40 1 22 2-5 1-61 1 51 2 29 1-37 1 31 2 13 1-33 1-18 1 4 2 40 1-30 1 19 1-19 2 57 1-22 1-36 1 15 2-25 1 12 1 3 1-31 2 18 1-22 1 37 2 18 1-33 1 13 1-22 2 4 1-9 1 1 1 3 2 10 1 26 1-33 2 13 1-5 1-17 1-48 2 56 1-2 1 26 2-14 1 21 1-21 1 12 2-12 1-21 1 38 2 7 1-13 1-37 1-10 2 53 1-6 1 20 1-29 2 37 1-19 1-13 2 50 1-61 1 67 2-2 1-51 1 45 1-10 2-31 1 5 1 4 1-7 2 17 1-29 1 10 2 4 1 14 1-39 1 33 2 18 1-36 1 4 2 11 1 22 1-39 1 14 2 16 1-64 1 15 1 38 2-24 1 54 1-44 2 44 1-14 1 3 1-11 2-20 1-28 1 16 1-3 2-12 1 13 1-9 1 5 2 21 1-11 1 18 2-7 1 8 1 3 2 6 1 14 1-46 1 42 2-46 1 12 1 10 1-35 2 28 1-15 1-11 2 51 1 7 1-36 1 1 2 18 1-31 1 4 2 33 1-3 1-26 1-5 1-24 2-5 1 10 2 50 1-13 1 13 1-4 2-8 1-34 1 30 1-27 2 16 1-14 1 43 1-29 2 13 1 4 1 1 2-6 1-40 1 33 1-18 2 9 1 11 1-7 1-45 2 94 1-92 1 53 1-50 2 30 1-4 1 30 2 0 1 18 1-48 2 26 1 14 1 6 1-60 2 38 1-25 1 3 1 21 2 20 1-13 1-7 2-11 1 0 1-2 2 29 1-42 1-42 1 97 1-50 2 42 1 7 1-39 2 16 1 8 1-11 1-15 2 41 1-65 1 13 2 33 1 5 1-58 1 10 2 49 1-54 1 38 1-4 2-41 1 32 1 9 2-4 1-57 1 50 1-12 2 37 1-14 1 21 2 19 1-37 1 36 1-20 2-10 1-20 1-20 1 24 2 8 1-19 1 13 2 13 1 10 1-8 2 17 1-9 1-33 1-2 1 0 2-18 1 24 1-41 1 22 2 30 1 18 1-15 2-16 1 34 1-6 2 9 1-10 1 12 2-2 1-20 1-10 1-11 2 26 1-14 1-17 1 53 2-12 1-55 1 40 1-33 2 11 1-8 1 31 2-2 1-15 1 7 1 31 2-12 1 16 1-8 2 8 1-29 1 5 1-8 2 11 1 31 1 11 1-56 2 68 1-47 1-19 2 27 1-5 1-11 1-22 2 22 1 6 1 2 1-58 2 47 1 5 1-42 2 31 1-6 1-5 2 53 1-37 1 6 1 17 2-16 1-17 1-3 1 17 2 12 1-44 1 32 1-28 2 28 1 4 1 29 1-42 2 11 1 41 1-50 2 5 1 23 1-11 1-8 2 32 1-37 1 26 2 15 1-11 1-51 1 7 1-26 2 46 1-39 1 32 2-25 1 4 1-32 1 7 2 49 1-41 2 58 1-6 1-5 1-27 1 1 2 7 1 46 1-23 2-17 1-8 1-14 1 17 1-51 2 13 1 7 1-40 1-4 1-46 2 7 1 14 1 12 2 0 1 43 2 15 1-8 1-24 1 49 2-12 1 15 2 52 1-35 1-42 1 14 2 36 1-8 1-46 1 29 1-6 2 33 1-19 1 5 2 7 1-40 1 57 1-25 2-1 1-6 1 1 2 15 1-12 1 4 2 24 1-8 1 0 1-1 2 18 1-24 1-17 1-9 2 19 1-29 1 26 2 34 1-35 1 51 1-44 2-7 1 45 1-35 1 13 2 28 1-20 1 32 1-67 2 44 1-23 1-21 2 6 1-1 1-5 1-24 2 20 1 21 1-4 2 19 1-17 1 14 1-32 2-4 1 30 1-36 2 40 1-33 1 22 1-23 2 9 1-23 1-14 1-15 2 64 1-15 1-19 1 4 2 33 1-40 1-12 1-8 2-7 1-20 1 16 1-19 2-12 1 25 1-13 2 26 1 43 1 11 2-21 1 21 1-3 1-3 2 14 1 3 1 10 1-41 2-14 1 66 1-70 2 67 1-1 1-20 1 2 2-19 1-19 1 12 2 7 1-28 1 12 1 1 2 8 1-6 1-13 1-13 2 22 1 21 1 4 2 30 1-11 1 31 2-22 0-73 2 20 1 10 1 2 2 22 1-19 1 25 2-24 1-21 1 13 1 28 2 16 1-67 1 24 2 13 1 7 1-8 1-4 2-5 1-6 1-27 2 73 1-27 1 5 1-12 2 17 1 5 1-26 1 1 2 2 1 27 1 24 1-54 2 42 1-49 1 6 2 46 1-25 1 40 1-22 2-42 1 7 1-23 2 73 1-68 1 24 1 3 2 12 1-11 1-20 1 3 2 34 1-31 1 31 1-59 2 13 1-20 1 36 1-34 2 39 1-26 1 9 1-24 2 67 1-69 1 21 2-10 1 47 1-27 2 26 1-35 1 3 1 17 2-7 1 29 1 7 2-6 1 10 1-34 1 24 1-54 2 30 1 43 2 5 1-6 1-21 1-17 2 4 1-1 1 32 1-60 2 0 1 12 1 14 1 4 2 14 1-7 1 5 1-43 2 42 1 9 1-49 2 16 1-19 1 69 1-42 2-4 1 50 1-25 2 3 1 37 1-101 1 41 2 17 1-46 1-9 2 67 1-14 1-5 1 9 2-8 1-24 1 73 1-59 2 18 1-11 1 14 2-11 1-15 1 28 1-33 2-15 1 4 1 47 1-26 2-3 1-26 1 12 2 32 1-12 1-13 1 24 2-21 1 27 1-7 2 7 1 4 1-8 1-5 2 4 1 5 1-9 1-39 2 49 1 4 1-9 2 24 1 30 1-52 1 6 2-22 1 5 1-34 1 12 2-5 1 5 1-12 1 29 2 6 1-26 1 20 2-6 1-31 1 24 1 5 2 10 1-4 1-4 1-17 2 32 1 6 1-38 1-3 2 24 1-31 1 40 2-20 1-37 1 38 1-21 2 32 1 36 1-73 2 39 1-46 1 2 1-5 2 3 1 2 1-20 1-10 2 22 1-69 1-28 1 85 1-41 2 14 1 19 2 24 1 19 1-27 1 15 2-7 1-20 1 9 2 42 1-11 1-2 1 5 2-20 1 43 1-9 1 3 2-1 1 25 1-4 2-13 1 20 1 2 1-29 2 6 1 47 1-63 2 14 1-9 1-10 1 12 2 29 1-14 1 1 2 16 1 9 1-43 1 43 1-37 2-22 1 6 1 9 1-27 2 10 1 11 1-2 2-26 1 23 1 4 2 40 1 15 1-48 1-17 2 29 1-19 1-21 1 11 2 34 1 1 1-15 1-5 2-2 1 1 1 21 2-2 1 6 1 2 1-32 2-2 1 46 1-18 1-15 2 25 1 7 1-23 2-5 1 9 1-14 1 11 2 3 1 35 1-69 2 39 1-15 1 11 1 18 2 1 1 3 1-49 1-2 2 4 1 2 1 3 2 10 1-1 1-1 1-37 2 15 1 45 1-6 1-47 2 40 1 7 1-50 2 36 1-9 1 9 1-22 2 71 1-16 1-56 1 15 2-17 1 26 1 7 1-36 2 46 1-51 1 35 2 9 1-12 1-3 1 3 2 5 1 9 1 35 2-45 1 3 1 7 1-10 2-5 1-36 1 18 2 50 1 4 1-45 1-41 1 17 2 9 1 32 1-44 2 69 1 9 1-5 1-11 2 28 1-27 1 34 2-45 1 34 1-8 2 27 1-14 1-46 1 22 2 8 1 0 1 0 1-58 2 34 1 19 1-18 1 12 2 3 1-51 1 30 1 16 2-34 1 7 1 13 2 3 1-44 1 30 1-23 2 3 1 54 1-52 1 16 2 27 1 4 1-22 2 14 1 24 1-27 1-88 2 59 1 46 1-37 1-3 2 12 1-15 1 19 2-6 1-26 1 12 1 7 2 9 1-34 1 7 1-6 2 22 1-32 1 26 1 1 2 12 1-5 1 4 2 1 1 34 1 2 1-15 2-14 1 8 1 22 2-26 1-3 1 3 1-19 2-8 1-20 1 8 1 15 2 11 1-40 1 17 1-14 2-17 1 51 1-3 2 10 1 28 1-8 1 6 2-48 1 11 1-11 1-3 2 32 1-9 1-29 2 22 1 8 1 44 1-56 2 12 1 4 1-12 1 19 2-8 1-12 1 36 2-10 1 10 1 6 1-33 2 4 1-52 1 24 1-10 2 17 1-11 1-22 1 20 2 37 1-5 1-9 2-24 1 28 1 4 1 9 2-8 1-19 1 11 2 22 1 39 1-72 1 39 2 12 1-38 1 0 1 15 2 30 1-15 1-15 2 0 1-31 1-37 1 33 2 11 1 31 1-1 1-21 2 6 1 23 1-21 2 14 1 0 1 15 1-3 2-65 1 56 1-32 1-23 2 33 1-36 1 34 1-15 2-5 1 10 1 30 2-2 1-29 1-9 1 10 2 48 1-27 1 2 2 8 1 9 1 18 1-29 2 0 1 14 1-12 1-7 2-26 1 37 1-6 1-33 2 11 1 4 1-22 2 27 1-36 1 7 1 6 2-12 1 0 1 32 1-11 2-33 1 29 1-2 1-4 2 67 1-49 1-20 2 31 1-2 1-28 1 3 2 33 1 0 1-11 1-28 2 10 1 18 1-22 2 20 1-20 1 21 1 28 2-5 1-39 1 36 2 2 1-8 1-2 1 2 2 12 1-53 1 27 1-12 2 31 1 3 1-32 1 4 2 34 1-43 1-3 2 45 1-8 1 1 1-43 2 10 1-5 1 7 1 5 2 0 1-9 1-8 1-19 2 43 1-7 1 15 2-20 1 10 1 37 1-12 2-38 1 37 1-1 2 4 1-17 1-10 1 22 2-29 1 26 1-49 1 17 2 45 1-4 1-37 2 27 1-7 1-12 1 6 2 41 1-27 1-21 1 4 2-11 1-3 1 2 1 10 2 28 1 0 1-1 2-16 1 18 1-18 1 38 2-25 1-20 1-10 1 22 2-20 1 21 1-45 2 16 1 12 1-3 1 1 2 6 1-15 1 5 1 30 2 0 1-45 1-6 2 47 1-17 1 2 1-27 2 34 1-3 1-33 1 11 2-11 1 30 1-90 2 101 1-28 1-47 1 47 2 49 1-113 1 107 1-9 2-33 1-5 1 51 1-42 2-8 1 9 1 19 2-37 1 37 1-29 1-1 2 20 1-1 1-9 1-12 2 50 1-57 1 69 2-6 1-24 1 3 1-9 2 14 1 18 1-17 1 17 2-36 1 8 1-42 1 11 2-16 1 40 1-59 2 47 1-30 1 9 1 30 2-30 1 21 1 17 2 33 1-25 1-15 1 0 2-17 1 4 1-20 1 31 2-9 1-11 1 7 1-2 2 8 1 9 1-5 2 20 1-16 1-14 1 37 2-59 1 38 1-4 1-22 2-7 1 33 1-17 1 10 2 48 1-40 1 10 2-2 1-1 1 27 1-40 2-26 1 16 1 7 1-9 2 28 1-14 1-6 2-19 1 35 1-18 1 10 2-20 1 50 1-48 1 4 2 25 1 15 1-25 2 16 1-50 1 21 1-17 2 16 1 6 1-13 1 49 2-46 1 0 1-9 1-13 2-5 1 1 1-2 2 47 1-19 1 20 1 2 2 42 1-31 1-16 1 41 2-54 1 30 1 19 2-9 1-25 1-22 1 12 2 47 1-32 1 7 1-41 2 22 1 12 1-41 2 57 1-18 1-23 1 20 2 7 1-32 1 14 1 12 2 18 1 19 1-29 1 12 2-24 1-10 1 24 2-14 1-41 1 24 1 1 2-18 1 13 1 33 1 18 2 9 1-58 1 27 1-12 2-7 1-36 1-13 2 45 1 23 1 36 1-31 2 21 1-49 1 18 1-21 2 16 1 6 1 9 2-15 1 23 1-23 1-25 2 66 1-68 1 41 1-7 2-18 1 0 1-2 1-14 2 33 1-6 1 9 2 5 1-2 1-7 1-41 2 27 1 24 1-3 1-52 2 56 1-25 1-9 2 3 1 43 1-19 1-22 2 70 1-30 1-9 1 1 2-27 1 23 1-2 2 13 1-21 1-34 1 46 2-38 1-15 1 1 1 17 2 7 1 46 1-46 1 45 2-42 1 11 1 32 2-20 1 28 1-61 1 31 2-14 1-6 1-25 1 4 2 41 1 18 1 0 1-59 2 36 1-7 1 21 2-31 1-7 1 9 1 22 2-17 1-21 1 36 1 2 2-39 1-2 1 16 2 9 1-6 1 22 1-7 2 22 1 2 1-31 1-7 2 17 1-43 1 30 1-38 2 39 1 1 1 6 2 30 1-78 1 17 1 20 2 8 1 17 1-22 1-11 2 27 1-20 1-1 1-17 2 15 1 9 1-25 2-3 1 17 1-48 1 53 2-13 1 27 1 25 1 10 2-50 1 16 1-9 2 7 1-39 1 28 1-10 2 45 1-64 1 63 1 14 2-14 1-47 1 35 1-25 2 14 1 5 1 22 2-37 1 12 1-46 1 35 2-18 1-16 1-4 1 39 2-1 1 1 1-22 1 5 2 21 1 13 1-19 2-23 1 6 1 53 1-57 2 16 1 26 1-10 1-14 2 39 1-40 1 42 2-17 1-10 1 5 1-8 2 3 1 33 1-28 1-22 2-4 1 2 1 13 1-31 2 44 1 25 1-39 2-8 1-11 1 12 1-48 2 30 1-35 1 47 1 30 2-32 1 35 1-37 2 37 1 26 1-3 1-69 2 34 1-34 1 49 1-26 2-19 1 19 1 20 1 1 2-36 1 37 1-44 2 0 1 34 1 35 1-6 2-33 1 25 1 10 1-19 2-41 1 12 1 15 1-9 2-45 1 25 1 22 2-19 1 4 1-4 1-25 2 0 1 5 1-19 1 5 0 128"/>
<path id="t10" d="M1325 3085l-1-109 2 17 1 18 1 5 2-16 1 18 2 16 0-47 2-9 1 26 1-28 2 31 1-10 2 27 1-47 1 23 1 3 2 16 1 0 2 25 1-27 1 10 1-14 2-13 1-13 1-3 1 0 2 9 1 2 2-3 1 8 1-6 2 28 1-24 2 50 0-78 2 32 1 4 2 17 1 27 1-38 2 18 1 9 1-52 1 3 2 18 1-4 1-9 2-8 1-2 2 60 1-14 1 0 2 11 1-37 1 44 1-39 1-30 2 57 1-71 1 23 2 16 1 3 2-1 1 41 1-35 2 38 1-26 1-14 1-8 2-18 1 53 1-47 2 38 1 12 2 20 1-1 1-60 1-19 2 31 1 1 2 17 1-10 1 8 2 6 1 6 1-45 1 6 1-15 2-11 1 4 1 4 2 38 1-16 2 19 1 13 1-46 2 28 1 10 1-18 2 39 1-12 1 15 2 6 1-28 0-90 2 73 2 30 1-13 1-39 1 4 2 26 1-21 1 0 1-43 2 42 2 31 1-18 1-38 1 12 2 27 1 19 1-46 2 21 1 18 1-62 2 30 1 18 1 12 1-58 1-11 2 38 1-16 2 47 1-21 2 22 1 16 2 12 0-50 2 40 1-27 1-19 2 9 1 6 1-2 2-9 1-48 2 91 1-53 1 18 1-9 2 3 1 30 2 8 1-31 1 23 2 5 1 0 1-23 1-29 2 36 1 8 2 16 0-68 2 1 1 19 2 35 1-20 1-22 1-3 1-8 2-24 1 51 1-34 2 21 1 2 1-7 2 8 1-5 2 33 1-3 1-32 1-6 2 25 1 10 1-17 1-53 2 92 2-21 0-62 2 50 1 5 2 3 1 8 2 6 1-23 1 39 1-48 1-23 2-5 1 9 1-13 1-5 2 21 1-16 2 17 1 12 1-1 2 34 1-26 1-13 2 17 1 20 1-12 2-13 1 23 1-28 2 6 1 24 1-49 2 51 1 1 1-9 2 29 1-37 1-44 2 47 1-16 1-31 1 32 2-1 1 7 1-1 2 22 1 12 2 10 1-54 1 3 1 20 2 13 1-28 2 44 1-18 1-14 1-39 2 37 0-50 2 41 1-14 2 49 1-34 1-15 2 48 1 1 2-27 1-5 1 23 2-6 1 28 1-24 1-22 2 13 1 6 1 0 2-16 1 22 1-22 1-40 2 13 1 21 2 1 1-34 1 20 1-23 2 47 1 8 2 3 1 9 1 5 1-43 2-10 1 32 1-37 2 43 1-14 1-5 2 20 1-3 1-30 1-4 2-1 1 16 2 49 1-10 1-26 2 13 1-41 1-3 2 29 0-48 2 46 1-20 2 10 1 11 1 9 2-13 1 12 1 2 2 7 1 25 2-20 0-63 2 46 1-48 1 8 2 13 1 24 1-14 2 15 1 29 1-90 2 55 1-11 1 3 2 34 1-29 1 11 2-21 1-16 1 16 1-23 2 27 1 32 1-40 2 18 2 50 1-31 0-65 3 112 1-48 1-40 1 1 1 9 2 45 1 10 1-50 2 3 1-24 1 0 2 38 1-33 1-26 1 22 2 50 1-37 1-28 2 30 1 6 2 10 1-7 2 39 0-44 2 12 1 13 1-25 1-45 2 57 2 8 1 1 1 17 2-2 1-28 1 10 2 19 1-33 1 16 1-14 2 29 1-25 1-31 2 42 1-22 1 6 1-15 2 4 1 23 1-28 2 35 1-56 1 33 2 53 1-26 2-1 1-2 1-9 1-7 2 35 1-69 1 22 1 3 2-1 1-22 1 12 2 22 1 31 1-50 1-35 2 33 1 6 2 5 1-21 1-1 1-5 2 23 1 2 2 16 1-17 1 4 1-36 2 72 1-45 2 13 1 12 1-5 1-10 2 9 1 6 1-11 2 2 1 18 2 2 1-15 1 3 1 5 2-27 1 5 1 22 2-8 1 9 1-29 2 29 1-7 1-6 1-65 2 41 1 8 1 14 2-12 1-2 1 16 2 10 1-1 1-4 2-12 1 20 2 38 1-23 1-34 1-13 2 22 1-10 1 3 2 29 1-47 1 48 1-35 2 16 1-38 1 20 2 8 1-5 1 10 2 10 1-58 1 56 2 14 1-37 1 32 2 17 1-28 1-12 2 24 1-21 1-5 1-16 2 58 1-24 2 19 1 9 1-40 1-4 2-17 1 10 1 3 2-13 1-6 1-5 1-14 2 21 1 43 1-30 2 0 1 15 1-22 2 3 1-19 1 11 2-8 1-4 2 50 1 13 1 9 2-11 0-51 2 27 1-53 1 27 2 38 1 0 2-11 1 16 1-1 2 24 1-27 1 7 2-12 1-22 1 5 2 43 1-41 1-6 1-10 2 21 1-34 1 14 2 21 1-12 1-34 1 29 2 22 1 13 2 6 1-24 1-18 2 28 1-42 1 15 1-64 1 18 2 44 2 66 1-33 1-19 1-4 2 10 1-18 1 23 1-58 2 34 1-19 1 20 2-5 1-9 2 34 1-17 1 23 1-11 2 17 1 21 2-20 1-2 1-74 1 40 2 37 1-49 1 16 2 4 1-42 1 52 2 50 1-56 1-18 1 11 2 20 1-44 1 34 2 9 1-27 1 8 2 41 1-56 2 48 1-12 1 38 1-39 1-25 2-4 1-5 1-14 2 17 1-2 1-2 2 25 1-26 1 11 2 16 1-9 1-8 2 17 1-30 1 40 2-18 1-7 1-1 2 17 1-14 2 49 1-12 1-49 1 35 2 9 1-29 2 73 1-1 1-53 1-41 1 30 2 9 1-42 1 8 2 50 1-5 1-23 2 3 1 51 1-74 1 7 1-32 2 36 1-20 2 18 1 17 2 9 1-37 1-9 1 2 2 20 1-18 1-2 2 34 1-21 1-14 1 14 2 36 1-57 1 4 2 54 1-87 1 0 2 61 1-2 1-8 2-9 1 21 1 7 2-11 1 15 1-26 1-1 2 0 1 40 2-3 1-29 1-3 2 30 1-1 1-71 1 7 2 28 1 14 2 26 1-25 1 67 1-60 2 59 1-16 1-31 2 7 1 3 1-39 2 24 1-21 1 9 1 3 2 3 1 9 1-22 1-23 2 6 1-6 2 66 1-40 1-15 2 36 1-12 1 4 2 11 1 22 2 15 1-22 1-57 1 29 2 3 1-21 1-2 1 16 1-34 2 35 1-26 2 35 1-35 1 20 2 21 1-59 1 3 1 5 1-33 2 74 2-2 1-28 1 12 1-1 2 28 1-26 2 48 1-20 1-20 1 7 2 30 1-22 1-20 2 22 1 4 2 37 1 9 1-48 1 6 1-65 2 27 1 6 1-34 2 46 1-26 1-3 2 39 1-31 1 37 2-18 1-13 1 19 2 12 1 9 1-11 2-18 1-8 1-8 2 24 1-23 1 31 1-43 2 44 1-37 1 3 2 25 1-21 1 34 2-13 1-26 1 4 1-7 2-9 1 36 1-8 2-2 1-35 1 15 2 6 1-9 1 25 2 5 1 16 1-10 1-49 2 39 1 13 2-2 1-15 1 33 2 22 1-8 1-47 1-28 2 62 1 3 2-10 1-27 1-2 1 21 2-4 1-28 1 9 1-20 2 49 2 44 1-25 1-70 1 49 2 4 1-37 1 27 1-46 2 77 1-48 1 15 2 3 1 33 1-22 2-7 1-8 1-9 1-15 2 18 1-34 2 45 1 7 1 11 2-22 1-9 1 25 1-55 1-29 2 31 1 40 2-33 1-17 1 47 2-10 1-20 1 0 2 34 1-20 1 9 1-42 1-20 2 53 1-13 2-13 1 24 1 6 2 41 1-31 1 0 2 3 1-9 1 15 2-16 1-7 1 11 2 48 1-29 1 0 2-4 1 11 1-32 1-1 2 12 1 10 1-43 2 18 1 10 1-9 1-14 2 4 1 26 1-21 2 11 1 6 2 23 1-34 1 34 1-38 2 21 1-9 1-22 2 10 1-10 2 47 1-43 1 41 1 8 1-60 2 21 1 30 1-36 2 46 1-9 1-31 2-31 1 30 1-1 2-14 1 25 2 20 1-33 1 8 1-13 2 45 1-7 1-14 2 11 1-30 1 32 2-13 1 4 1-27 2 56 1-45 1 27 1-32 2 18 1 17 1-41 2 52 1-70 1 56 1-42 2 59 1-41 2 15 1 7 1-30 1-8 2-5 1 24 2 23 1-11 1-54 1 34 2 5 1-11 1 10 1-28 2 61 1-42 2 37 1-20 1-16 1-7 2-17 1 65 2-6 0-86 2 48 1-6 2 36 1-5 1-9 2 23 1-29 1 12 2 1 1-31 1 14 1 5 2-23 1 5 1 9 2 11 1-32 1 1 2 30 1 19 1-21 2 14 1-6 1 26 1-41 2-7 1 43 1-28 2 22 1-43 1 15 2-5 1 17 1-14 1-31 2 56 1-6 2 23 1-35 1-3 1-19 2 2 1 10 1-40 2 46 1-34 2 58 1 28 1-14 1-61 2 53 1-3 1-7 2 1 1-40 1 49 1-45 2 36 1 3 1-53 2-17 1 22 1 5 2 34 1-6 2 39 1-3 1-55 1 26 2 9 1-13 1-5 2-11 1 34 1-21 2 25 1-13 1 3 1-30 2 44 1-59 1 41 1-57 2 50 1 13 2-5 1-4 1-19 2 24 1-2 1-20 2 23 1-39 1 18 1-49 2 17 1 20 1-5 2 21 1-4 1-3 1-22 2 25 1-57 1 19 2 11 1 6 1 1 2 23 1-18 2 85 1-44 1-10 2 17 1-27 1 16 1-20 2 9 1 9 1-1 2 20 1-32 1 6 1-41 2 18 1-18 1 12 2 10 1 33 1-39 2-9 1 10 1 13 2 12 1-42 1 39 1-47 2 4 1 27 1-16 2-14 1 76 1-75 2 37 1-10 1 24 2-12 1-23 2 70 1-26 1-10 1-2 2 22 1-50 1 49 2-26 1-19 1 4 1 2 2-1 1 32 1-9 2-14 1-18 1-4 2 24 1 3 1-9 2 28 1-28 1-17 2 37 1 3 1-24 1-4 2 9 1-2 1 2 1-37 2 30 1 5 1-29 2 39 1-12 2-4 1-3 1 24 1-44 2 45 1-13 1-10 2-4 1-34 1 12 1-45 2-9 1 87 1-27 2-4 1 70 1-77 2 21 1 15 1-1 2-3 1 16 1-42 2 65 1-77 1 62 2-46 1 38 1 10 2-3 1-2 1-19 2 20 1-15 1 16 1-44 2 17 1 38 1-31 2-28 1 21 1 29 2-45 1 17 1-10 1-20 2-30 1 19 1 18 2-25 1-14 1 32 1-45 2 22 1-53 1-8 2 57 1 38 2 14 1-24 1 4 1-2 2-26 1 21 1-4 2-8 1 28 1-20 2 11 1 23 1-6 2 6 1-20 1 40 1-47 2 46 1-25 2 17 1 2 1-22 1 13 2-10 1-3 2 61 1-31 1-43 2 71 1-63 1 16 1-7 1-12 2 42 1-9 2-4 1 26 1 5 2-9 1-1 1-23 1 14 2 7 1-8 1-27 2 6 1-18 1-12 2 66 1-72 1 58 2-17 1-6 1 11 1-34 2 50 1-50 1 44 2-13 1 0 1 6 2-9 1-33 1 57 1-42 2 34 1-60 1-19 2 24 1 25 1-29 2 33 1 15 1-21 2 20 1 5 1 1 2-6 1-16 1 42 2-30 1-63 1 36 1-5 2-25 1-17 1 43 2 6 1-19 1-13 1-12 2 76 1-1 1-32 2 38 1-30 1-52 2 96 1-39 1-27 2 27 1-63 1 90 2-37 1 0 1 23 2-8 1 28 1-32 1-16 2-9 1 16 1 21 2-38 1 36 1-42 2 4 1 39 1 9 2-24 1 26 1-48 2 32 1 5 1-36 1 7 2 5 1 17 1-31 2-18 1 31 1-4 2-2 1 50 1-58 2 28 1 27 1-14 1-28 2 48 1-17 1-28 2 3 1 52 1-64 2 31 1-18 1-4 2 44 1 8 1-29 2-4 1 33 1-23 2 1 1 11 1-23 1-11 2 49 1-34 2 61 1-26 1-18 2 27 1-9 1-25 1-18 2 52 1-35 1-12 2 31 1 15 1-4 1-37 2 33 1-19 1-24 2 18 1 18 1-41 1-13 2-11 1-18 1 38 2-40 1 25 1-47 2 37 1-11 1 16 2 14 1-11 1 25 2 3 1 4 1-40 2 37 1-11 1-12 2 49 1-32 1 16 1-31 2-16 1 11 1 10 2 30 1-16 2 58 1-63 1 17 1-34 2 27 1-7 1-6 1-19 2 49 1-4 1 1 2-5 1-29 1 21 2 10 1 26 1-31 2 13 1-37 1 14 2 29 1 8 1-51 2 34 1-5 1-32 1 19 2 32 1-5 1-34 2 48 1-23 1 19 2-9 1 54 1-26 1-73 2 55 1-34 1 15 2-10 1-35 1 33 2 28 1-17 1-16 2 28 1-3 1-16 2 15 1-3 1-4 1-27 2 39 1 12 1-41 2-9 1-2 1 19 2-7 1-5 1 10 2 14 1 8 1 7 1-24 2-5 1-1 1-25 2 37 1 7 1 3 2 6 1-12 1-12 2 12 1 16 1-78 2 46 1 9 1-35 2 88 1-63 1-17 1-4 2 23 1-23 1 24 2-3 1 23 1 0 1-31 2-23 1 20 1 14 2 13 1 10 1-7 2-15 1 10 1-28 2 46 1-9 1-2 2-17 1 12 1-6 1-40 2-9 1 3 1-18 2 9 1-12 1 26 1-8 2 21 1-13 1-53 2 21 1 2 1-1 1-19 2 9 1-20 1-26 2 31 1 37 1-4 2 26 1 23 2-15 1 60 1-78 2 47 1 5 1-39 1-20 2 32 1-52 1 43 1-81 2 73 1 20 2 18 1 7 1 7 2-8 1 4 1 24 1-57 2 26 1-4 1 9 2-28 1 39 1-8 2 20 1-71 1 68 2 1 1-3 1-22 2 24 1-41 1 23 1-33 2 42 1 3 1 4 2-59 1 45 1-23 2 8 1-19 1 44 1-41 2 11 1 9 1-42 2 11 1-23 2 90 1-41 1 5 1-3 2-21 1 8 1 30 2-18 1 47 1-44 2 10 1-20 1-8 1 34 2-1 1-26 1-8 2-13 1-6 1 21 2 45 1-27 1 27 1-64 2 11 1 6 1 34 2-29 1-13 1 15 2-16 1 30 1-3 1-39 2 27 1 14 1-5 2 16 1-5 1-32 2 38 1-11 1-25 2 37 1-28 1-7 1-26 2 37 1 18 1-19 2-24 1 14 1 29 2-2 1-3 1 2 2 18 1-79 1 51 2-7 1-23 1 52 1-47 2 54 1-18 1-3 2-8 1-37 1 19 2 12 1-17 1 52 2 3 1-10 1 14 2-23 1-6 1-19 1 8 2-5 1 41 1-18 2-13 1-24 1 17 2 18 1-22 1 29 2-8 1 10 1-2 1-22 2-36 1 16 1 47 2 4 1-21 1 11 2-26 1-15 1 4 1-1 2 7 1-2 1-44 2 27 1 12 1 25 2-36 1 20 1-18 2 40 1 16 1-45 2 37 1-52 1 18 1-22 2 15 1-27 1 18 2 16 1 31 1 1 2-18 1-9 1 27 1-51 2 10 1 3 2 28 1-12 1-13 1-5 2 40 1-4 1 0 2 3 1 5 1-21 2-7 1 6 1 8 1-20 2 24 1 11 1-22 2-17 1 0 1 61 2-77 1 18 1 5 1-14 2 26 1 28 2-15 1-35 1 29 1 15 2-31 1 17 1-39 2 18 1 5 1-11 1-35 2 38 1 16 1-29 2 29 1-43 1 56 2-23 1-13 1 21 1-53 2 23 1 24 2-14 1 20 1-30 1-47 2 95 1-39 1 20 2-5 1 26 1-23 2 21 1-55 1 76 1-79 2 22 1 33 1-66 2 48 1 6 1-37 2 56 1-7 1 3 2 2 1-36 1 2 2 14 1 17 1-9 1-18 2 14 1-49 1 53 2-20 1 31 1-43 2 8 1-10 1-12 1 7 2 6 1 4 1-18 2 50 1-28 1-52 2 69 1-11 1-16 2-4 1 45 1-44 1-27 2 6 1 28 1 6 2-11 1 28 1-24 2 4 1 9 1 4 2-25 1 69 1-52 2 30 1 1 1-34 1 17 2-13 1 3 1 18 2-17 1-12 1-12 2 17 1 30 1-32 2 16 1-9 1-11 1-2 2 46 1-31 1-6 2 16 1 67 1-43 2-47 1 15 1 27 2 23 1-36 1-29 1 3 2-19 1 25 1-13 2 25 1 32 1-52 2 17 1 9 1-36 1 3 2 2 1-10 1 38 2-9 1-7 1 1 2 27 1-21 1-7 2 43 1-25 1 28 1-78 2 50 1-32 1 40 2-23 1-3 1-3 2-9 1 24 1-2 2-5 1-23 1 17 2 40 1-16 1 19 1-60 2 39 1-26 1 25 2-22 1 25 1-42 2-5 1 50 1 8 1-38 2 46 1-35 1 1 2 6 1 23 1-44 2-3 1 27 1-42 2 43 1 18 1-43 2 36 1-19 1-6 1 5 2-28 1 13 1-6 2 30 1-51 1 36 1-46 2 56 1-2 1-35 2 24 1-12 1 2 2 1 1-16 1 3 2-21 1 52 1-30 1-4 2 23 1-1 1 22 2 8 1 5 1-36 2-12 1-3 1 36 2 2 1 45 1-37 1-60 2 27 1 47 1-14 2 3 1-13 1-10 2 11 1-75 1 80 2 2 1-2 1 34 2-9 1-10 1-18 1-9 2 10 1-15 1-30 2 76 1-40 1 15 2-41 1 35 1-17 2 24 1-37 1 18 1-27 2 52 1 31 1-47 2-19 1 3 1 30 2-42 1 25 1 13 1-23 2 28 1-2 1-4 2-16 1 6 1-14 2 2 1 8 1 7 2 27 1-10 1-7 1-8 2-27 1 15 1-46 2 50 1 20 1-11 2-27 1 3 1 25 2-22 1 41 1-43 1 12 2-13 1 25 1-4 2-3 1 22 1-15 2-48 1 49 1 21 1-64 2 53 1-3 1-40 2 28 1-7 1-14 2 26 1-49 1 11 2 17 1-50 1 67 2 16 1-44 1 44 1-26 2 14 1 19 1-18 2-33 1-13 1 34 1-35 2 21 1-8 1 34 2-39 1 48 1 15 2-61 1 10 1-17 2 41 1-5 1 13 1-29 2 36 1-14 1 6 2-32 1 16 1-16 2 18 1 14 1-21 2-3 1 7 1-39 2 50 1 18 1-58 1 13 2-17 1 25 1 27 2-3 1 30 1-40 2 33 1-24 1 2 1 2 2-14 1-1 1-18 2 6 1 11 1-43 2 20 1 5 1 18 1-19 2-2 1 36 1-41 2 7 1 28 1 39 2-20 1-27 1-8 2-9 1 34 1-27 2 27 1-32 1-27 1 38 2-55 1 28 1 9 2-22 1 22 1-1 2 12 1-6 1-16 1 43 2-8 1-5 1 2 2-6 1 17 1 5 2-15 1-40 1 10 2 22 1-31 1 20 1-8 2-5 1 20 1 0 2-26 1 22 1 2 2-12 1 11 1-17 1 0 2 42 1-32 1 31 2-17 1 0 1-32 2 2 1 26 1-21 1-7 2 54 1 1 1-9 2-4 1-14 1 20 2-31 1 52 1-32 2-34 1 36 1-1 1-8 2 31 1-58 1 27 2-14 1-31 1 54 2-20 1 28 1-11 2 6 1 18 1-17 1-6 2 2 1 9 1-13 2 49 1-26 1-30 2 11 1 5 1 0 1-16 2 16 1-30 1-6 2 37 1-27 1 23 2-18 1 7 1-1 2 2 1-27 1-5 1 32 2-19 1 15 1-11 2 11 1 4 1-9 2-24 1 40 1-73 2 76 1-17 1 2 1 27 2-17 1-1 1 6 2-27 1 2 1-33 2 41 1-17 1 3 1-16 2-20 1 28 1 37 2-17 1 44 1-22 2-21 1 14 1-40 2 41 1 12 1 25 1-54 2 24 1 5 1 7 2-41 1 57 1 23 2-79 1 52 1-13 1-41 2 14 1 37 1-18 2 39 1-58 1-3 2-11 1 33 1 48 2 3 1-29 1-55 1-9 2 68 1-47 1 11 2-11 1-4 1-11 2 17 1-17 1 13 1-17 2 53 1-18 1-14 2 18 1-64 1 29 2-17 1 57 1-48 2 14 1 22 1 2 1 5 2-20 1-21 1-23 2 33 1-28 1 39 2-47 1 62 1-45 1 13 2-4 1 17 1 13 2 1 1-19 1 10 2 2 1 4 1 15 2 13 1-46 1-8 1 18 2-5 1 18 1-27 2 24 1-17 1 31 2-22 1-3 1 12 1-9 2-23 1 2 1 3 2-4 1 34 1-14 2-2 1 38 1-58 1 23 2-6 1-1 1 5 2 18 1-13 1-13 2 35 1-91 1 33 2 8 1 15 1-15 1-5 2 29 1-12 1 6 2 7 1 2 1 13 2 15 1-7 1-19 1-21 2 51 1-9 1-18 2 38 1-60 1 32 2-11 1 9 1-2 2-1 1 20 1-5 1 37 2-42 1 1 1 11 2 0 1-15 1 20 2-49 1-20 1 45 1-48 2 28 1 11 1-7 2 7 1-41 1 3 2 51 1 8 1-67 0 123"/>
<path id="t11" d="M1143 3313l0-73 1 10 1-12 2 47 1-53 2 47 1-52 1-1 1-19 2 0 1-7 1 20 2 4 1 5 2 10 0-65 3 82 0-46 2 36 1-41 2 7 1 31 1-40 2 30 1 0 1-47 2 71 1-10 2 0 2 45 0-66 2 38 0-89 2 7 2 58 1-41 2 35 1-19 1 32 2-9 1-27 1 24 2 3 1-9 1-24 2 21 1-19 2 44 1-11 1 6 1-25 2 21 1-7 1-46 2 72 1-31 2 1 1 23 1-33 1-23 2-11 1 17 2 25 1-12 1 4 2-12 1-4 1-20 2 25 1 29 2 29 1-11 2 22 1-21 1-47 2 64 1-2 2-6 1 16 2 23 0-76 2 32 1-26 1-9 1-30 2 38 2 9 1-24 1 0 1-18 2 39 2 19 1-25 1 21 1-32 2 13 1-22 2 54 0-79 2 54 2 13 1-10 1-8 2-6 1-14 1-1 1 5 2 23 1-6 1-30 2 1 1-4 1-6 2 38 1-38 2 13 1 49 1-96 2 81 1-3 2-5 1 16 1-48 2 14 1 22 2-1 0-56 2 56 2 1 1-18 1-22 1-5 1-30 2 82 2-4 1-25 1 0 1-45 2 69 1-30 2 7 1 26 1-23 2-22 1 41 1-51 2 43 2 33 0-65 2 17 2 26 1 16 1-14 2 37 1-34 2 27 1 17 1-62 1-27 2 19 1 8 1-11 1-30 2 26 1-30 1 6 2 24 1 14 2-24 1 29 2-4 1 3 1-34 2 43 1-49 1 30 2 11 1-32 1 4 2 29 1-44 1 6 2 12 1 16 1-42 2 36 2 38 1-30 1 4 1-19 1-3 1-43 2 18 1 11 2 11 1-3 2 24 1 27 1-41 2-17 1-26 2 59 1 6 1-4 1-30 2 15 1 21 2-23 1 23 1-50 1 10 2 41 2 4 1-48 1 56 2-26 1 14 1-27 1-9 2 1 1 12 2-3 1 17 2 13 1-9 1-8 1-20 2 24 1 19 2-11 1 2 1 9 2-33 1-8 1 20 2 16 1-10 1-21 2 3 1-11 1-3 2 30 1-42 1 27 2 35 2 10 0-52 2-8 1 11 2-2 1-10 1-28 1 26 2 11 1-34 2 52 1 6 1-13 2-2 1 22 1-32 2 7 1-13 2 6 1 51 1-43 2 51 1-52 1-4 2 28 1-17 2 9 1-29 2 50 1-32 1-32 1-18 2 78 1-51 1 31 2-6 1-23 1 12 2-13 1 25 1-12 2-20 1 18 2 6 0-40 2 5 2 35 1 3 1 4 1-46 2 27 1 11 1-35 2 15 1 16 2 20 1 6 1-27 2 50 2-3 1 15 1-8 2 18 1 3 1-30 2 55 1-45 1-22 2 1 1-34 2 52 0-59 2 15 1-20 2 14 1-8 1 33 2 3 1-39 2 38 1 8 1-58 1 20 2 10 1-10 1 7 2 1 1 1 2-5 1-8 1-23 2 32 1 1 1-5 2-12 1-7 1 3 2 2 1 34 2-5 1-15 1 23 1-31 2 16 1 10 2 21 1-4 1-12 2-24 1 26 2 24 1-12 1-11 2 9 1-25 1 12 2-15 1 8 1-24 2 8 1 21 2 67 1-55 1 13 1-37 2 37 1-1 2 5 1-29 1-13 2 26 1-22 2 30 1-7 1-5 2 3 1-3 1-5 2 6 1-3 1 8 1-25 2 35 1-11 1-29 2 27 1-14 1-54 2 11 1 52 1-56 2 60 1-40 2 50 1-65 2 40 1-13 1-21 2 30 1-23 1 25 2 27 1 21 1-84 2 17 1 21 1-50 1 9 2 39 1 0 2-13 1-12 2 25 1 11 1-33 1-30 2 70 1-35 1-3 2-10 1 4 2 31 1 9 2 19 1-22 1 12 1-44 2 46 1-18 1-39 2 30 1-20 2 9 1-1 1 1 2 5 1 39 1-35 2 10 1 21 2 19 1-49 1-27 1 13 2 35 1-23 1-27 2 27 1 4 2 30 1-14 1-72 2 55 1-12 1 7 2-11 1-15 2 59 1 8 1-13 2-30 1 18 1-9 2-9 1 38 1-24 2 10 1-31 1 15 2 36 1-65 1 4 2 24 1-38 2 59 1-33 1-27 1-6 2 37 1 21 1-48 2 43 2 17 1-5 1 19 2-1 1-6 1-11 1-29 2-18 1 20 2 3 1-13 1 17 2 50 1 4 2-13 1-28 2 63 1-61 1-19 1-3 2 36 1-23 1 11 2-7 1-16 1-10 2 39 1-5 1-15 2 8 2 43 1-34 1-15 1-36 2 37 1-11 1 18 2-15 1 34 1-50 2 31 1-13 2 27 1-14 1 10 1-32 1-37 2 58 1-17 2 23 1-40 2 46 1-6 1-21 1-7 2 17 1 4 2-5 1-30 1 3 2 6 1-8 1 7 2 50 1-28 1-35 2 63 1-25 2 53 1-26 1-11 2-23 1 4 1-15 2-1 1 15 1-37 2 33 1 0 2 24 1-11 1-9 1-16 2-13 1 27 1-13 2-29 1 49 2-17 1-10 1 30 2-13 1-18 1 24 2-19 1-13 1 17 2 12 1 17 2 11 1-31 1-21 1-29 2 17 1 28 2 18 1 2 1-24 2 7 1-7 1 13 2 22 1-5 1-30 2 31 1-78 1 29 2-19 1 2 1 6 1-21 2 61 2-14 1 21 2 8 1 7 1-8 1-20 2-6 1 10 2 6 1-29 1 56 2-30 1-11 2 36 1-24 1 10 1-25 2-4 1 30 2 22 1-34 1-22 1 20 2-2 1-16 1 12 2 54 1-40 2-2 1-28 1 40 2-27 1 17 2 29 1-31 1-30 2 44 1-47 1 31 2 15 1-57 1 40 2 7 1 4 1-68 2 46 1 8 1-8 1-56 2 43 2 42 1-23 1-2 2 18 1 2 1-29 2 35 1 29 1-16 2-17 1 10 2 13 1-39 1-30 1-11 2 36 1-15 1 9 2 27 1 4 2-5 1 29 1-17 2-1 1-45 1 9 2 8 1-8 1-12 2 37 1-34 1 26 2-15 1 23 2 11 1-41 1 50 2-33 1 8 1 8 1-29 2 0 1 34 1-49 2 58 1-64 2 61 1-22 1-12 2-23 1 55 1-24 2-29 2 74 0-51 2 55 1-52 2 8 1-31 1 42 2-13 1-19 1-17 2 24 1-10 2 41 1-30 1 6 2 39 1-71 1 33 1-48 2 63 1-36 2 12 1 14 1-13 2-2 1 31 2-1 0-58 2 34 1-12 2 40 1-27 2 43 1-23 1-24 1-5 2-7 1-2 2 32 1-20 1 22 2-3 1 20 1-44 1-18 2 45 1-43 1-17 2 8 1 2 2 5 1-3 1 14 2 17 2 40 0-51 2 47 1-7 2-36 1 25 2 5 1 15 1-9 2 11 1-51 1 3 1 0 2-13 1 4 2 21 1-8 1-28 1 6 2 28 1-8 2 26 1-1 1-14 2-15 1 32 2 10 1-29 1-27 2 39 1-52 1 56 2-14 1 14 1-13 1-45 2 56 1-17 1-26 2-4 1-20 1 26 2 9 1-1 2 4 1-5 1-21 1-18 2 1 1 36 2 30 1-50 2 43 1 14 1-45 2 28 1 12 2 22 1-23 1-18 1-9 2-10 1 23 2 13 1-28 1 0 2 19 1-24 1 35 2 16 1-30 1-12 2 3 1-12 1 17 2 24 1-12 1 2 2-29 1-6 1 24 2 25 1-39 2 27 1-12 1-44 1 19 2 42 1-15 1-23 2 41 1-39 2 11 1 26 1-73 2 57 1-4 1 5 2-2 1 6 1-15 2-8 1-12 1 5 2 8 1 41 2-3 1 16 2 21 1 9 1-30 1-42 2-14 1 36 2 9 0-66 2 18 1-10 2 7 1 5 2 44 1-53 1 16 2 4 1-47 1-3 2 96 1-66 1 28 2-2 1 40 2-8 1-44 1 10 2 18 1-38 1-41 2 63 1 28 1-50 2 40 1-6 1-43 1-5 2 16 1 7 2 1 1 4 2 34 1-30 1 3 2 16 1-1 1-68 1 32 2 50 1-26 2 3 1 8 1 5 2 2 1-62 2 74 1-21 1-25 1 2 2 5 1 2 1 14 2-31 1 10 2 28 1-22 1 11 2-7 1 19 1-9 2-7 1-52 1 24 2 38 1-25 1 17 2-12 1-12 1-8 2 19 1 9 1-1 2 34 1-44 2 40 1-27 1-30 2 36 1-43 1 30 2 1 1-9 1 37 2-17 1-11 1 16 2-43 1-46 1 51 2 36 1-24 1 1 2-13 1 16 1-7 2 20 1 6 2 1 1-13 1 17 1-41 2 2 1 34 2-29 1-4 1-23 2 21 1 59 1-57 2 2 1 34 1-30 2 38 1 13 1-55 2 23 1 8 2 0 1 23 1-52 2 2 1 41 1-17 2 7 1-19 2 74 1-81 1 43 2-1 1-70 1 37 1-16 2 8 1 30 2-26 1 30 2 11 1-24 1 14 1-67 2 55 1 10 2-1 1-29 1 12 2 13 1-27 1 9 1-6 2 35 1-26 2-10 1 15 1-13 2 37 1-20 2 25 1-8 1 37 1-85 1-17 2 63 1-49 2 10 1 18 1-51 2 13 1-19 1 38 2 1 1 18 2 5 1 5 1 10 2-35 1 35 2 23 1-4 1-70 1 34 2-8 1-7 1 15 2 2 1-10 2 11 1-21 1 31 2-24 1 15 1-3 2 62 1-87 2 64 1-18 1-20 2 31 1-19 1-16 1 3 2 27 1-45 2 21 1-40 1 54 1-44 2-1 1 4 1-30 2-5 1 47 1-53 2 54 2 37 1-39 1 15 2 14 1-39 1 8 2 48 1-47 1-19 1 28 2-19 1 23 2-9 1-29 1 14 2 11 1-20 1 26 2-4 1 23 1-8 2 5 1 3 2 10 1 28 1-37 2-2 1-24 1 25 1-27 2-34 2 106 1-16 1-19 1-3 1-48 2 40 1-17 2 34 1 2 1-31 2-7 1-20 2 57 1-26 1 5 2 19 1-24 1 11 2-13 1 1 1 12 2-22 1 11 1 10 2-2 1 18 2 12 1-35 1 7 1 5 2 13 1-52 1 11 2 9 1-21 2 26 1-34 1 8 2 15 1-28 1 21 2 21 1 30 1-58 1-20 2 33 1 26 2 7 1 31 1-44 2 7 1-24 1-17 2 19 1-11 1-1 2-7 1 3 2 24 1-35 1 48 1-43 2 2 1 16 2-16 1-18 1-4 1 6 2 28 1-58 1-9 2-6 1 8 1-11 2-2 1 42 1-24 2 77 1-63 2 22 1 22 1-26 2 34 1-18 2 6 1 11 1-29 2 25 1-20 1 26 2 20 1-67 1 29 2 26 1-19 1-8 2 61 1-17 2 0 1 11 1-63 1-7 2 30 1-36 2 24 1-1 1-21 1-21 2 60 1 3 2-14 1 24 2 18 1-8 1 6 2 13 1-25 1 29 2-5 1-3 1-28 2 23 1-53 1 42 2-29 1 0 1-32 1 8 2 7 1 29 2-34 1-4 1 46 2-36 1 22 1-35 2 25 1 8 2 3 1-27 1 45 2-22 1-52 1 32 2 41 1 0 1-11 2-31 1 13 1 28 2 1 1-19 1-27 2-7 1 4 1 12 2-15 1-9 1 24 2-39 1 13 1 15 1-48 2-4 1-3 2 27 1 3 1 20 2 6 1 1 2 47 1-18 1 1 2-43 1 34 1-13 2 22 1-22 1-3 2 6 1-23 2 53 1-32 1-85 1 86 2 5 1-10 2 1 1-6 1-13 2 33 1-5 1-22 2 45 1-16 1 14 1-62 2 62 1-65 2 47 1-20 2 51 1 1 1-14 2 11 1 5 1-43 2 17 1-50 1 15 2 20 1-20 1 18 2 6 1-36 1 47 2-26 1 7 1 4 2 23 1 37 1-60 2 23 1-17 1 3 2-44 1 39 1-27 2 14 1-25 2 38 1-29 1 30 2 12 1-25 1 26 2-35 1-4 1 34 2-12 1 11 1 7 2 7 1-59 2 51 1-4 1 8 2 16 1-24 1 31 2-46 1 13 1 0 2 26 1-21 1 24 1-66 2 57 1-21 2-19 1-11 1-6 2 9 1 0 1 36 2-60 1 8 1 19 2 10 1-9 1 0 2 28 1-3 2-10 1-39 1 53 1-42 2 38 1 25 2 8 1-4 1-61 2 46 1-14 1 7 2-6 1 21 2-16 1-4 1-15 2 18 1-29 1 36 2 3 1-29 1-26 1-19 2 69 1 6 2-32 1 35 1-69 2 71 1 0 1-19 2 20 1-22 2 40 1-71 1 51 2-11 1 4 1-13 2 40 1-14 1-34 1-22 2 42 1-9 2-20 1 32 1-31 2 34 1 18 1-47 2 24 1-45 1 12 2 24 1-18 1 12 2-3 1-3 1-16 2 43 1-21 1-53 2 19 1 26 2 8 1 3 1 10 2 7 1-8 1-10 2-12 1-5 1-35 2 16 1 16 1-2 2 10 1 11 2 25 1-63 1 40 1-25 2-24 1 43 1-44 2 59 1-19 2 68 1-34 1-10 2 14 1-16 1 5 2-2 1-19 1-32 2 14 1-3 1 27 2-51 1-4 1 33 2 21 1-34 1 14 2 61 1-17 2-30 1 37 1-8 2 11 1-28 1-19 1-36 2 48 1 20 1-61 2 50 1-11 2 0 1-2 1-16 2 5 1 6 1-16 2-43 1 52 1-50 2 21 1 13 1-9 2-13 1-20 1 42 2-14 1-24 1 14 2-28 1 35 1-13 2 38 1 3 2 30 1-3 1-8 2 34 1-13 1-56 2 52 1-69 1 52 2 44 1-73 2 35 1 6 1-34 1-22 2 19 1 8 2-5 1 7 1 26 2-19 1 27 1-19 1-46 2 21 1 36 2 14 1-53 1-6 2 35 1 2 2 16 1-8 1 14 2 3 1-9 1 20 2-19 1 16 1-21 2 5 1 39 1-32 2-30 1 23 1-8 2 19 1-36 1 31 2-50 1 15 1-1 2-5 1 14 1 5 2 5 1 9 1-32 2-15 1 24 2 7 1-1 1-10 2 18 1 11 1-27 2 43 1-8 1 2 2 6 1 20 1-46 2 4 1 30 1-25 2-18 1-37 1 46 2-10 1 3 1-3 2 5 1-3 1-13 2-1 1-13 2 23 1 9 1-23 2 16 1-27 1 20 2-24 1 46 1 4 2-37 1 43 1-11 2-31 1 7 1-21 2 19 1 44 1-19 2 9 1-12 1-34 2 22 1 6 2-10 1 25 1 17 2-51 1 75 1-49 2-6 1-32 1 39 2-46 1 63 1-36 2 8 1 14 1 14 2-39 1 21 1 8 2-6 1 1 2 18 1-46 1 22 1-54 2 33 1 17 2-10 1-30 1 54 2 9 1-43 1-1 2 13 1 0 1-15 2 33 1-8 1 7 2 13 1-34 1 18 2-14 1 15 2 35 1-73 1 45 1-15 2-21 1 14 2 40 1-59 1 28 2 14 1-16 1-57 2 82 1 29 1-58 2 18 1 25 1-30 2-38 1 33 1-13 2-22 1 37 1 11 2-43 1-11 1 20 2 29 1-35 2 42 1-29 1-6 1 0 2-14 1-6 2 39 1-11 1 34 2-11 1-2 1-9 2-12 1 5 1 5 2-39 1 22 1 11 2-29 1 8 1 9 2 5 1-23 1 11 2 11 1 3 1-11 2 11 1 0 1-10 2 41 1-69 1 32 2 13 1 4 2 3 1-15 1 7 2-19 1-10 1-21 2 9 1 14 1 1 2 41 1-19 1-24 2 23 1-2 1-18 2 22 1 15 1-3 2-12 1-13 2 37 1-8 1-27 2 33 1 5 1-39 1-18 2 48 1 6 2-30 1 27 1-13 2 5 1 0 1-81 2 105 1-19 1-20 2 12 1-26 1 46 2-21 1-22 1 14 2 3 1-9 1 0 2-7 1 9 2 37 1-33 1-37 1 15 2-3 1 0 1-6 2 46 1-28 2 39 1-10 1 19 2 11 1-50 1-6 2 16 1-12 1-17 2 32 1-39 1 34 2 5 1-45 1-21 2 52 1-10 2 23 1-9 1 13 1-29 2 45 1-26 2 16 1 29 1-34 2-34 1-8 1 61 2-51 1-10 1 7 2 34 1 6 1-55 2 23 1-15 1 25 2 42 1-40 1-17 2-2 1 17 1-7 2 28 1 11 2 1 1-4 1-12 2 22 1-19 1-15 2 10 1-32 1 31 2-12 1-3 1 20 2-6 1 20 1-34 2-21 1-10 1 41 2-3 1-11 1 2 2-1 1 17 1-32 2 19 1-19 1 9 2 11 1-15 2 22 1 10 1-29 1-16 2 41 1 0 2-20 1 21 1-35 2 71 1-44 1-25 2 21 1 11 1-39 2 40 1 46 1-30 2-42 1-15 1 4 2 13 1-9 1 46 2 4 1 2 1-37 2 57 1-75 1 7 2-12 1 19 1-7 2 17 1-13 1-15 2 63 1-42 2 19 1 3 1 7 2-2 1-37 1 34 2-59 1 22 1 28 2-43 1 15 1-3 2-4 1 35 1 1 2 8 1 2 2 4 1 18 1-54 1-1 2 9 1-25 1-5 2 43 1 8 2-23 1 21 1-21 2 28 1-5 1-26 2 11 1-52 1 40 2 5 1-2 1-21 2 35 1-6 1-6 2-30 1 3 1 28 2-4 1 17 1 9 2 11 1-34 2 17 1 0 1-17 2 19 1-26 1 15 2 22 1-35 1-12 1-19 2 39 1 0 1-46 2 8 1 40 2 27 1-35 1-20 2 25 1-9 1 7 2 27 1-60 1 49 2-1 1-14 1 7 2-13 1-18 1 29 2 5 1-12 1 0 2 6 1 21 2-18 1-6 1-18 2 31 1-45 1 20 2 5 1 20 1 7 2-40 1 17 1 10 2 0 1 50 1-27 2-16 1-18 1-23 2 15 1 11 1-11 2 2 1 29 1-14 2-37 1 19 1-3 2-3 1-9 1 23 2-7 1 6 1-6 2 25 1 13 2-14 1 19 1 19 2-12 1-33 1-18 2-42 1 13 1 32 2-5 1 23 1-21 2 41 1 9 1-19 2-15 1-1 1-5 2-3 1 5 1-12 2 45 1-3 1-70 2-6 1 45 1-15 2 3 1 32 1-33 2 17 1 65 2-54 1-1 1 32 2-22 1-32 1 34 2-13 1-38 1 38 2-14 1-12 1 56 2-29 1 1 1-17 2 27 1-5 1-2 2 23 1-60 1 31 2-3 1-5 2 41 1-36 1-47 1-10 2 7 1 51 1-21 2-4 1 31 2-32 1-6 1 46 2-23 1 21 1-38 2 31 1-18 1 4 2 11 1 23 1-32 2 17 1 7 1-10 2 20 1-9 1-54 2-32 1 38 1 28 2-54 1 44 1-48 2 1 1 47 1 25 2 28 1 3 1-53 2-19 1 15 2 8 1 28 1-50 2 34 1-42 1-21 2 25 1 41 1 6 2-49 1 50 1-19 2-28 1 46 1-23 2-19 1-4 1 12 2 21 1 30 1-12 2-29 1-34 1 23 2 17 1-30 1 29 2-6 1 27 2-3 1-3 1 14 2-28 1-5 1 6 2 9 1-39 1 41 2-26 1-6 1 57 2-62 1 12 1-16 2-41 1 79 1-26 2-12 1 61 1-14 2-14 1 2 1 16 2-1 1-57 1 56 2 3 1 35 1-42 2-56 1 20 1-4 2 5 1-4 1 37 2-3 1-14 2 46 1-62 1 18 1-24 2 23 1 1 2-6 1 6 1-2 2-15 1 57 1-27 2-49 1 51 1-14 2 1 1 2 1 62 2-74 1 27 1 27 2-49 1 8 1-26 2 23 1-25 1 45 2 8 1-24 1 4 2 6 1-21 2 68 1-54 1-29 2 53 1-43 1 20 2 3 1-17 1-5 2 43 1-29 1-26 2 5 1 9 1-17 2 35 1 26 1-9 2 0 1 9 1-43 2 16 1 2 1-16 2 0 1 8 1-32 2 5 1-17 1 36 2 16 1 3 1-54 2 11 1 6 1-1 2 59 1-37 1 29 2 5 1-9 1-18 2 3 1-20 2 29 1-20 1-9 2 32 1-64 1 26 2 8 1 15 1-2 2 0 1-3 1 2 2-10 1-10 1 26 2-17 1-38 1 59 2 14 1-25 1-2 2 3 1-35 1 21 2 16 1 12 1 30 2-25 1-8 1 9 2-32 1-26 1 28 2-42 1 34 1 12 2-23 1 19 1-4 2-12 1 29 2-3 1-11 1 43 2-24 1-14 1 11 2 8 1 0 1-46 2 100 1-46 1 16 2-21 1 61 1-69 2 3 1 3 1-22 2-17 1-5 1 36 2 0 1-1 1-5 2-4 1 1 1-14 2-24 1 25 1-27 2 21 1 7 1-6 2 4 1 39 1-73 2 40 1-5 2 23 1 7 1-4 2-22 1 33 1 1 2-41 1 3 1-1 2 29 1-18 1 4 2-26 1 51 1-30 2-1 1-13 1 12 2-10 1 50 1-21 2-45 1 31 1 42 2-31 1 21 1-20 2 4 1-4 1 12 2-39 1 29 0 65"/>
<path id="t12" d="M951 3554l-1-101 2 30 1-2 1 12 2-11 1-2 1-6 1-29 2 0 1-1 2 16 1 11 2-2 1-22 2 58 1-31 1 5 2-25 1 20 1-18 3 63 0-45 2 8 1-7 1-19 2 16 1-4 2 29 1-32 1-24 2 17 1-3 2 13 1-25 1 20 2-10 1-20 2 18 1 29 1-47 2 47 1-21 2-2 1 21 1-45 2 0 1 41 2 3 1-17 1-5 2 6 1 12 2 23 1-50 2 77 2 2 1-21 1-8 2 6 1-30 1-11 1-30 2 74 1-53 1-12 2 43 1-5 2 29 1-61 1-16 2 56 1-21 2 41 1-47 1-4 2 43 2 21 1-6 1-77 1-15 2 37 1-20 1-4 2-16 1 35 2 27 1-45 2 40 1-41 1-12 2 76 1-42 2 23 1 3 2 4 1 19 1-41 2 18 1 7 1-38 2 54 1-19 2-31 1 12 1-13 1-47 2 77 2-14 1-29 1 24 2-21 1 23 2 5 1-5 2 6 1-3 2 43 1-56 1 0 2 38 1-9 1-40 2 15 1 41 1-48 2-1 1 24 2-18 1 9 1-6 1-52 2 51 2 12 1 3 2-2 1 5 1-5 2-8 1-29 2 55 1-37 1 11 2 11 1-23 2 30 1-18 2 31 1-20 1-30 1-13 2 39 1-2 2-13 1 20 1-15 2 55 1-55 1-9 2 2 1 4 2-14 1 2 2 29 1 4 2 24 1-40 1-4 2 21 1 30 2-4 1-19 1-25 1-6 2 12 1-45 1-3 2 37 1-10 2 17 2 18 1-6 1-11 2 20 0-67 3 61 1-19 1-30 2 45 0-57 2 41 2-16 1 32 2-6 1 12 2 3 1-7 1-36 2 37 1 20 2 28 1-74 1 26 1-39 2 19 1-26 1-22 2 24 2 45 1-43 1 17 1-12 2 22 2 18 1-22 1-23 2 15 1 27 2 8 1-19 2 26 1 9 1-65 1 18 2-13 2 70 1-58 1-7 2 41 1-38 1-11 2 28 1 32 2-24 1-26 1 35 2-18 1 16 1-20 2-14 1 20 2 30 1-31 1-9 2 51 1-72 1-6 2-13 2 54 1-1 1-6 2 13 1-3 1-40 2 52 1-21 1-57 1-13 3 100 1-39 1 19 1-29 2 0 1 19 2 20 1-53 1 16 2 17 1-33 2 52 1-41 1 2 2-8 1 32 2 50 1-63 2 8 1 12 1-23 2 11 2 54 1-12 1-6 1-37 2 30 2 12 1-36 1 25 1-41 2 51 2-3 0-62 2 56 1-30 1-40 2 25 1-39 2 45 2 24 1-34 1 28 2 7 1-11 2 31 1-36 1-20 1-31 2 69 1-13 2-18 1-11 2 36 1 3 1-1 2-26 1 3 1-22 2-6 1 39 2-2 1 19 2-13 1 9 1-12 2-9 2 62 0-62 2 6 2 31 1-29 1-1 2 20 1-7 2 42 1-15 1-15 2-12 1-19 1 25 1-54 2 30 2 35 1-33 1 23 2-32 1-16 1 2 2 42 1-41 1 6 2-18 1 25 2 26 1-31 2 11 1-9 2 38 1-33 1 33 2-20 1 21 1-67 2 34 1-8 1 1 2-19 1 19 2-7 1-8 1-9 2 78 1-59 2 19 1 3 2 23 1-33 1-14 2 8 1 26 2-5 1 0 1-23 2 19 1-18 2 35 1 20 1-44 2-14 1-12 2 49 1-13 2 22 1 1 1-4 1-24 2 11 1-15 2-14 1-8 1 25 2 4 1-3 2 17 1-49 1 34 1-53 2 64 1-28 2 18 1-19 2 19 1-16 1-7 2-5 1 3 2-9 1 28 1-41 2 0 1 48 2-19 1-13 2 44 1-45 2 54 1-3 1-23 1-23 2 31 1-41 2 59 1-49 2 40 1-45 1 43 2-22 1-27 1 17 2-19 1 24 2 19 1-29 1 14 2 39 1-66 2 22 1-19 2 40 1-24 1 4 2-1 1 13 1-45 2 22 2 55 1-39 1-3 1 14 2 16 1-16 2-2 1-26 2 52 1-44 1 26 2-10 1-25 1 21 1-57 2 62 2 4 1 3 1-24 2-5 1 32 2-14 1 9 1-8 2 18 1-17 1-27 2 23 1 15 1-41 2 34 2-7 2 64 0-60 2 7 1 6 2 30 1-52 1-7 2 54 1-30 1-35 2 17 1 2 1-16 2 34 1-13 2 12 1-29 2 42 1-8 1-15 2-14 1 5 2 17 1-9 2 21 1-10 1-31 2 31 1-2 1-1 2-3 1-43 2 44 1 7 1-53 2 32 2 43 1-21 1-9 2 27 1-5 1-36 2 15 1 5 1-14 2 15 1 11 2-22 1-38 1 10 2 24 1-50 2 60 1-13 1-41 2 27 1 40 1-28 2-27 1 53 1-71 2 34 1 17 2-24 1 37 1-44 2 4 1-6 2 6 1-20 2 40 1-6 1 7 2-5 1-15 2 24 1 1 1 2 1-41 2 31 2 30 1-53 1 28 1-31 2 71 2-9 1-22 2 33 1-35 1-4 1-7 2 15 1-2 1-42 2 10 2 56 1-29 1-7 2 10 1-9 1 4 2 3 1-16 1-12 2 60 2-17 1 0 2 17 1-44 1-14 1 13 2 33 2 14 1 16 1-42 2 5 1 5 1-5 1-46 2 37 1-38 2 36 1-17 1-50 2 24 1 34 2-9 1 33 2 28 1-66 1 33 2 4 1-21 1-18 2 54 1-78 2 40 1-20 2 47 1-14 1-48 1 16 2-1 2 45 1-59 1 34 2-8 1 11 2 46 1-16 1-23 1-22 2-6 1 8 2-19 1 45 2 4 1-29 1-17 2 22 1 8 2-2 1 6 1-47 2 51 1 30 2-36 1 41 1-49 2 17 1-10 1-3 2-39 1 11 1-12 2 20 1-22 2 25 1-17 1-10 2 35 1-5 2 10 1 6 1-25 2 37 2-1 1-27 1 11 2 25 1-15 1 4 2 27 1-69 2 41 1-6 1-21 2 38 1-52 1 6 2-4 1 25 1-37 2 62 2-7 1 10 1-25 2 5 1 8 2 0 1 7 2 9 1-10 1-18 2 22 1-6 1 14 2 12 1-35 2 7 1-27 1 45 2-29 1-2 1 2 2-1 1-19 2 58 1-32 1-13 2 26 1 15 1-49 2 10 1 2 1-36 2 27 2 21 1-3 1-17 2 59 1-44 2 11 1-28 2 39 1-12 1-1 1-35 2 10 1 0 2-1 1 15 1-46 2 38 1-31 2 60 1-3 2 13 1-40 1-22 1-9 2 39 2 31 1-24 1-6 2-10 1-4 1 21 2-24 1-8 1-3 2 70 2-22 1-14 1-15 1-5 2 21 1-17 2 29 1 1 2 19 1-5 1-9 2 22 1-35 2-1 1 4 1 14 1-63 2 51 2-8 1-6 1-34 2 33 1-21 1 27 1-48 2 52 1-41 2 9 1 20 2-4 1-18 1-2 2 15 1-13 2 28 1-2 1-35 2 78 1-53 2 6 1 12 2-7 1-20 1-28 2 34 1 3 1-14 2 6 1 29 1-43 2 57 1-27 2 6 1 15 2 10 1-33 1-29 1-9 2 21 2 30 1 11 1-50 2 9 1 50 1-39 2-18 1 10 2 43 1-26 1-14 2 26 1-17 2 2 1 8 1-5 2-7 1 8 2 16 1-1 1-60 2 52 1-40 2 39 1-6 1-9 2-5 1 11 2-11 1 27 1-37 2 17 1 16 1-31 2-4 1 19 1-36 2 11 1 14 2 1 1 18 2 27 1-29 2 49 1-43 1-2 2-20 1 2 1 1 1-59 2 76 2 10 1-18 2 33 1-50 1 37 2-21 1 12 2 41 1-15 1-40 2 21 1-33 1 5 2 46 1 2 2-9 1 17 1-57 2-5 1 17 1-31 2 48 1-39 2 2 1 67 2-37 1 3 1-24 2 12 1 40 1-77 2 45 1 0 2 32 1-53 1-4 2 15 1 35 2-28 1 1 1-30 1-11 2 5 1-4 2 31 1 5 1-31 2 30 2 6 1-4 1-13 2-4 1 11 1 5 2 50 1-57 2 7 1-5 2 17 1-8 1 23 2-18 1 3 1-29 2 17 1-3 1-9 2-5 1 17 2-27 1 34 2-9 1-21 1 22 1-40 2 43 1-30 2 39 1-62 1-18 2 36 1 33 2-30 1 16 2 28 1-59 1 53 2-19 1 18 2 11 1-26 1 11 2-6 1 7 2-9 1-3 1 1 2 13 1-9 1-12 2 18 1 13 1-67 2 49 1-24 2 16 1-30 1-12 2 33 1 5 2-14 1 35 2 24 1-62 2 99 1-26 1-68 1-3 2 68 2 27 1-38 1-37 1-14 2 47 1-59 2 45 1 4 2-14 1 1 1 11 2-13 1 40 1-54 2-21 1 56 2-18 1-1 1 4 2-12 1 23 2 8 1-8 2 19 1-34 1 28 2-15 1-19 1 4 2 22 1-27 2 5 1-27 1-10 2 24 1-1 2 20 1-8 2 45 1-9 1-5 1-25 2 27 1-8 2 14 1-24 1-33 2 2 1-26 1 17 2 22 1-29 2 15 1 5 1-18 2 15 1-6 2 0 1-43 1 53 2 30 1-19 2-1 1-35 2 71 1-44 1 0 2-2 1-21 2 50 1-26 1 11 2 4 1-15 1 13 2 16 1-17 2 21 1-47 1 29 2-3 1-16 2 42 1 7 1-29 2-23 1 58 2-30 1 26 1-17 1-46 2 22 1 5 1-60 2 34 2 68 1-33 1-28 2 8 1-16 2 43 1-3 1 6 2-30 1-4 1 11 2 9 1-22 2 11 1 34 2-15 1 9 1 2 2 0 1 9 2-11 1 5 1-5 2 7 1-40 1 25 2-16 1 26 2-24 1 29 1-30 2-5 1 12 1-35 2 59 1-28 2-9 1 3 1 5 2-18 1 0 1-3 2 54 2-19 1 19 1-23 2 75 1-92 1 7 1-40 2 66 2-24 1-43 1 17 2 57 1-30 2 12 1-12 1 14 2-1 1 15 2-11 1 26 1-37 2-12 1-17 1-24 2 23 1-44 1 19 2-4 1 39 2-22 1-19 1 29 2 45 1-28 2-14 1 14 1 8 2-20 1 20 2 27 1-22 1-45 2 21 1 41 2-27 1 23 1-48 2 40 2 71 1-79 1 10 2 26 1-27 1-45 2 71 1-28 1 3 2 12 1-8 1-27 2-17 1-14 2 40 1-33 1 27 2 15 1-25 1-19 2 40 1-39 2 5 1-16 2 44 1-30 1-26 1-33 2-1 1 23 2 23 1-8 1 7 2 30 1-23 2 35 1-18 2 12 1-3 1 14 1-62 2 48 1-1 2 32 1-24 2-22 1-23 1-28 2 56 1-10 2 7 1-37 1 66 2-14 1-4 2-4 1 26 1-2 2 16 1-47 2 14 1-2 1 28 2 2 1-22 2 7 1-44 1 52 2-44 1 23 1-1 2 2 1-66 1 49 2-8 1 26 2-32 1 21 2 17 1 37 2-12 1-33 1 20 2-8 1 57 1-67 2-7 1 24 1-26 2 44 1-45 2 41 1-7 1-25 2 20 1-29 2 12 1-7 2 33 1-42 1 30 1-45 2 39 1-28 2 6 1 7 1 0 2-28 1-9 1-2 2 21 1 29 2 2 1-8 1-49 2 29 1-21 2 5 1 21 1-41 2-10 1 49 2-12 1 10 2 59 1-48 1-40 2 42 1-8 1 11 2-13 1 10 2 26 1-5 1-26 2 54 1-34 2 5 1 10 1-36 2 19 1-7 1-32 2 27 2 57 1-29 1-19 1-21 2-9 1 31 1-27 2-3 1-18 2-1 1 39 2 30 1-67 1-20 1 18 2 52 2 29 1-18 1-2 2 12 1-35 1 7 2 21 1-7 2-7 1-34 1 14 2 0 1-1 2 21 1-19 1 31 2-7 1-47 2 32 1-27 1-10 2 77 1-51 2 22 1 16 1-19 2-14 1-10 1 16 2-44 1 38 2 8 1 8 1-7 2-37 1-20 2 52 1-5 1 10 2-5 1-3 1-50 2 47 1 31 2-42 1 1 1-1 2-14 1 28 2 9 1-17 1-18 2 28 1-30 1 4 2 22 1-45 2 33 1-11 1 35 2-12 1-40 2 29 1 18 1-41 2 40 1-4 2 9 1-41 1 63 2-52 1 30 2 13 1-11 1-55 2 35 1 11 2 84 1-44 1-16 2 2 1-17 2 15 1-9 1 9 2-5 1-19 1 18 2-41 1 47 1-60 2 16 1 16 2 18 1 5 2 4 1 2 1-12 2-7 1 7 1-19 2-17 1 71 2-14 1-25 1-9 2-13 1 56 2-26 1 18 2 7 1-23 1 13 2-14 1-18 1 18 2 0 1-35 1-1 2 8 1 24 2-4 1-33 1-32 2 62 1 21 2-13 1-30 1 12 2-13 1 54 1-30 2-13 1 25 2 5 1-31 1-3 2-4 1-4 2 14 1-4 1-49 2 60 1-8 2 24 1-13 1-13 2 14 1 4 2 11 1-9 1-34 2 5 1 39 1-29 2-38 1 1 1-6 2 56 1-1 2 5 1 20 1-61 2 14 1 3 2 24 1-16 1-20 2 26 1 45 2-49 1-30 1-5 2 53 1-18 2 30 1-58 1-1 2-3 1 22 2 27 1-60 1 15 2 7 1 10 1 4 2-7 1 0 1-17 2 22 1-31 2 9 1-2 1 15 2 10 1-42 2 40 1-95 1 108 1-76 2 8 1 14 2 41 1-40 2 14 1 12 1-7 2-26 1 38 2 10 1 16 2 4 1-6 1-6 2 21 1 18 1-35 2 53 1-88 1 12 2 4 1 20 2-18 1-8 1-34 2 21 2 112 1-82 1-18 2 35 1-49 1 5 2 32 1 10 1-33 2 9 1-9 1-7 2 37 1-3 2 33 1-43 2 22 1 4 1-46 2 25 1 18 2 27 1-33 1-41 2 23 1 15 1 8 2 3 1 21 2-40 1 33 1-14 2-43 1-12 1 32 2 13 1-42 2 47 1-5 1-15 2 22 1 16 1-52 2-7 1 34 2 37 1-6 2 3 1-43 1 35 2-44 1-28 1 25 2 43 1 17 2 21 1-53 1-3 2-27 1 19 2 59 1-47 1-21 2 22 1 10 2-6 1 2 1-53 2 36 1-19 1 19 2-15 1-45 1 28 2 53 1-27 2-25 1 53 2 4 1-36 1-5 2 26 1-8 1 1 2 12 1-23 2 13 1-39 1 26 2 22 1-8 2 11 1-42 1 37 2-7 1-24 2 37 1-3 1-22 2 30 1-75 1 14 2 57 1-53 2 40 1-15 1 25 2-14 1 1 2 13 1-3 1-10 2 27 1-56 1 29 2-26 1 44 1-59 2 1 1 27 2-13 1 42 2 18 1-39 1 23 2-39 1 49 1-34 2 30 1 17 2-43 1 6 1 1 2 3 1 12 2 8 1 3 1-28 2 11 1-15 2 0 1-1 1 20 2 19 1-42 2 30 1-38 1-47 2 73 1-16 1-14 2 15 1 6 2 0 1-16 1-5 2 11 1 8 2 9 1-66 1 47 1-47 2-10 1 60 2 18 1-35 2 48 1-9 1-13 2-35 1 1 1 2 2-7 1-10 2 12 1 38 2 12 1-24 1 27 2-5 1 2 1 6 2 7 1-22 1-21 2 10 1 1 2 13 1 22 1-43 2-9 1-21 1-10 2 19 1 33 2-18 1 13 2 22 1 10 1-9 2-29 1-5 1 4 2 16 1 7 2 11 1-44 2 54 1-76 1 8 2 64 1-44 1 28 2 1 1-45 1 4 2 37 1-28 2 3 1 41 1-32 2-11 1-31 2 50 1-22 1-15 2 30 1-38 2 62 1-30 1-8 2 12 1-13 2 32 1-67 1 29 2 19 1 3 1-3 2-34 1 40 1-26 2 13 1-55 2 31 1 35 2 32 1 12 1-35 2-35 1 19 1 18 2 25 1-72 2 83 1-57 1-8 2 20 1-18 1 20 2-18 1-9 2 0 1 32 2 42 1-8 1-53 2-8 1-14 1-5 2 13 1 12 1-11 2 25 1 14 2-16 1-40 1 11 2 4 1 26 2-17 1 31 1 0 2-21 1-20 1-4 2 18 1-3 2 13 1-16 1 7 2 19 1 5 2 20 1-27 1 3 2 1 1-13 2 22 1-18 1-20 2 24 1-44 2 71 1-29 1-6 2-21 1 57 1-47 2 4 1 36 1-49 2 1 1-1 2-16 1 50 2 19 1-48 1 21 1-50 2 50 1-4 2-26 1 39 1-46 2 46 1-26 2 54 1-43 2 22 1 4 1-58 2 41 1-47 1 22 2-22 1 15 2 14 1-32 1 52 2-10 1-1 1-2 2-9 1 42 2-12 1-45 1 32 2-6 1 12 2-22 1 1 1 11 2 0 1-48 1 13 2 53 1-35 2 33 1 31 1-79 2 39 1 33 2-29 1-6 1-11 2-23 1 12 2 37 1-24 1-4 2-5 1 49 2 5 1-26 1-38 2 6 1 7 1 9 2-44 1 60 2-3 1-29 1 36 2-26 1-15 2 71 1-82 1 31 1-36 2 27 1 4 2 3 1 31 2 9 1-37 1 20 2-16 1 7 1-30 2-16 1 30 2 3 1-18 1 41 2-38 1 56 1-54 2 1 1 41 2-32 1 41 1-32 2-27 1 19 1-19 2 2 1-8 2-10 1-13 2 107 1-50 1-19 2 23 1-23 1-22 2-44 1 40 2 25 1 6 1 10 2-22 1 16 2 41 1 8 1-52 2 45 1-11 1-27 2-22 1 17 2 31 1-74 1 61 2-13 1-1 2 36 1-9 1-26 2 4 1-21 1 28 2 35 1-23 2 0 1-2 1-48 2 19 1 70 2-35 1-37 1 1 2 4 1-24 1 21 2-12 1-11 2 33 1-13 1-4 2-4 1-28 1 15 2 12 1 37 2-14 1 33 1-21 2 4 1 12 2-1 1-75 1 26 2-2 1 2 1 5 2 13 1-36 2 31 1 6 1 7 2-13 1 46 1-55 2-2 1-1 2 59 1-20 1-13 2-35 1 4 1-17 2 42 1-8 2 5 1 51 2-22 1-11 1 0 2-40 1 8 1 46 2-26 1-21 2 22 1-2 1 18 2-23 1-54 2 66 1-10 1 33 2-4 1-49 1 24 2-31 1 64 2-44 1 42 1-28 2 42 1-30 1-30 2 41 1-1 2-21 1 5 1-19 2 21 1-21 2 21 1 2 1-40 2 45 1-44 1 29 2-23 1 51 2-63 1 23 1 12 2 27 1-33 2-1 1 55 1-50 2-4 1-11 1-43 2 43 1-9 2 24 1 3 1 14 2-41 1-13 2 74 1-47 1 13 2 6 1 25 1-24 2-23 1-15 1-19 2 70 1-24 2 32 1-23 2 30 1-73 1 40 2-14 1-13 1-5 2 24 1-37 2 38 1-1 1 20 2 34 1-45 2 7 1-10 1-12 2-22 1-8 1 43 2-41 1-8 2 21 1 18 1 14 2-29 1-5 1-4 2-6 1 15 2 30 1-53 1 27 2-50 1 39 2 70 1-43 1-15 2 19 1-11 1 18 2-13 1-18 2-6 1-1 1-22 2 27 1-10 2 32 1-22 1 1 2-26 1 52 1-32 2-13 1 14 2 49 1-26 1-29 2 4 1 45 1-48 2 60 1-26 2-45 1 14 1 11 2 28 1 7 2-11 1-38 1 28 2-12 1-7 1 8 2-35 1 31 2-41 1 37 1 10 2-25 1 41 2 10 1-30 1-25 2 24 1 5 1 18 2 26 1-33 2 20 1-3 1-56 2 61 1-16 2 9 1-52 1 30 2 12 1-22 1 13 2-2 1-32 1-3 2 63 1-22 2-25 1 45 1-22 2-31 1 10 2 45 1-22 1-18 2 9 1-16 1-2 2-8 1 16 2 18 1 0 1 8 2-47 1-9 2-4 1 7 1 15 2 30 1-20 1 1 2-1 1 40 2 29 1-32 1-37 2 39 1-40 2 28 1-6 1 20 2-6 1 6 1-16 2 4 1 44 2-41 1-33 1 18 2-43 1 29 2 33 1-46 1 19 2-5 1 8 1-25 2 8 1-24 2 58 1-16 1 42 2 0 1-48 1-11 2 24 1 1 2-3 1 3 1 4 2 12 1-51 2 3 1 8 1-12 2-3 1 32 1 16 2 0 1 6 2 1 1-28 1 10 2-5 1-30 1 11 2 24 1-22 2-1 1-10 1 31 2 29 1-5 2 3 1-12 1-1 2 17 1-12 1-27 2 60 1-76 2 16 1-4 1 26 2-37 1 30 2 12 1 0 1-50 2 22 1-20 1 32 2 28 1 12 2-19 1-24 1-7 2 30 1-9 2 60 1-54 1 50 2-39 1-20 1-10 2-3 1-21 2 29 1 33 1-38 2-21 1-22 1 53 2-28 1 50 2-62 1-14 1-1 2 28 1 5 1 12 2 18 1-8 2-21 1 30 1-21 2 20 1-20 2 9 1 27 1-32 2 19 1-18 1-44 2 43 1 4 2-19 1 17 1-30 2 18 1-1 1-4 2 5 1-1 2 40 0 49"/>
<path id="t13" d="M747 3810l-1-23 1-61 1 1 2-22 1 21 2-12 1-3 2 20 1 21 2-17 1-15 1-1 1-36 2 23 2 31 2 21 0-46 2-14 2 26 1-5 2 46 1-29 1 1 2 27 1-32 2 14 1-40 1 17 1-38 2 2 2 50 2 19 1 9 1-41 1-37 2 26 1-24 2 37 2 13 1-12 1-42 1-7 2 6 1-6 2 36 2 24 1-16 1-15 2 22 1-53 2 39 1-30 2 49 1-36 2 35 1-16 1-2 2 41 1-28 2 18 1-38 1 3 2 28 1-66 2 36 1-12 2 33 2 27 1-34 1 12 2 25 1-46 1 3 1-48 2 24 1-6 2-18 1 42 2 0 1-3 2 3 1-6 2 55 1-45 1-25 2 18 2 15 1 11 2 6 1-40 2 42 1-22 1-27 1 8 2 47 1-76 2 10 1-12 2 49 1-22 1-24 2 37 2 17 1-50 1 24 2 2 1-3 2-7 1-16 2 47 1 9 1-49 2 53 1-47 2 10 2 34 1-22 1 2 1-17 2 11 2 13 1 5 1-27 2 49 1-50 2 28 2 35 1-51 1 23 1-30 2 14 1-2 2-4 1-4 2-1 1 19 1-45 2 57 2-10 1 15 2-1 1 12 2-20 1 17 1-14 2-26 1-10 1-11 2-12 1 22 2 36 2 5 1-2 1-42 2 36 2 22 1 11 1-47 2 19 1-25 2 55 1-37 1-4 2 15 1-49 2 45 1-39 1 3 2-2 2 42 1-35 1 5 2 12 0-63 3 71 1-2 1-24 2 43 1-21 2 13 1-39 2 11 1 29 2-1 1 1 1-28 2-2 1-10 1-10 3 89 1-49 1 12 1-25 2 26 1-16 2 23 2 7 1-18 2 18 1-21 1-8 1-10 2-9 1 12 2 20 1-18 2-16 1 41 2-26 1 25 2-7 0-59 2-23 1 16 1-22 2 49 2-3 2 21 1-26 1 7 2 63 1-29 2 3 1-22 1-24 2 18 2 18 1-17 1-15 2 24 1-28 2 63 1-51 2 34 1-31 2 31 1-29 1-28 2 30 1 28 1-52 3 116 1-82 1 17 2 4 1-4 1-50 1 6 2 26 2 7 1 13 1-34 3 81 0-86 2 21 2 29 0-69 2-11 2 41 1 29 1-44 2 8 1 9 2 15 1-12 2 5 1 4 2 37 1-46 2 12 1-15 1 2 2-11 1-10 2 35 1-21 1 5 2 8 2 24 1 29 1-57 2 42 1-40 2 21 1-19 1-22 2 24 1-38 2 8 1 22 2-6 1-17 2 47 1-50 1 15 2 10 1-6 2 56 1-52 2 18 2 27 1 33 1-59 2 1 1 15 1-43 2 19 1-26 2 36 0-72 2 52 2 22 1-31 2-17 2 54 1-16 1-1 2 5 1-21 2 49 0-95 2 14 2 16 1-8 2 35 2 56 1-44 1-22 1-10 2 45 1-30 2 17 1-35 2 20 1-20 2 29 1-37 1-9 1-17 3 96 1-60 1 37 2-10 1-25 2 17 1 9 1-12 2 14 1-68 2 71 1-4 2-3 1-22 2 50 2 45 1-34 1-41 1-10 2 12 1 1 2 42 1-34 1-32 2 48 1-46 2 23 1 14 2-12 1 19 1-55 2 20 1 12 2-14 1 20 2-17 1 4 2 46 1-17 1-50 2 15 1-32 2 38 2 36 1-27 1 17 2-18 1 12 1-45 2 39 1-23 2 42 2 4 1-30 1 11 1-37 2 34 1-56 2 47 1-13 2 26 1-60 1 26 2 36 2-6 1 8 1-56 2 54 1-20 2 6 1-11 1-45 2 3 2 59 1-22 2 40 1-47 2 60 1-25 1 14 1-61 2 35 2 58 1-30 1-21 2-30 1 2 2 17 1 22 2-8 1-12 1-1 2 9 1-51 2 56 1-23 1-36 2 46 2 25 1-35 1-22 2 72 1-56 2 48 1-11 2-14 1-8 2 7 1-29 2 42 0-50 2 31 2 1 1 33 1-41 2 27 1-30 2-20 1 42 1-42 2 50 2-11 1 9 2-12 1 9 1-32 1-64 2 76 1-34 2 45 2 2 1-22 2 41 1-24 1 13 2-2 1-13 2 44 1-8 1-43 2-14 2 38 1-14 1 16 2-14 1-19 2 22 1-13 1 0 2 6 1-9 2 40 2-4 1-1 1 5 2-13 1 2 1-44 2 8 1 12 2-14 1 11 2 7 1 9 2 5 1-13 1 6 2-7 1-9 1-35 2 49 2 47 1-23 1-34 2-17 1-1 2 16 1 11 2-16 1-10 2 48 1-26 1 2 2-19 1 8 2 15 1-30 1-19 2 30 1-62 2 75 1-24 2 26 1-7 1-19 2 23 1-32 2 11 1-2 1-24 2 65 2 9 1-11 2-6 1-10 1-36 2 50 2 24 0-104 2 42 1-7 2 18 2 19 1 35 1-55 2 42 2-6 1-1 1-12 2-3 1 2 2-11 1-12 1 6 2-10 1-12 2 47 1-15 1-74 2 20 2 58 1-45 2 90 1-56 1 21 1-41 2 14 1-31 2 34 2 20 1-37 1 31 2 1 1 16 2 11 1-40 2 10 1-19 1 2 2-16 1 30 2 10 1 1 2-12 1-31 2 63 1-2 2-5 1-13 1-7 1-38 2 4 2 33 1-14 1-5 2 6 1-21 2 44 1-15 2 23 1-30 1 5 2 39 2 5 1-8 1-65 2 28 1-19 1 1 2 26 1-14 2 11 1-12 2 27 1-2 2 11 1-16 2 0 1 43 1-99 1 6 2 26 1-15 2-25 1-3 2 23 1 0 2 34 1-13 1-42 2 51 1-10 2-1 2 22 1 24 1-26 2-9 1-64 2 63 1-37 1 7 2 30 1-35 2 17 1 13 1-40 2 47 1-18 1-39 2 34 2-1 1 27 2-10 1-41 2 41 1 0 1-2 2-34 2 73 1-23 1-4 2 0 1 4 2 44 1-14 1-32 2-12 1-4 2 7 1 26 2 16 1-46 2 20 1 1 1-80 2 94 1-13 2-20 1 36 2-14 1 9 2 8 1-35 1-14 2 30 2 50 1-67 1 21 2-2 1-1 1-13 2-12 1 27 2-28 1 2 2 22 1 1 2-4 1 26 2-12 1 2 1-6 2 6 1-12 1-41 2 8 1 17 2-10 1-23 1-10 2 5 1 21 1-42 2 53 2 49 1-76 2 12 1 9 2 13 1-15 1-26 2 38 2 16 1-31 1 34 2-3 1 12 2-7 1-40 2 43 1-20 1-21 2 26 1 5 2-3 1 27 1-54 2 21 1 10 2-17 1-20 2 15 1 32 1-61 2 45 1-29 2 47 1-44 2-3 1 27 1-21 2 9 1 0 2 13 2 26 1-10 1-9 2-5 1-63 2 52 1 20 1-45 2 0 1 27 2 14 1-37 1-6 2 26 1-37 2 34 1 7 1-53 2 48 1-27 2 33 1-14 2 9 2 55 1-32 1-5 2-30 1 18 2 14 1-7 2 19 1-68 2 68 1 12 1-35 2-9 1 36 2 6 1 3 1-39 2 45 1-39 2-14 2 72 0-80 2 30 1-37 2 0 1-55 2 76 1-28 2 59 1-47 1 4 2 1 1 5 2 4 1-16 2 33 1-27 1-6 2 48 1-38 2 3 1-38 2 49 1 4 1-34 2-29 2 57 1-27 1 10 1-38 2 68 2-27 1-18 1 13 2 37 1-29 2-4 2 35 1 2 1-44 2 26 1-54 1 21 2 15 2 32 1-44 1 8 2 86 1-84 2 43 1-26 2 30 0-87 2 50 1-31 2 55 2-24 1-26 2 67 1-39 2 50 1-42 1-9 1-23 2-31 1 24 2 20 2 43 1-50 1 16 2 30 1-31 2-6 1 9 1-6 2-3 1 23 2 5 1-9 2 11 1-9 2 6 1-6 1-33 2 37 1-24 2 0 1 0 2 33 1-39 1 3 2-4 1-22 2 42 1-6 2 1 1 19 2 25 1-11 2-8 1-22 1-37 2 55 1 18 2-2 1-20 2 20 1-9 1-3 2 1 1-46 2 13 1 2 2 12 1-14 1-8 2 44 1-9 2-3 1-5 1-51 2 61 1-46 2 51 1-18 2 11 1 4 2-1 1-21 1-10 2-11 1-2 1-19 2 57 2 11 1-17 2-1 1-18 1 0 2 39 2 22 1-63 1 3 1-12 2 38 1-54 2 8 1 8 1-15 2-12 1 32 2 33 2-10 1 0 1-76 1 30 2 39 1-28 2-20 1-9 2 40 1-13 2-7 1 37 2-8 1 8 2 41 1-67 2 37 1-8 1 2 1-47 2 58 2-20 1-34 2 51 1-27 1 15 2-3 1-14 1-14 2 18 2 19 1 16 1-28 2-1 1-5 2 12 1 9 1-32 2 17 1-1 2 18 1-19 2 14 1-42 2 53 1 8 1-46 2 24 1-28 2 30 1-31 2 11 1 32 1-30 2 16 2 27 1-21 1-35 2 11 1 3 2 39 1-27 2 39 1-13 1-13 2-4 1 6 2-9 1 25 2-24 1 10 1-11 2-21 1 15 1-34 2 3 1 18 2-12 1 24 2-21 1 22 2 3 1-10 2-3 1 3 2 25 1-5 1-47 2 34 1 2 2 26 1-27 1-3 2-5 1 18 2-34 1 44 2 10 1 2 2-33 1-1 1 0 2-12 1 1 2 24 1-31 1-1 2 8 1 6 2 47 1-46 2 14 1 6 2-6 1 42 1-69 1-43 2 44 2 24 1-51 1 8 2 11 2 28 1 15 1-6 2-7 2 28 0-63 2-3 2 24 0-71 2 33 2 40 1 5 2 29 1-4 2-33 1 3 1-15 2 2 1 28 2-25 2 63 1-21 1-5 2-20 1-31 1 4 2 3 1-10 2 13 1 10 1 1 2 34 1-16 2 8 1-56 2 60 1-30 2 37 1-60 1 20 2-2 1-36 2 42 1-49 1 8 2-14 1 22 2-7 1 47 2 5 1-50 2 25 1 13 2 30 1-33 1 8 2-21 1-33 1 26 2-30 1 42 2 14 1 4 2-46 1 30 2 57 1-38 2 6 1-21 2 49 1-15 1-44 2-1 1 29 1-46 2 24 1-17 2 31 1 3 2-8 1 30 2 15 1 18 1-77 2 32 2 12 1-21 1-3 1-32 2 36 2-10 1 16 1-15 2 21 1-69 2 37 1 28 1-51 2 18 1 0 2-11 1 50 2-18 1 5 2 36 1-10 2-3 1-6 1-24 2-8 1 29 1-77 2 54 1-9 2-22 1 14 2-22 1 8 2 14 1-17 1-13 2-7 1-19 2 56 1-5 1-20 2 5 1 10 2-31 1-1 1-13 2 6 1 24 2 50 2 20 1-47 1-10 2 5 1-2 2 34 1-1 2-29 1 17 1 1 2 10 1-38 2 61 1-63 1-3 2-2 1 0 2 64 2-10 1 7 1-35 2 3 2 78 1-37 1 1 1-76 2 29 1-18 2 13 1 0 2 23 1 26 2-18 1 12 1-36 2 42 1-32 2-17 1-24 1 7 2 49 1-36 2-4 1-2 2 23 1-8 2 19 1-13 1-23 2 15 1 39 2-19 1-4 2 14 1 14 1-22 2 12 1 6 2 1 1 3 2-1 1-22 1-20 2-36 1 25 2-14 1 36 1-29 2 18 1-10 2 4 1 20 1-52 2 30 1-4 2 32 1-22 1-70 2 87 1-89 2 54 2 14 1-35 2 63 1-3 1 6 2-4 1-21 1-63 2 43 1-12 2 14 1 22 2 7 1-5 2 9 1-8 2 7 1 16 1-24 2 15 1 7 2-24 1 3 2-10 1-65 1 49 2-9 1-11 2 6 1 5 1 6 2 19 2 24 1-52 2 74 1-48 1 34 2-5 1 7 2 21 1-38 2 16 1-20 1-36 2 17 1 28 1-35 2 13 1 5 2 45 1-48 1-32 2 30 2 30 1-20 1-7 2 35 1-7 2-19 1 7 2-20 1-5 1 14 2 23 1-22 2 1 1 28 2-12 1-2 2-1 1 14 1-35 2 22 1 5 2 40 1-12 2-32 1 30 1-45 2 8 1-21 2-5 1 25 2 31 1-16 1-11 2 13 1-1 2-55 1 50 1-38 2 67 2-25 1 47 1-70 2-16 1-9 2 14 1-37 1 51 2-13 1 33 2 5 1-35 2 12 1 10 1-10 2 0 1 2 2-19 1 39 2 51 1-101 2 40 1-17 2 55 1 12 2-16 1-25 1-33 2 31 1-20 2 36 1-24 1 12 2 22 1-51 2 24 1-30 1-23 2 6 1 35 2 43 1-24 2-9 1 19 1-33 2-18 1 33 2 13 1 15 2-44 1 36 1-36 2 35 1-12 2-20 1-12 1-43 2 49 1 0 2-3 1-12 2 9 1 26 2-6 1-29 2 35 1-24 1 6 2-39 1 50 1-68 2 27 1-6 2 12 1-9 2 26 1-2 1-32 2 40 2 4 1 14 2 20 1-46 1 44 2-26 1 33 2 0 1-52 1 8 2-4 1 34 2-13 1-5 2-14 1-14 2 39 1-9 1 2 2-35 1 19 2 11 1-25 2 40 1 28 1-24 2 4 1-7 2-29 1-21 1 20 2-19 1 4 2 10 2 69 1-47 1 10 1-51 2 70 1-37 2-10 1 29 2 19 1-49 1-1 2 52 1-73 2 33 1-7 2 21 1-14 1-37 2 30 1 18 2-41 1 52 1-68 2 67 1-44 2 24 1-28 2 15 1-36 2 24 1 8 2 12 1 4 1-30 2 11 1-23 2 11 1 21 2-4 1-43 1 53 2-58 1 35 2 39 1 34 2-58 1-19 1 31 2 7 1-10 1-51 2 39 2 13 1 14 1-18 2-40 1 25 2-19 1 51 1-56 2 11 1 34 2-19 1 24 2-44 1 28 2 10 1-21 2 39 1-39 1 7 2 45 1-38 2 20 1-3 2 4 1 8 1 0 2-20 1-15 2 33 1-18 1-26 2 43 1-53 2 24 1 4 2-5 1-19 1 18 2 18 1-3 2-24 1-15 2 84 1-39 1-50 2 21 1 30 2-12 1-15 2 12 1-28 2 31 1-7 1 11 2 1 1-4 2-14 1 8 2-2 1 2 1-42 2 9 1 15 2 40 1-21 2-4 1 8 1 5 2-10 1-7 2-2 1 44 2 10 1-14 2 8 1-49 1 4 2 69 1-46 2 32 1-51 2 23 1-3 1-30 2 31 1-7 2 4 1 26 2-25 1 11 1-14 2-16 1 35 2-22 1-8 2 21 1-32 1 2 2-27 1 32 2-16 1-24 2 52 1 7 1-68 2 26 1-1 2 19 1 14 2 0 1-37 1 55 2-31 1 29 2 40 1-24 2-23 1 18 1-18 2-2 1-6 2-22 1 33 2 5 1-20 1-23 2 58 1-79 2 11 1 5 2 66 1-23 1-18 2 18 1-14 2 20 1 11 2-4 1-22 1-23 2-3 1-14 2 1 1 49 2 7 1-34 1 22 2 20 1 10 2-34 1-25 1-4 2 40 1 5 2-11 1 3 2 6 1 0 2-8 1 41 2-29 1 4 1-51 2 25 1 23 1-43 2 44 2 9 1-8 1-29 2 12 1 13 2 8 1-65 1 14 2 34 1-15 2-43 1 30 1-59 2 54 1 35 2-27 1-6 2 35 1-21 2 9 1 12 2 8 1-25 1 1 2 22 1 11 2-33 1 3 2 39 1-48 1 17 2 14 1-24 2-7 1 13 1-9 2-5 1 37 2-42 1 19 2 29 1-53 1 22 2-4 1 4 2 2 1 1 2-13 1-4 2 28 1-17 1-42 2 38 1-7 2-4 1 45 1-66 2 26 2 69 1-73 1 22 2 5 1 38 1-39 2-66 1 14 2 47 1-57 1 14 2 23 1-6 2 11 1 7 2 2 1-6 2 20 1-12 1-33 2 10 1 6 2 25 1-46 2 35 1-18 1 20 2-27 1-6 1-59 2 84 2 44 1-4 1-58 2-34 1 71 2-39 1 71 1-76 2 35 1-35 2 39 1-46 2 43 1-39 2 29 1-6 1-1 2 16 1 32 2-1 1 2 2-14 1-19 1-41 2 45 1 27 2-44 1 43 2-40 1-2 1-19 2-8 1-7 2 19 1 16 2 8 1-19 1 1 2 47 1-6 2 11 1-57 2 57 1-76 1 29 2-37 1 46 2 0 1-31 1-1 2 8 1-29 2 12 1 3 2 16 1 42 2 0 1 12 1-16 2-11 1-46 2 25 1 47 2-41 1 31 2 38 1-89 1-2 2 46 1 19 2-36 1-10 1-28 2 81 1-49 2 4 1-18 2 45 1 19 1-44 2 40 1 2 2-10 1-12 2 12 1-47 1 23 2-22 1 6 2 26 1-30 1 1 2-19 1 14 2-22 1 39 2-20 1 44 2-30 1-7 1 46 2-41 1 11 2-38 1 36 1-18 2 32 1-73 2-4 1 27 2 21 1 10 1-39 2 52 1-39 2 28 1 49 2-66 1 72 1-63 2 36 1-22 2-14 1-8 2 17 1 19 2-11 1 7 1-25 2 1 1 63 2-17 1 23 1-88 2 49 1-54 2 48 1-1 2-35 1 13 2 23 1-1 1-34 2 49 1-20 2-37 1-11 1 43 2 7 1 15 2-54 1 46 2-25 1 4 1-11 2 36 1-30 2-2 1 12 2-3 1 3 1-16 2 69 1-57 2 2 1 25 2 19 1-56 1 21 2-8 1-14 2 8 1 53 2-35 1-57 1 29 2 13 1-6 2-23 1 37 2 11 1-29 1 31 2 29 1-42 2 3 1 10 1-53 2 20 2 54 1-18 1-67 2 67 1-39 2 11 1 29 1-44 2 19 1-15 2 3 1 5 2 8 1-9 1-10 2-2 1 12 2-34 1 26 2 15 1-14 1-22 2 24 1 29 1-72 2 25 1 0 2-36 1 47 2-21 1 18 2 23 1 8 2 22 1 8 1-82 2 35 1-20 2 5 1 44 1-38 2 27 1-39 2 8 1 46 2-17 1-5 1 1 2-33 1 39 2-37 1 33 2 2 1 52 1-72 2-3 1 52 2-60 1 18 2 5 1-9 1-10 2 30 1-6 2-10 1 6 2 5 1 50 1-31 2-15 1 17 2-3 1 11 2-41 1 4 1 23 2-8 1-5 2 5 1-31 2 19 1-30 1-26 2 41 1 1 2 59 1-63 2 62 1-85 1 31 2-8 1-6 2 31 1-8 1 2 2-6 1-28 2-3 1 38 2-28 1 19 2 19 1 4 1-14 2 1 1 45 2-6 1-2 2 5 1-13 1 16 2-51 1 56 2-25 1-33 1 0 2 3 1-19 2-19 1 26 2 30 1 5 1-33 2 49 1-17 2-13 1-22 2 31 1 7 1-34 2 26 1-7 2-29 1 4 1-45 2 64 1 7 2-8 1-28 2 54 1 0 2 5 1-38 1 14 2 5 1-17 2 42 1-48 2 21 1-7 1 2 2 9 1-76 2 41 1 34 1-20 2 16 1 13 2 11 1-29 2 19 1-34 2 32 1-44 1 40 2-22 1 29 2-44 1 22 2 26 1-10 1 24 2-31 1 27 2-10 1-34 1 13 2 21 1 13 2-92 1 20 2 37 1-17 1 24 2 35 1-30 2-25 1 29 2-30 1-11 1 0 2-22 1 34 2 18 1-20 2 34 1-48 1 72 2-22 1-16 2-19 1 26 1-17 2 27 1-18 2-4 1-24 2 26 1-38 1-1 2 45 1-52 2 27 1-13 2-5 1-15 1 21 2-8 1-18 2-7 1 66 2 28 1-46 1 8 2 5 1-6 2-14 1 29 2 6 1 24 1-22 2-24 1-14 2-4 1-2 1 1 2 18 1 3 2-3 1 0 2 30 1-19 2 18 1-36 1 12 2-26 1-13 2 52 1-41 1 48 2-66 1 51 2 24 1-6 2 2 1-33 1-9 2-10 1 11 2 0 1 54 2-25 1-5 2 51 1-53 1 0 2 7 1-37 1 5 2 24 1 5 2 42 1-64 2 67 1-40 2 39 1-24 1 40 2-109 1 51 2 6 1-52 1-22 2 38 1 39 2-3 1-10 2-6 1 29 1-20 2-50 1 31 2-6 1-26 2 44 1-38 1 1 2 17 1 1 2 4 1-11 2 12 1-10 1 25 2-10 1-31 2 51 1-4 1-20 2-16 1 44 2-39 1 12 2 41 1-29 1 2 2 4 1 9 2-11 1-4 2-15 1 7 1-10 2-3 1-72 2 60 1 46 2-8 1 17 1 20 2-33 1 28 2-18 1 21 2-3 1-28 1-65 2 58 1-51 2-14 1 34 1 4 2 16 1 17 2-63 1 79 2-55 1 25 1-17 2-16 1 22 2 13 1-35 2 5 1 11 1-19 2 47 1-66 2 17 1 21 2 9 1 23 1-54 2 1 1 51 2 16 1-33 1-41 2 82 1-23 2-22 1-2 2 36 1-64 1-6 2 40 1 1 2 1 1 24 2-5 1-16 2 28 1-24 1-19 2 34 1 2 2-29 1-8 1 24 2-37 1 10 2-27 1 34 2 13 1 0 1 33 2-33 1-33 2-13 1 14 1-4 2 44 1 15 0 58"/>
</defs>
<g transform="scale(0.1)">
<use href="#t0" fill="#fff"/><use href="#t0" fill="none" stroke="#d21212" stroke-width="6.5" stroke-linejoin="round"/>
<use href="#t1" fill="#fff"/><use href="#t1" fill="none" stroke="#f2493a" stroke-width="6.5" stroke-linejoin="round"/>
<use href="#t2" fill="#fff"/><use href="#t2" fill="none" stroke="#ee1a90" stroke-width="6.5" stroke-linejoin="round"/>
<use href="#t3" fill="#fff"/><use href="#t3" fill="none" stroke="#f28a2c" stroke-width="6.5" stroke-linejoin="round"/>
<use href="#t4" fill="#fff"/><use href="#t4" fill="none" stroke="#e8aa2a" stroke-width="6.5" stroke-linejoin="round"/>
<use href="#t5" fill="#fff"/><use href="#t5" fill="none" stroke="#e4cc2a" stroke-width="6.5" stroke-linejoin="round"/>
<use href="#t6" fill="#fff"/><use href="#t6" fill="none" stroke="#a6dc32" stroke-width="6.5" stroke-linejoin="round"/>
<use href="#t7" fill="#fff"/><use href="#t7" fill="none" stroke="#2cdc2c" stroke-width="6.5" stroke-linejoin="round"/>
<use href="#t8" fill="#fff"/><use href="#t8" fill="none" stroke="#22cc88" stroke-width="6.5" stroke-linejoin="round"/>
<use href="#t9" fill="#fff"/><use href="#t9" fill="none" stroke="#22c6c2" stroke-width="6.5" stroke-linejoin="round"/>
<use href="#t10" fill="#fff"/><use href="#t10" fill="none" stroke="#2aa0f0" stroke-width="6.5" stroke-linejoin="round"/>
<use href="#t11" fill="#fff"/><use href="#t11" fill="none" stroke="#2f4cf2" stroke-width="6.5" stroke-linejoin="round"/>
<use href="#t12" fill="#fff"/><use href="#t12" fill="none" stroke="#7420e6" stroke-width="6.5" stroke-linejoin="round"/>
<use href="#t13" fill="#fff"/><use href="#t13" fill="none" stroke="#a21ec8" stroke-width="6.5" stroke-linejoin="round"/>
</g>
<path d="M61.72,216.83L63.93,391.69L414.14,389.65L518.91,127.34M63.93,391.69h-3M63.88,387.91h-6M63.83,384.13h-3M63.78,380.35h-3M63.74,376.57h-3M63.69,372.78h-3M63.64,369.00h-3M63.59,365.21h-3M63.55,361.42h-3M63.50,357.63h-3M63.45,353.85h-3M63.40,350.06h-6M63.35,346.27h-3M63.31,342.47h-3M63.26,338.68h-3M63.21,334.89h-3M63.16,331.09h-3M63.11,327.30h-3M63.07,323.50h-3M63.02,319.70h-3M62.97,315.91h-3M62.92,312.11h-6M62.88,308.31h-3M62.83,304.51h-3M62.78,300.70h-3M62.73,296.90h-3M62.68,293.10h-3M62.63,289.29h-3M62.59,285.49h-3M62.54,281.68h-3M62.49,277.87h-3M62.44,274.06h-6M62.39,270.26h-3M62.35,266.45h-3M62.30,262.63h-3M62.25,258.82h-3M62.20,255.01h-3M62.15,251.19h-3M62.11,247.38h-3M62.06,243.56h-3M62.01,239.75h-3M61.96,235.93h-6M61.91,232.11h-3M61.86,228.29h-3M61.82,224.47h-3M61.77,220.65h-3M61.72,216.83h-3M63.93,391.69v6.5M68.97,391.66v3.2M74.00,391.63v3.2M79.04,391.61v3.2M84.07,391.58v3.2M89.11,391.55v3.2M94.14,391.52v3.2M99.17,391.49v3.2M104.20,391.46v3.2M109.23,391.43v3.2M114.26,391.40v6.5M119.29,391.37v3.2M124.31,391.34v3.2M129.34,391.31v3.2M134.36,391.28v3.2M139.39,391.25v3.2M144.41,391.22v3.2M149.43,391.20v3.2M154.45,391.17v3.2M159.47,391.14v3.2M164.49,391.11v6.5M169.51,391.08v3.2M174.52,391.05v3.2M179.54,391.02v3.2M184.55,390.99v3.2M189.57,390.96v3.2M194.58,390.93v3.2M199.59,390.90v3.2M204.60,390.87v3.2M209.61,390.85v3.2M214.62,390.82v6.5M219.63,390.79v3.2M224.63,390.76v3.2M229.64,390.73v3.2M234.64,390.70v3.2M239.65,390.67v3.2M244.65,390.64v3.2M249.65,390.61v3.2M254.65,390.58v3.2M259.65,390.55v3.2M264.65,390.52v6.5M269.65,390.50v3.2M274.64,390.47v3.2M279.64,390.44v3.2M284.63,390.41v3.2M289.63,390.38v3.2M294.62,390.35v3.2M299.61,390.32v3.2M304.60,390.29v3.2M309.59,390.26v3.2M314.58,390.23v6.5M319.57,390.20v3.2M324.55,390.18v3.2M329.54,390.15v3.2M334.52,390.12v3.2M339.51,390.09v3.2M344.49,390.06v3.2M349.47,390.03v3.2M354.45,390.00v3.2M359.43,389.97v3.2M364.41,389.94v6.5M369.39,389.91v3.2M374.36,389.89v3.2M379.34,389.86v3.2M384.31,389.83v3.2M389.29,389.80v3.2M394.26,389.77v3.2M399.23,389.74v3.2M404.20,389.71v3.2M409.17,389.68v3.2M414.14,389.65v6.5M518.91,127.34h1.94M516.27,133.94h3.78M513.57,140.69h1.98M510.81,147.60h3.86M508.00,154.66h2.02M505.11,161.88h3.95M502.16,169.26h2.07M499.14,176.82h4.04M496.05,184.56h2.12M492.89,192.48h4.14M489.65,200.60h2.17M486.33,208.91h4.24M482.92,217.43h2.23M479.44,226.16h4.35M475.86,235.12h2.28M472.19,244.31h4.46M468.42,253.74h2.34M464.56,263.42h4.58M460.59,273.35h2.41M456.51,283.56h4.70M452.32,294.05h2.47M448.02,304.83h4.84M443.59,315.92h2.54M439.03,327.32h4.98M434.35,339.06h2.62M429.52,351.15h5.13M424.55,363.60h2.70M419.42,376.43h5.28M414.14,389.65h2.78" stroke="#151515" stroke-width="1.4" fill="none"/>
<g font-family="'Liberation Sans', Arial, sans-serif" font-size="13.5" fill="#161616" stroke="#161616" stroke-width="0.4"><text transform="translate(53.0,393.1) scale(1,1.08)" text-anchor="end">0</text><text transform="translate(52.5,355.3) scale(1,1.08)" text-anchor="end">200</text><text transform="translate(52.0,317.3) scale(1,1.08)" text-anchor="end">400</text><text transform="translate(51.5,279.3) scale(1,1.08)" text-anchor="end">600</text><text transform="translate(51.1,241.1) scale(1,1.08)" text-anchor="end">800</text><text transform="translate(63.9,414.5) scale(1,1.08)" text-anchor="middle">290</text><text transform="translate(114.3,414.5) scale(1,1.08)" text-anchor="middle">300</text><text transform="translate(164.5,414.5) scale(1,1.08)" text-anchor="middle">310</text><text transform="translate(214.6,414.5) scale(1,1.08)" text-anchor="middle">320</text><text transform="translate(264.6,414.5) scale(1,1.08)" text-anchor="middle">330</text><text transform="translate(314.6,414.5) scale(1,1.08)" text-anchor="middle">340</text><text transform="translate(364.4,414.5) scale(1,1.08)" text-anchor="middle">350</text><text transform="translate(414.1,414.5) scale(1,1.08)" text-anchor="middle">360</text></g>
<g font-family="'Liberation Sans', Arial, sans-serif" fill="#161616" stroke="#161616" stroke-width="0.35"><text transform="translate(523.3,137.7) scale(1,1.08)" font-size="9.61">0</text><text transform="translate(518.0,151.4) scale(1,1.08)" font-size="9.83">300</text><text transform="translate(512.4,165.8) scale(1,1.08)" font-size="10.05">600</text><text transform="translate(506.6,180.8) scale(1,1.08)" font-size="10.29">900</text><text transform="translate(500.6,196.6) scale(1,1.08)" font-size="10.54">1200</text><text transform="translate(494.2,213.1) scale(1,1.08)" font-size="10.80">1500</text><text transform="translate(487.5,230.4) scale(1,1.08)" font-size="11.07">1800</text><text transform="translate(480.4,248.7) scale(1,1.08)" font-size="11.36">2100</text><text transform="translate(473.0,267.9) scale(1,1.08)" font-size="11.66">2400</text><text transform="translate(465.2,288.2) scale(1,1.08)" font-size="11.98">2700</text><text transform="translate(457.0,309.6) scale(1,1.08)" font-size="12.32">3000</text><text transform="translate(448.2,332.2) scale(1,1.08)" font-size="12.67">3300</text><text transform="translate(439.0,356.2) scale(1,1.08)" font-size="13.05">3600</text><text transform="translate(429.2,381.6) scale(1,1.08)" font-size="13.45">3900</text></g>
<g font-family="'Liberation Sans', Arial, sans-serif" font-size="17" fill="#111" stroke="#111" stroke-width="0.35"><text x="240.7" y="439.6" text-anchor="middle">Wavelength (nm)</text><text transform="translate(21.6,304.1) rotate(-90)" text-anchor="middle">Intensity (a.u.)</text></g>
<text x="278.6" y="20.5" font-family="Carlito, 'Liberation Sans', Arial, sans-serif" font-size="17.6" textLength="103" lengthAdjust="spacingAndGlyphs" fill="#151515">Sample: Brass</text>
</svg>
<svg class="dt" width="130" height="20" style="transform:matrix3d(-0.9460778,0.5940186,0,-0.001244079,-1.337026,-0.002629953,0,-2.657177e-05,0,0,1,0,528.1393,202.4365,0,1)"><text x="0" y="0" font-family="'Liberation Sans', Arial, sans-serif" font-size="16.0" fill="#111" stroke="#111" stroke-width="0.3">Delay time (ns)</text></svg>
</body></html>
